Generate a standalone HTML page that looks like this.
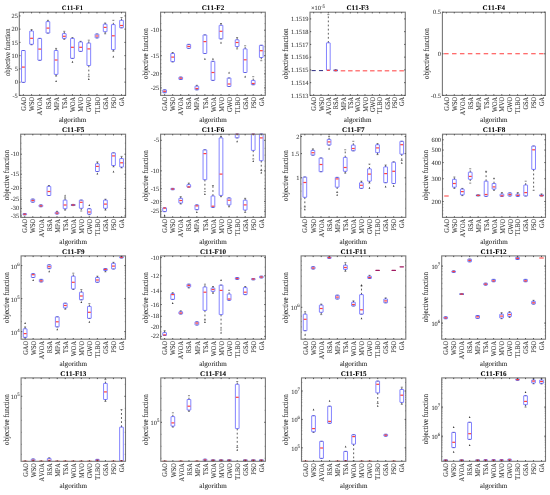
<!DOCTYPE html>
<html><head><meta charset="utf-8"><title>boxplots</title>
<style>
html,body{margin:0;padding:0;background:#fff;}
body{width:550px;height:495px;overflow:hidden;}
svg{filter:blur(0.35px);display:block;font-kerning:none;text-rendering:geometricPrecision;font-family:"Liberation Serif","Times New Roman",serif;fill:#222;}
text{stroke:#444;stroke-width:0.06;}
.ax{fill:none;stroke:#777;stroke-width:1.1;}
.tk{stroke:#333;stroke-width:0.8;}
.bx{fill:none;stroke:#4f4fff;stroke-width:0.7;}
.md{stroke:#ff4040;stroke-width:1.2;}
.fl{stroke:#ff5c5c;stroke-width:1.2;}
.fd{stroke:#a01860;stroke-width:1.3;stroke-linecap:round;}
.fk{stroke:#2a2a80;stroke-width:1.0;stroke-linecap:round;}
.wh{stroke:#333;stroke-width:0.8;stroke-dasharray:1.8 2.3;}
.cap{stroke:#333;stroke-width:0.6;}
.ol{fill:#3a3a3a;stroke:none;}
.bxs{fill:#5050d0;stroke:none;}
.mt{stroke:#555;stroke-width:0.5;}
.tl{fill:#333;}
.tt{fill:#000;}
</style></head>
<body>
<svg width="550" height="495" viewBox="0 0 550 495">
<rect width="550" height="495" fill="#fff"/>
<g>
<line x1="22.39" y1="50.5" x2="24.39" y2="50.5" class="cap"/>
<line x1="22.39" y1="82.4" x2="24.39" y2="82.4" class="cap"/>
<rect x="21.54" y="50.5" width="3.7" height="31.9" rx="0.3" class="bx"/>
<line x1="21.94" y1="67.1" x2="24.84" y2="67.1" class="md"/>
<line x1="31.57" y1="31" x2="31.57" y2="29.6" class="wh"/>
<line x1="31.57" y1="44.3" x2="31.57" y2="44.8" class="wh"/>
<line x1="30.57" y1="29.6" x2="32.57" y2="29.6" class="cap"/>
<line x1="30.57" y1="44.8" x2="32.57" y2="44.8" class="cap"/>
<rect x="29.72" y="31" width="3.7" height="13.3" rx="0.3" class="bx"/>
<line x1="30.12" y1="38.3" x2="33.02" y2="38.3" class="md"/>
<line x1="38.74" y1="38.4" x2="40.74" y2="38.4" class="cap"/>
<line x1="38.74" y1="60.3" x2="40.74" y2="60.3" class="cap"/>
<rect x="37.89" y="38.4" width="3.7" height="21.9" rx="0.3" class="bx"/>
<line x1="38.29" y1="49.1" x2="41.19" y2="49.1" class="md"/>
<line x1="47.92" y1="21.6" x2="47.92" y2="20.3" class="wh"/>
<line x1="46.92" y1="20.3" x2="48.92" y2="20.3" class="cap"/>
<line x1="46.92" y1="33.1" x2="48.92" y2="33.1" class="cap"/>
<rect x="46.07" y="21.6" width="3.7" height="11.5" rx="0.3" class="bx"/>
<line x1="46.47" y1="28.1" x2="49.37" y2="28.1" class="md"/>
<line x1="56.1" y1="50.5" x2="56.1" y2="48.4" class="wh"/>
<line x1="56.1" y1="74.4" x2="56.1" y2="76.1" class="wh"/>
<line x1="55.1" y1="48.4" x2="57.1" y2="48.4" class="cap"/>
<line x1="55.1" y1="76.1" x2="57.1" y2="76.1" class="cap"/>
<rect x="54.25" y="50.5" width="3.7" height="23.9" rx="0.3" class="bx"/>
<line x1="54.65" y1="60" x2="57.55" y2="60" class="md"/>
<path d="M55.25 82L56.95 82L56.1 80Z" class="ol"/>
<line x1="64.27" y1="33.6" x2="64.27" y2="31.3" class="wh"/>
<line x1="64.27" y1="38.4" x2="64.27" y2="39.3" class="wh"/>
<line x1="63.27" y1="31.3" x2="65.27" y2="31.3" class="cap"/>
<line x1="63.27" y1="39.3" x2="65.27" y2="39.3" class="cap"/>
<rect x="62.42" y="33.6" width="3.7" height="4.8" rx="0.3" class="bx"/>
<line x1="62.82" y1="36.3" x2="65.72" y2="36.3" class="md"/>
<line x1="72.45" y1="38.4" x2="72.45" y2="37.6" class="wh"/>
<line x1="71.45" y1="37.6" x2="73.45" y2="37.6" class="cap"/>
<line x1="71.45" y1="58.4" x2="73.45" y2="58.4" class="cap"/>
<rect x="70.6" y="38.4" width="3.7" height="20" rx="0.3" class="bx"/>
<line x1="71" y1="47.3" x2="73.9" y2="47.3" class="md"/>
<path d="M71.6 62.8L73.3 62.8L72.45 60.8Z" class="ol"/>
<line x1="80.63" y1="42" x2="80.63" y2="41.3" class="wh"/>
<line x1="79.63" y1="41.3" x2="81.63" y2="41.3" class="cap"/>
<line x1="79.63" y1="51.4" x2="81.63" y2="51.4" class="cap"/>
<rect x="78.78" y="42" width="3.7" height="9.4" rx="0.3" class="bx"/>
<line x1="79.18" y1="47.3" x2="82.08" y2="47.3" class="md"/>
<line x1="88.8" y1="43.1" x2="88.8" y2="40.2" class="wh"/>
<line x1="88.8" y1="65.5" x2="88.8" y2="76.7" class="wh"/>
<line x1="87.8" y1="40.2" x2="89.8" y2="40.2" class="cap"/>
<line x1="87.8" y1="76.7" x2="89.8" y2="76.7" class="cap"/>
<rect x="86.95" y="43.1" width="3.7" height="22.4" rx="0.3" class="bx"/>
<line x1="87.35" y1="48.9" x2="90.25" y2="48.9" class="md"/>
<path d="M87.95 79.9L89.65 79.9L88.8 77.9Z" class="ol"/>
<line x1="95.98" y1="34" x2="97.98" y2="34" class="cap"/>
<line x1="95.98" y1="37.9" x2="97.98" y2="37.9" class="cap"/>
<rect x="95.13" y="34" width="3.7" height="3.9" rx="0.3" class="bx"/>
<line x1="95.53" y1="36" x2="98.43" y2="36" class="md"/>
<line x1="105.16" y1="24.2" x2="105.16" y2="23" class="wh"/>
<line x1="105.16" y1="31.7" x2="105.16" y2="33.8" class="wh"/>
<line x1="104.16" y1="23" x2="106.16" y2="23" class="cap"/>
<line x1="104.16" y1="33.8" x2="106.16" y2="33.8" class="cap"/>
<rect x="103.31" y="24.2" width="3.7" height="7.5" rx="0.3" class="bx"/>
<line x1="103.71" y1="27.4" x2="106.61" y2="27.4" class="md"/>
<line x1="113.33" y1="24.6" x2="113.33" y2="20.3" class="wh"/>
<line x1="113.33" y1="49.6" x2="113.33" y2="51.2" class="wh"/>
<line x1="112.33" y1="20.3" x2="114.33" y2="20.3" class="cap"/>
<line x1="112.33" y1="51.2" x2="114.33" y2="51.2" class="cap"/>
<rect x="111.48" y="24.6" width="3.7" height="25" rx="0.3" class="bx"/>
<line x1="111.88" y1="35.8" x2="114.78" y2="35.8" class="md"/>
<path d="M112.48 57.5L114.18 57.5L113.33 55.5Z" class="ol"/>
<line x1="121.51" y1="20.3" x2="121.51" y2="17.5" class="wh"/>
<line x1="120.51" y1="17.5" x2="122.51" y2="17.5" class="cap"/>
<line x1="120.51" y1="27.8" x2="122.51" y2="27.8" class="cap"/>
<rect x="119.66" y="20.3" width="3.7" height="7.5" rx="0.3" class="bx"/>
<line x1="120.06" y1="25.5" x2="122.96" y2="25.5" class="md"/>
</g>
<rect x="19.3" y="12.2" width="106.3" height="83.2" class="ax"/>
<line x1="23.39" y1="95.4" x2="23.39" y2="94.2" class="tk"/>
<line x1="23.39" y1="12.2" x2="23.39" y2="13.4" class="tk"/>
<line x1="31.57" y1="95.4" x2="31.57" y2="94.2" class="tk"/>
<line x1="31.57" y1="12.2" x2="31.57" y2="13.4" class="tk"/>
<line x1="39.74" y1="95.4" x2="39.74" y2="94.2" class="tk"/>
<line x1="39.74" y1="12.2" x2="39.74" y2="13.4" class="tk"/>
<line x1="47.92" y1="95.4" x2="47.92" y2="94.2" class="tk"/>
<line x1="47.92" y1="12.2" x2="47.92" y2="13.4" class="tk"/>
<line x1="56.1" y1="95.4" x2="56.1" y2="94.2" class="tk"/>
<line x1="56.1" y1="12.2" x2="56.1" y2="13.4" class="tk"/>
<line x1="64.27" y1="95.4" x2="64.27" y2="94.2" class="tk"/>
<line x1="64.27" y1="12.2" x2="64.27" y2="13.4" class="tk"/>
<line x1="72.45" y1="95.4" x2="72.45" y2="94.2" class="tk"/>
<line x1="72.45" y1="12.2" x2="72.45" y2="13.4" class="tk"/>
<line x1="80.63" y1="95.4" x2="80.63" y2="94.2" class="tk"/>
<line x1="80.63" y1="12.2" x2="80.63" y2="13.4" class="tk"/>
<line x1="88.8" y1="95.4" x2="88.8" y2="94.2" class="tk"/>
<line x1="88.8" y1="12.2" x2="88.8" y2="13.4" class="tk"/>
<line x1="96.98" y1="95.4" x2="96.98" y2="94.2" class="tk"/>
<line x1="96.98" y1="12.2" x2="96.98" y2="13.4" class="tk"/>
<line x1="105.16" y1="95.4" x2="105.16" y2="94.2" class="tk"/>
<line x1="105.16" y1="12.2" x2="105.16" y2="13.4" class="tk"/>
<line x1="113.33" y1="95.4" x2="113.33" y2="94.2" class="tk"/>
<line x1="113.33" y1="12.2" x2="113.33" y2="13.4" class="tk"/>
<line x1="121.51" y1="95.4" x2="121.51" y2="94.2" class="tk"/>
<line x1="121.51" y1="12.2" x2="121.51" y2="13.4" class="tk"/>
<line x1="19.3" y1="95.4" x2="20.5" y2="95.4" class="tk"/>
<line x1="125.6" y1="95.4" x2="124.4" y2="95.4" class="tk"/>
<text transform="translate(17.8,97.5)" font-size="6.35" text-anchor="end" class="tl">-5</text>
<line x1="19.3" y1="82.15" x2="20.5" y2="82.15" class="tk"/>
<line x1="125.6" y1="82.15" x2="124.4" y2="82.15" class="tk"/>
<text transform="translate(17.8,84.25)" font-size="6.35" text-anchor="end" class="tl">0</text>
<line x1="19.3" y1="68.9" x2="20.5" y2="68.9" class="tk"/>
<line x1="125.6" y1="68.9" x2="124.4" y2="68.9" class="tk"/>
<text transform="translate(17.8,71)" font-size="6.35" text-anchor="end" class="tl">5</text>
<line x1="19.3" y1="55.65" x2="20.5" y2="55.65" class="tk"/>
<line x1="125.6" y1="55.65" x2="124.4" y2="55.65" class="tk"/>
<text transform="translate(17.8,57.75)" font-size="6.35" text-anchor="end" class="tl">10</text>
<line x1="19.3" y1="42.4" x2="20.5" y2="42.4" class="tk"/>
<line x1="125.6" y1="42.4" x2="124.4" y2="42.4" class="tk"/>
<text transform="translate(17.8,44.5)" font-size="6.35" text-anchor="end" class="tl">15</text>
<line x1="19.3" y1="29.15" x2="20.5" y2="29.15" class="tk"/>
<line x1="125.6" y1="29.15" x2="124.4" y2="29.15" class="tk"/>
<text transform="translate(17.8,31.25)" font-size="6.35" text-anchor="end" class="tl">20</text>
<line x1="19.3" y1="15.9" x2="20.5" y2="15.9" class="tk"/>
<line x1="125.6" y1="15.9" x2="124.4" y2="15.9" class="tk"/>
<text transform="translate(17.8,18)" font-size="6.35" text-anchor="end" class="tl">25</text>
<text transform="translate(26.04,96.9) rotate(-90) scale(1,1.15)" font-size="6.35" text-anchor="end" class="tl">GAO</text>
<text transform="translate(34.22,96.9) rotate(-90) scale(1,1.15)" font-size="6.35" text-anchor="end" class="tl">WSO</text>
<text transform="translate(42.39,96.9) rotate(-90) scale(1,1.15)" font-size="6.35" text-anchor="end" class="tl">AVOA</text>
<text transform="translate(50.57,96.9) rotate(-90) scale(1,1.15)" font-size="6.35" text-anchor="end" class="tl">RSA</text>
<text transform="translate(58.75,96.9) rotate(-90) scale(1,1.15)" font-size="6.35" text-anchor="end" class="tl">MPA</text>
<text transform="translate(66.92,96.9) rotate(-90) scale(1,1.15)" font-size="6.35" text-anchor="end" class="tl">TSA</text>
<text transform="translate(75.1,96.9) rotate(-90) scale(1,1.15)" font-size="6.35" text-anchor="end" class="tl">WOA</text>
<text transform="translate(83.28,96.9) rotate(-90) scale(1,1.15)" font-size="6.35" text-anchor="end" class="tl">MVO</text>
<text transform="translate(91.45,96.9) rotate(-90) scale(1,1.15)" font-size="6.35" text-anchor="end" class="tl">GWO</text>
<text transform="translate(99.63,96.9) rotate(-90) scale(1,1.15)" font-size="6.35" text-anchor="end" class="tl">TLBO</text>
<text transform="translate(107.81,96.9) rotate(-90) scale(1,1.15)" font-size="6.35" text-anchor="end" class="tl">GSA</text>
<text transform="translate(115.98,96.9) rotate(-90) scale(1,1.15)" font-size="6.35" text-anchor="end" class="tl">PSO</text>
<text transform="translate(124.16,96.9) rotate(-90) scale(1,1.15)" font-size="6.35" text-anchor="end" class="tl">GA</text>
<text transform="translate(72.45,121.5)" font-size="7.1" text-anchor="middle">algorithm</text>
<text transform="translate(9.7,52.25) rotate(-90) scale(1,1.15)" font-size="6.57" text-anchor="middle">objective function</text>
<text transform="translate(72.45,10.2)" font-size="6.7" text-anchor="middle" font-weight="bold" class="tt">C11-F1</text>
<g>
<line x1="163.63" y1="89.8" x2="165.63" y2="89.8" class="cap"/>
<line x1="163.63" y1="92.7" x2="165.63" y2="92.7" class="cap"/>
<rect x="162.78" y="89.8" width="3.7" height="2.9" rx="0.3" class="bx"/>
<line x1="163.18" y1="91.3" x2="166.08" y2="91.3" class="md"/>
<line x1="172.68" y1="53.5" x2="172.68" y2="52.5" class="wh"/>
<line x1="172.68" y1="61.6" x2="172.68" y2="62" class="wh"/>
<line x1="171.68" y1="52.5" x2="173.68" y2="52.5" class="cap"/>
<line x1="171.68" y1="62" x2="173.68" y2="62" class="cap"/>
<rect x="170.83" y="53.5" width="3.7" height="8.1" rx="0.3" class="bx"/>
<line x1="171.23" y1="57.1" x2="174.13" y2="57.1" class="md"/>
<line x1="179.73" y1="77.1" x2="181.73" y2="77.1" class="cap"/>
<line x1="179.73" y1="79.5" x2="181.73" y2="79.5" class="cap"/>
<rect x="178.88" y="77.1" width="3.7" height="2.4" rx="0.3" class="bx"/>
<line x1="179.28" y1="78.2" x2="182.18" y2="78.2" class="md"/>
<line x1="187.79" y1="44.4" x2="189.79" y2="44.4" class="cap"/>
<line x1="187.79" y1="48.4" x2="189.79" y2="48.4" class="cap"/>
<rect x="186.94" y="44.4" width="3.7" height="4" rx="0.3" class="bx"/>
<line x1="187.34" y1="46.4" x2="190.24" y2="46.4" class="md"/>
<line x1="196.84" y1="86.2" x2="196.84" y2="85.3" class="wh"/>
<line x1="195.84" y1="85.3" x2="197.84" y2="85.3" class="cap"/>
<line x1="195.84" y1="89.8" x2="197.84" y2="89.8" class="cap"/>
<rect x="194.99" y="86.2" width="3.7" height="3.6" rx="0.3" class="bx"/>
<line x1="195.39" y1="88.5" x2="198.29" y2="88.5" class="md"/>
<line x1="203.9" y1="34.9" x2="205.9" y2="34.9" class="cap"/>
<line x1="203.9" y1="53.5" x2="205.9" y2="53.5" class="cap"/>
<rect x="203.05" y="34.9" width="3.7" height="18.6" rx="0.3" class="bx"/>
<line x1="203.45" y1="41.6" x2="206.35" y2="41.6" class="md"/>
<path d="M204.05 59.8L205.75 59.8L204.9 57.8Z" class="ol"/>
<line x1="211.95" y1="61.3" x2="213.95" y2="61.3" class="cap"/>
<line x1="211.95" y1="80.4" x2="213.95" y2="80.4" class="cap"/>
<rect x="211.1" y="61.3" width="3.7" height="19.1" rx="0.3" class="bx"/>
<line x1="211.5" y1="72.5" x2="214.4" y2="72.5" class="md"/>
<path d="M212.1 59.8L213.8 59.8L212.95 57.8Z" class="ol"/>
<line x1="221" y1="25.3" x2="221" y2="23.5" class="wh"/>
<line x1="220" y1="23.5" x2="222" y2="23.5" class="cap"/>
<line x1="220" y1="38.9" x2="222" y2="38.9" class="cap"/>
<rect x="219.15" y="25.3" width="3.7" height="13.6" rx="0.3" class="bx"/>
<line x1="219.55" y1="31.3" x2="222.45" y2="31.3" class="md"/>
<path d="M220.15 43.4L221.85 43.4L221 41.4Z" class="ol"/>
<line x1="228.06" y1="78" x2="230.06" y2="78" class="cap"/>
<line x1="228.06" y1="86.5" x2="230.06" y2="86.5" class="cap"/>
<rect x="227.21" y="78" width="3.7" height="8.5" rx="0.3" class="bx"/>
<line x1="227.61" y1="84" x2="230.51" y2="84" class="md"/>
<path d="M228.21 73.4L229.91 73.4L229.06 71.4Z" class="ol"/>
<line x1="237.11" y1="39.8" x2="237.11" y2="37.5" class="wh"/>
<line x1="237.11" y1="46.5" x2="237.11" y2="48.9" class="wh"/>
<line x1="236.11" y1="37.5" x2="238.11" y2="37.5" class="cap"/>
<line x1="236.11" y1="48.9" x2="238.11" y2="48.9" class="cap"/>
<rect x="235.26" y="39.8" width="3.7" height="6.7" rx="0.3" class="bx"/>
<line x1="235.66" y1="42.5" x2="238.56" y2="42.5" class="md"/>
<line x1="245.17" y1="48.9" x2="245.17" y2="45.8" class="wh"/>
<line x1="244.17" y1="45.8" x2="246.17" y2="45.8" class="cap"/>
<line x1="244.17" y1="72.5" x2="246.17" y2="72.5" class="cap"/>
<rect x="243.32" y="48.9" width="3.7" height="23.6" rx="0.3" class="bx"/>
<line x1="243.72" y1="59.8" x2="246.62" y2="59.8" class="md"/>
<path d="M244.32 77.6L246.02 77.6L245.17 75.6Z" class="ol"/>
<line x1="253.22" y1="80.4" x2="253.22" y2="76.7" class="wh"/>
<line x1="252.22" y1="76.7" x2="254.22" y2="76.7" class="cap"/>
<line x1="252.22" y1="84.7" x2="254.22" y2="84.7" class="cap"/>
<rect x="251.37" y="80.4" width="3.7" height="4.3" rx="0.3" class="bx"/>
<line x1="251.77" y1="83.5" x2="254.67" y2="83.5" class="md"/>
<line x1="261.27" y1="57.5" x2="261.27" y2="60.7" class="wh"/>
<line x1="260.27" y1="45.3" x2="262.27" y2="45.3" class="cap"/>
<line x1="260.27" y1="60.7" x2="262.27" y2="60.7" class="cap"/>
<rect x="259.42" y="45.3" width="3.7" height="12.2" rx="0.3" class="bx"/>
<line x1="259.82" y1="50.7" x2="262.72" y2="50.7" class="md"/>
</g>
<rect x="160.6" y="12.2" width="104.7" height="83.2" class="ax"/>
<line x1="164.63" y1="95.4" x2="164.63" y2="94.2" class="tk"/>
<line x1="164.63" y1="12.2" x2="164.63" y2="13.4" class="tk"/>
<line x1="172.68" y1="95.4" x2="172.68" y2="94.2" class="tk"/>
<line x1="172.68" y1="12.2" x2="172.68" y2="13.4" class="tk"/>
<line x1="180.73" y1="95.4" x2="180.73" y2="94.2" class="tk"/>
<line x1="180.73" y1="12.2" x2="180.73" y2="13.4" class="tk"/>
<line x1="188.79" y1="95.4" x2="188.79" y2="94.2" class="tk"/>
<line x1="188.79" y1="12.2" x2="188.79" y2="13.4" class="tk"/>
<line x1="196.84" y1="95.4" x2="196.84" y2="94.2" class="tk"/>
<line x1="196.84" y1="12.2" x2="196.84" y2="13.4" class="tk"/>
<line x1="204.9" y1="95.4" x2="204.9" y2="94.2" class="tk"/>
<line x1="204.9" y1="12.2" x2="204.9" y2="13.4" class="tk"/>
<line x1="212.95" y1="95.4" x2="212.95" y2="94.2" class="tk"/>
<line x1="212.95" y1="12.2" x2="212.95" y2="13.4" class="tk"/>
<line x1="221" y1="95.4" x2="221" y2="94.2" class="tk"/>
<line x1="221" y1="12.2" x2="221" y2="13.4" class="tk"/>
<line x1="229.06" y1="95.4" x2="229.06" y2="94.2" class="tk"/>
<line x1="229.06" y1="12.2" x2="229.06" y2="13.4" class="tk"/>
<line x1="237.11" y1="95.4" x2="237.11" y2="94.2" class="tk"/>
<line x1="237.11" y1="12.2" x2="237.11" y2="13.4" class="tk"/>
<line x1="245.17" y1="95.4" x2="245.17" y2="94.2" class="tk"/>
<line x1="245.17" y1="12.2" x2="245.17" y2="13.4" class="tk"/>
<line x1="253.22" y1="95.4" x2="253.22" y2="94.2" class="tk"/>
<line x1="253.22" y1="12.2" x2="253.22" y2="13.4" class="tk"/>
<line x1="261.27" y1="95.4" x2="261.27" y2="94.2" class="tk"/>
<line x1="261.27" y1="12.2" x2="261.27" y2="13.4" class="tk"/>
<line x1="160.6" y1="30.2" x2="161.8" y2="30.2" class="tk"/>
<line x1="265.3" y1="30.2" x2="264.1" y2="30.2" class="tk"/>
<text transform="translate(159.1,32.3)" font-size="6.35" text-anchor="end" class="tl">-10</text>
<line x1="160.6" y1="55.73" x2="161.8" y2="55.73" class="tk"/>
<line x1="265.3" y1="55.73" x2="264.1" y2="55.73" class="tk"/>
<text transform="translate(159.1,57.83)" font-size="6.35" text-anchor="end" class="tl">-15</text>
<line x1="160.6" y1="73.85" x2="161.8" y2="73.85" class="tk"/>
<line x1="265.3" y1="73.85" x2="264.1" y2="73.85" class="tk"/>
<text transform="translate(159.1,75.95)" font-size="6.35" text-anchor="end" class="tl">-20</text>
<line x1="160.6" y1="87.9" x2="161.8" y2="87.9" class="tk"/>
<line x1="265.3" y1="87.9" x2="264.1" y2="87.9" class="tk"/>
<text transform="translate(159.1,90)" font-size="6.35" text-anchor="end" class="tl">-25</text>
<line x1="160.6" y1="16.15" x2="161.4" y2="16.15" class="mt"/>
<line x1="265.3" y1="16.15" x2="264.5" y2="16.15" class="mt"/>
<line x1="160.6" y1="23.57" x2="161.4" y2="23.57" class="mt"/>
<line x1="265.3" y1="23.57" x2="264.5" y2="23.57" class="mt"/>
<line x1="160.6" y1="36.2" x2="161.4" y2="36.2" class="mt"/>
<line x1="265.3" y1="36.2" x2="264.5" y2="36.2" class="mt"/>
<line x1="160.6" y1="41.68" x2="161.4" y2="41.68" class="mt"/>
<line x1="265.3" y1="41.68" x2="264.5" y2="41.68" class="mt"/>
<line x1="160.6" y1="46.72" x2="161.4" y2="46.72" class="mt"/>
<line x1="265.3" y1="46.72" x2="264.5" y2="46.72" class="mt"/>
<line x1="160.6" y1="51.39" x2="161.4" y2="51.39" class="mt"/>
<line x1="265.3" y1="51.39" x2="264.5" y2="51.39" class="mt"/>
<line x1="160.6" y1="59.8" x2="161.4" y2="59.8" class="mt"/>
<line x1="265.3" y1="59.8" x2="264.5" y2="59.8" class="mt"/>
<line x1="160.6" y1="63.62" x2="161.4" y2="63.62" class="mt"/>
<line x1="265.3" y1="63.62" x2="264.5" y2="63.62" class="mt"/>
<line x1="160.6" y1="67.21" x2="161.4" y2="67.21" class="mt"/>
<line x1="265.3" y1="67.21" x2="264.5" y2="67.21" class="mt"/>
<line x1="160.6" y1="70.62" x2="161.4" y2="70.62" class="mt"/>
<line x1="265.3" y1="70.62" x2="264.5" y2="70.62" class="mt"/>
<line x1="160.6" y1="76.92" x2="161.4" y2="76.92" class="mt"/>
<line x1="265.3" y1="76.92" x2="264.5" y2="76.92" class="mt"/>
<line x1="160.6" y1="79.85" x2="161.4" y2="79.85" class="mt"/>
<line x1="265.3" y1="79.85" x2="264.5" y2="79.85" class="mt"/>
<line x1="160.6" y1="82.65" x2="161.4" y2="82.65" class="mt"/>
<line x1="265.3" y1="82.65" x2="264.5" y2="82.65" class="mt"/>
<line x1="160.6" y1="85.33" x2="161.4" y2="85.33" class="mt"/>
<line x1="265.3" y1="85.33" x2="264.5" y2="85.33" class="mt"/>
<line x1="160.6" y1="90.37" x2="161.4" y2="90.37" class="mt"/>
<line x1="265.3" y1="90.37" x2="264.5" y2="90.37" class="mt"/>
<line x1="160.6" y1="92.75" x2="161.4" y2="92.75" class="mt"/>
<line x1="265.3" y1="92.75" x2="264.5" y2="92.75" class="mt"/>
<text transform="translate(167.28,96.9) rotate(-90) scale(1,1.15)" font-size="6.35" text-anchor="end" class="tl">GAO</text>
<text transform="translate(175.33,96.9) rotate(-90) scale(1,1.15)" font-size="6.35" text-anchor="end" class="tl">WSO</text>
<text transform="translate(183.38,96.9) rotate(-90) scale(1,1.15)" font-size="6.35" text-anchor="end" class="tl">AVOA</text>
<text transform="translate(191.44,96.9) rotate(-90) scale(1,1.15)" font-size="6.35" text-anchor="end" class="tl">RSA</text>
<text transform="translate(199.49,96.9) rotate(-90) scale(1,1.15)" font-size="6.35" text-anchor="end" class="tl">MPA</text>
<text transform="translate(207.55,96.9) rotate(-90) scale(1,1.15)" font-size="6.35" text-anchor="end" class="tl">TSA</text>
<text transform="translate(215.6,96.9) rotate(-90) scale(1,1.15)" font-size="6.35" text-anchor="end" class="tl">WOA</text>
<text transform="translate(223.65,96.9) rotate(-90) scale(1,1.15)" font-size="6.35" text-anchor="end" class="tl">MVO</text>
<text transform="translate(231.71,96.9) rotate(-90) scale(1,1.15)" font-size="6.35" text-anchor="end" class="tl">GWO</text>
<text transform="translate(239.76,96.9) rotate(-90) scale(1,1.15)" font-size="6.35" text-anchor="end" class="tl">TLBO</text>
<text transform="translate(247.82,96.9) rotate(-90) scale(1,1.15)" font-size="6.35" text-anchor="end" class="tl">GSA</text>
<text transform="translate(255.87,96.9) rotate(-90) scale(1,1.15)" font-size="6.35" text-anchor="end" class="tl">PSO</text>
<text transform="translate(263.92,96.9) rotate(-90) scale(1,1.15)" font-size="6.35" text-anchor="end" class="tl">GA</text>
<text transform="translate(212.95,121.5)" font-size="7.1" text-anchor="middle">algorithm</text>
<text transform="translate(148.4,53.6) rotate(-90) scale(1,1.15)" font-size="7.02" text-anchor="middle">objective function</text>
<text transform="translate(212.95,10.2)" font-size="7.1" text-anchor="middle" font-weight="bold" class="tt">C11-F2</text>
<g>
<line x1="312.02" y1="70.6" x2="315.32" y2="70.6" class="fk"/>
<line x1="319.35" y1="70.6" x2="322.65" y2="70.6" class="fk"/>
<line x1="328.33" y1="42.8" x2="328.33" y2="14.6" class="wh"/>
<line x1="327.33" y1="14.6" x2="329.33" y2="14.6" class="cap"/>
<line x1="327.33" y1="70.3" x2="329.33" y2="70.3" class="cap"/>
<rect x="326.48" y="42.8" width="3.7" height="27.5" rx="0.3" class="bx"/>
<line x1="326.88" y1="70.3" x2="329.78" y2="70.3" class="md"/>
<line x1="335.66" y1="69.9" x2="335.66" y2="69.6" class="wh"/>
<line x1="334.66" y1="69.6" x2="336.66" y2="69.6" class="cap"/>
<line x1="334.66" y1="70.9" x2="336.66" y2="70.9" class="cap"/>
<rect x="333.41" y="69.6" width="4.5" height="1.6" class="bxs"/>
<line x1="334.21" y1="70.5" x2="337.11" y2="70.5" class="md"/>
<line x1="340.74" y1="70.8" x2="345.24" y2="70.8" class="fl"/>
<line x1="348.07" y1="70.8" x2="352.57" y2="70.8" class="fl"/>
<line x1="355.4" y1="70.8" x2="359.9" y2="70.8" class="fl"/>
<line x1="362.73" y1="70.8" x2="367.23" y2="70.8" class="fl"/>
<line x1="370.06" y1="70.8" x2="374.56" y2="70.8" class="fl"/>
<line x1="377.39" y1="70.8" x2="381.89" y2="70.8" class="fl"/>
<line x1="384.72" y1="70.8" x2="389.22" y2="70.8" class="fl"/>
<line x1="392.05" y1="70.8" x2="396.55" y2="70.8" class="fl"/>
<line x1="399.38" y1="70.8" x2="403.88" y2="70.8" class="fl"/>
</g>
<rect x="310" y="12.2" width="95.3" height="83.2" class="ax"/>
<line x1="313.67" y1="95.4" x2="313.67" y2="94.2" class="tk"/>
<line x1="313.67" y1="12.2" x2="313.67" y2="13.4" class="tk"/>
<line x1="321" y1="95.4" x2="321" y2="94.2" class="tk"/>
<line x1="321" y1="12.2" x2="321" y2="13.4" class="tk"/>
<line x1="328.33" y1="95.4" x2="328.33" y2="94.2" class="tk"/>
<line x1="328.33" y1="12.2" x2="328.33" y2="13.4" class="tk"/>
<line x1="335.66" y1="95.4" x2="335.66" y2="94.2" class="tk"/>
<line x1="335.66" y1="12.2" x2="335.66" y2="13.4" class="tk"/>
<line x1="342.99" y1="95.4" x2="342.99" y2="94.2" class="tk"/>
<line x1="342.99" y1="12.2" x2="342.99" y2="13.4" class="tk"/>
<line x1="350.32" y1="95.4" x2="350.32" y2="94.2" class="tk"/>
<line x1="350.32" y1="12.2" x2="350.32" y2="13.4" class="tk"/>
<line x1="357.65" y1="95.4" x2="357.65" y2="94.2" class="tk"/>
<line x1="357.65" y1="12.2" x2="357.65" y2="13.4" class="tk"/>
<line x1="364.98" y1="95.4" x2="364.98" y2="94.2" class="tk"/>
<line x1="364.98" y1="12.2" x2="364.98" y2="13.4" class="tk"/>
<line x1="372.31" y1="95.4" x2="372.31" y2="94.2" class="tk"/>
<line x1="372.31" y1="12.2" x2="372.31" y2="13.4" class="tk"/>
<line x1="379.64" y1="95.4" x2="379.64" y2="94.2" class="tk"/>
<line x1="379.64" y1="12.2" x2="379.64" y2="13.4" class="tk"/>
<line x1="386.97" y1="95.4" x2="386.97" y2="94.2" class="tk"/>
<line x1="386.97" y1="12.2" x2="386.97" y2="13.4" class="tk"/>
<line x1="394.3" y1="95.4" x2="394.3" y2="94.2" class="tk"/>
<line x1="394.3" y1="12.2" x2="394.3" y2="13.4" class="tk"/>
<line x1="401.63" y1="95.4" x2="401.63" y2="94.2" class="tk"/>
<line x1="401.63" y1="12.2" x2="401.63" y2="13.4" class="tk"/>
<line x1="310" y1="18.9" x2="311.2" y2="18.9" class="tk"/>
<line x1="405.3" y1="18.9" x2="404.1" y2="18.9" class="tk"/>
<text transform="translate(308.5,21)" font-size="6.35" text-anchor="end" class="tl">1.1519</text>
<line x1="310" y1="31.65" x2="311.2" y2="31.65" class="tk"/>
<line x1="405.3" y1="31.65" x2="404.1" y2="31.65" class="tk"/>
<text transform="translate(308.5,33.75)" font-size="6.35" text-anchor="end" class="tl">1.1518</text>
<line x1="310" y1="44.4" x2="311.2" y2="44.4" class="tk"/>
<line x1="405.3" y1="44.4" x2="404.1" y2="44.4" class="tk"/>
<text transform="translate(308.5,46.5)" font-size="6.35" text-anchor="end" class="tl">1.1517</text>
<line x1="310" y1="57.15" x2="311.2" y2="57.15" class="tk"/>
<line x1="405.3" y1="57.15" x2="404.1" y2="57.15" class="tk"/>
<text transform="translate(308.5,59.25)" font-size="6.35" text-anchor="end" class="tl">1.1516</text>
<line x1="310" y1="69.9" x2="311.2" y2="69.9" class="tk"/>
<line x1="405.3" y1="69.9" x2="404.1" y2="69.9" class="tk"/>
<text transform="translate(308.5,72)" font-size="6.35" text-anchor="end" class="tl">1.1515</text>
<line x1="310" y1="82.65" x2="311.2" y2="82.65" class="tk"/>
<line x1="405.3" y1="82.65" x2="404.1" y2="82.65" class="tk"/>
<text transform="translate(308.5,84.75)" font-size="6.35" text-anchor="end" class="tl">1.1514</text>
<line x1="310" y1="95.4" x2="311.2" y2="95.4" class="tk"/>
<line x1="405.3" y1="95.4" x2="404.1" y2="95.4" class="tk"/>
<text transform="translate(308.5,97.5)" font-size="6.35" text-anchor="end" class="tl">1.1513</text>
<text transform="translate(316.32,96.9) rotate(-90) scale(1,1.15)" font-size="6.35" text-anchor="end" class="tl">GAO</text>
<text transform="translate(323.65,96.9) rotate(-90) scale(1,1.15)" font-size="6.35" text-anchor="end" class="tl">WSO</text>
<text transform="translate(330.98,96.9) rotate(-90) scale(1,1.15)" font-size="6.35" text-anchor="end" class="tl">AVOA</text>
<text transform="translate(338.31,96.9) rotate(-90) scale(1,1.15)" font-size="6.35" text-anchor="end" class="tl">RSA</text>
<text transform="translate(345.64,96.9) rotate(-90) scale(1,1.15)" font-size="6.35" text-anchor="end" class="tl">MPA</text>
<text transform="translate(352.97,96.9) rotate(-90) scale(1,1.15)" font-size="6.35" text-anchor="end" class="tl">TSA</text>
<text transform="translate(360.3,96.9) rotate(-90) scale(1,1.15)" font-size="6.35" text-anchor="end" class="tl">WOA</text>
<text transform="translate(367.63,96.9) rotate(-90) scale(1,1.15)" font-size="6.35" text-anchor="end" class="tl">MVO</text>
<text transform="translate(374.96,96.9) rotate(-90) scale(1,1.15)" font-size="6.35" text-anchor="end" class="tl">GWO</text>
<text transform="translate(382.29,96.9) rotate(-90) scale(1,1.15)" font-size="6.35" text-anchor="end" class="tl">TLBO</text>
<text transform="translate(389.62,96.9) rotate(-90) scale(1,1.15)" font-size="6.35" text-anchor="end" class="tl">GSA</text>
<text transform="translate(396.95,96.9) rotate(-90) scale(1,1.15)" font-size="6.35" text-anchor="end" class="tl">PSO</text>
<text transform="translate(404.28,96.9) rotate(-90) scale(1,1.15)" font-size="6.35" text-anchor="end" class="tl">GA</text>
<text transform="translate(357.65,121.5)" font-size="7.1" text-anchor="middle">algorithm</text>
<text transform="translate(288.4,53.75) rotate(-90) scale(1,1.15)" font-size="6.98" text-anchor="middle">objective function</text>
<text transform="translate(357.65,10.2)" font-size="7.1" text-anchor="middle" font-weight="bold" class="tt">C11-F3</text>
<text x="311" y="9.9" font-size="6.4" class="tl">×10<tspan font-size="4.8" dy="-2.2">-5</tspan></text>
<g>
<line x1="444.11" y1="53.7" x2="448.61" y2="53.7" class="fl"/>
<line x1="452.02" y1="53.7" x2="456.52" y2="53.7" class="fl"/>
<line x1="459.94" y1="53.7" x2="464.44" y2="53.7" class="fl"/>
<line x1="467.85" y1="53.7" x2="472.35" y2="53.7" class="fl"/>
<line x1="475.77" y1="53.7" x2="480.27" y2="53.7" class="fl"/>
<line x1="483.68" y1="53.7" x2="488.18" y2="53.7" class="fl"/>
<line x1="491.6" y1="53.7" x2="496.1" y2="53.7" class="fl"/>
<line x1="499.52" y1="53.7" x2="504.02" y2="53.7" class="fl"/>
<line x1="507.43" y1="53.7" x2="511.93" y2="53.7" class="fl"/>
<line x1="515.35" y1="53.7" x2="519.85" y2="53.7" class="fl"/>
<line x1="523.26" y1="53.7" x2="527.76" y2="53.7" class="fl"/>
<line x1="531.18" y1="53.7" x2="535.68" y2="53.7" class="fl"/>
<line x1="539.09" y1="53.7" x2="543.59" y2="53.7" class="fl"/>
</g>
<rect x="442.4" y="12.2" width="102.9" height="83.2" class="ax"/>
<line x1="446.36" y1="95.4" x2="446.36" y2="94.2" class="tk"/>
<line x1="446.36" y1="12.2" x2="446.36" y2="13.4" class="tk"/>
<line x1="454.27" y1="95.4" x2="454.27" y2="94.2" class="tk"/>
<line x1="454.27" y1="12.2" x2="454.27" y2="13.4" class="tk"/>
<line x1="462.19" y1="95.4" x2="462.19" y2="94.2" class="tk"/>
<line x1="462.19" y1="12.2" x2="462.19" y2="13.4" class="tk"/>
<line x1="470.1" y1="95.4" x2="470.1" y2="94.2" class="tk"/>
<line x1="470.1" y1="12.2" x2="470.1" y2="13.4" class="tk"/>
<line x1="478.02" y1="95.4" x2="478.02" y2="94.2" class="tk"/>
<line x1="478.02" y1="12.2" x2="478.02" y2="13.4" class="tk"/>
<line x1="485.93" y1="95.4" x2="485.93" y2="94.2" class="tk"/>
<line x1="485.93" y1="12.2" x2="485.93" y2="13.4" class="tk"/>
<line x1="493.85" y1="95.4" x2="493.85" y2="94.2" class="tk"/>
<line x1="493.85" y1="12.2" x2="493.85" y2="13.4" class="tk"/>
<line x1="501.77" y1="95.4" x2="501.77" y2="94.2" class="tk"/>
<line x1="501.77" y1="12.2" x2="501.77" y2="13.4" class="tk"/>
<line x1="509.68" y1="95.4" x2="509.68" y2="94.2" class="tk"/>
<line x1="509.68" y1="12.2" x2="509.68" y2="13.4" class="tk"/>
<line x1="517.6" y1="95.4" x2="517.6" y2="94.2" class="tk"/>
<line x1="517.6" y1="12.2" x2="517.6" y2="13.4" class="tk"/>
<line x1="525.51" y1="95.4" x2="525.51" y2="94.2" class="tk"/>
<line x1="525.51" y1="12.2" x2="525.51" y2="13.4" class="tk"/>
<line x1="533.43" y1="95.4" x2="533.43" y2="94.2" class="tk"/>
<line x1="533.43" y1="12.2" x2="533.43" y2="13.4" class="tk"/>
<line x1="541.34" y1="95.4" x2="541.34" y2="94.2" class="tk"/>
<line x1="541.34" y1="12.2" x2="541.34" y2="13.4" class="tk"/>
<line x1="442.4" y1="12.2" x2="443.6" y2="12.2" class="tk"/>
<line x1="545.3" y1="12.2" x2="544.1" y2="12.2" class="tk"/>
<text transform="translate(440.9,14.3)" font-size="6.35" text-anchor="end" class="tl">0.5</text>
<line x1="442.4" y1="53.8" x2="443.6" y2="53.8" class="tk"/>
<line x1="545.3" y1="53.8" x2="544.1" y2="53.8" class="tk"/>
<text transform="translate(440.9,55.9)" font-size="6.35" text-anchor="end" class="tl">0</text>
<line x1="442.4" y1="95.4" x2="443.6" y2="95.4" class="tk"/>
<line x1="545.3" y1="95.4" x2="544.1" y2="95.4" class="tk"/>
<text transform="translate(440.9,97.5)" font-size="6.35" text-anchor="end" class="tl">-0.5</text>
<text transform="translate(449.01,96.9) rotate(-90) scale(1,1.15)" font-size="6.35" text-anchor="end" class="tl">GAO</text>
<text transform="translate(456.92,96.9) rotate(-90) scale(1,1.15)" font-size="6.35" text-anchor="end" class="tl">WSO</text>
<text transform="translate(464.84,96.9) rotate(-90) scale(1,1.15)" font-size="6.35" text-anchor="end" class="tl">AVOA</text>
<text transform="translate(472.75,96.9) rotate(-90) scale(1,1.15)" font-size="6.35" text-anchor="end" class="tl">RSA</text>
<text transform="translate(480.67,96.9) rotate(-90) scale(1,1.15)" font-size="6.35" text-anchor="end" class="tl">MPA</text>
<text transform="translate(488.58,96.9) rotate(-90) scale(1,1.15)" font-size="6.35" text-anchor="end" class="tl">TSA</text>
<text transform="translate(496.5,96.9) rotate(-90) scale(1,1.15)" font-size="6.35" text-anchor="end" class="tl">WOA</text>
<text transform="translate(504.42,96.9) rotate(-90) scale(1,1.15)" font-size="6.35" text-anchor="end" class="tl">MVO</text>
<text transform="translate(512.33,96.9) rotate(-90) scale(1,1.15)" font-size="6.35" text-anchor="end" class="tl">GWO</text>
<text transform="translate(520.25,96.9) rotate(-90) scale(1,1.15)" font-size="6.35" text-anchor="end" class="tl">TLBO</text>
<text transform="translate(528.16,96.9) rotate(-90) scale(1,1.15)" font-size="6.35" text-anchor="end" class="tl">GSA</text>
<text transform="translate(536.08,96.9) rotate(-90) scale(1,1.15)" font-size="6.35" text-anchor="end" class="tl">PSO</text>
<text transform="translate(543.99,96.9) rotate(-90) scale(1,1.15)" font-size="6.35" text-anchor="end" class="tl">GA</text>
<text transform="translate(493.85,121.5)" font-size="7.1" text-anchor="middle">algorithm</text>
<text transform="translate(428.5,53.6) rotate(-90) scale(1,1.15)" font-size="7.02" text-anchor="middle">objective function</text>
<text transform="translate(493.85,10.2)" font-size="7.1" text-anchor="middle" font-weight="bold" class="tt">C11-F4</text>
<g>
<line x1="23.73" y1="213.6" x2="25.73" y2="213.6" class="cap"/>
<line x1="23.73" y1="214.8" x2="25.73" y2="214.8" class="cap"/>
<rect x="22.88" y="213.6" width="3.7" height="1.2" rx="0.3" class="bx"/>
<line x1="23.28" y1="214.2" x2="26.18" y2="214.2" class="md"/>
<line x1="31.8" y1="199.1" x2="33.8" y2="199.1" class="cap"/>
<line x1="31.8" y1="202.2" x2="33.8" y2="202.2" class="cap"/>
<rect x="30.95" y="199.1" width="3.7" height="3.1" rx="0.3" class="bx"/>
<line x1="31.35" y1="200.5" x2="34.25" y2="200.5" class="md"/>
<line x1="39.87" y1="204.9" x2="41.87" y2="204.9" class="cap"/>
<line x1="39.87" y1="206.7" x2="41.87" y2="206.7" class="cap"/>
<rect x="39.02" y="204.9" width="3.7" height="1.8" rx="0.3" class="bx"/>
<line x1="39.42" y1="205.8" x2="42.32" y2="205.8" class="md"/>
<line x1="48.94" y1="186.4" x2="48.94" y2="185.5" class="wh"/>
<line x1="47.94" y1="185.5" x2="49.94" y2="185.5" class="cap"/>
<line x1="47.94" y1="195.5" x2="49.94" y2="195.5" class="cap"/>
<rect x="47.09" y="186.4" width="3.7" height="9.1" rx="0.3" class="bx"/>
<line x1="47.49" y1="191.5" x2="50.39" y2="191.5" class="md"/>
<line x1="57.01" y1="212.2" x2="57.01" y2="211.3" class="wh"/>
<line x1="56.01" y1="211.3" x2="58.01" y2="211.3" class="cap"/>
<line x1="56.01" y1="214" x2="58.01" y2="214" class="cap"/>
<rect x="55.16" y="212.2" width="3.7" height="1.8" rx="0.3" class="bx"/>
<line x1="55.56" y1="213.1" x2="58.46" y2="213.1" class="md"/>
<line x1="65.08" y1="200.1" x2="65.08" y2="197.8" class="wh"/>
<line x1="65.08" y1="208.7" x2="65.08" y2="210.1" class="wh"/>
<line x1="64.08" y1="197.8" x2="66.08" y2="197.8" class="cap"/>
<line x1="64.08" y1="210.1" x2="66.08" y2="210.1" class="cap"/>
<rect x="63.23" y="200.1" width="3.7" height="8.6" rx="0.3" class="bx"/>
<line x1="63.63" y1="205" x2="66.53" y2="205" class="md"/>
<path d="M64.23 196.5L65.93 196.5L65.08 194.5Z" class="ol"/>
<line x1="72.15" y1="204.4" x2="74.15" y2="204.4" class="cap"/>
<line x1="72.15" y1="205.6" x2="74.15" y2="205.6" class="cap"/>
<rect x="70.9" y="204.2" width="4.5" height="1.6" class="bxs"/>
<line x1="71.7" y1="205" x2="74.6" y2="205" class="md"/>
<line x1="81.22" y1="208.3" x2="81.22" y2="211" class="wh"/>
<line x1="80.22" y1="200.1" x2="82.22" y2="200.1" class="cap"/>
<line x1="80.22" y1="211" x2="82.22" y2="211" class="cap"/>
<rect x="79.37" y="200.1" width="3.7" height="8.2" rx="0.3" class="bx"/>
<line x1="79.77" y1="202.3" x2="82.67" y2="202.3" class="md"/>
<line x1="89.29" y1="214.2" x2="89.29" y2="214.7" class="wh"/>
<line x1="88.29" y1="208.7" x2="90.29" y2="208.7" class="cap"/>
<line x1="88.29" y1="214.7" x2="90.29" y2="214.7" class="cap"/>
<rect x="87.44" y="208.7" width="3.7" height="5.5" rx="0.3" class="bx"/>
<line x1="87.84" y1="212" x2="90.74" y2="212" class="md"/>
<path d="M88.44 205.9L90.14 205.9L89.29 203.9Z" class="ol"/>
<line x1="97.36" y1="163.7" x2="97.36" y2="161.9" class="wh"/>
<line x1="96.36" y1="161.9" x2="98.36" y2="161.9" class="cap"/>
<line x1="96.36" y1="171.5" x2="98.36" y2="171.5" class="cap"/>
<rect x="95.51" y="163.7" width="3.7" height="7.8" rx="0.3" class="bx"/>
<line x1="95.91" y1="166.4" x2="98.81" y2="166.4" class="md"/>
<path d="M96.51 174.6L98.21 174.6L97.36 172.6Z" class="ol"/>
<line x1="105.43" y1="200.1" x2="105.43" y2="199.2" class="wh"/>
<line x1="105.43" y1="208.3" x2="105.43" y2="210.1" class="wh"/>
<line x1="104.43" y1="199.2" x2="106.43" y2="199.2" class="cap"/>
<line x1="104.43" y1="210.1" x2="106.43" y2="210.1" class="cap"/>
<rect x="103.58" y="200.1" width="3.7" height="8.2" rx="0.3" class="bx"/>
<line x1="103.98" y1="204.1" x2="106.88" y2="204.1" class="md"/>
<line x1="113.5" y1="165.5" x2="113.5" y2="166.8" class="wh"/>
<line x1="112.5" y1="152.8" x2="114.5" y2="152.8" class="cap"/>
<line x1="112.5" y1="166.8" x2="114.5" y2="166.8" class="cap"/>
<rect x="111.65" y="152.8" width="3.7" height="12.7" rx="0.3" class="bx"/>
<line x1="112.05" y1="155.9" x2="114.95" y2="155.9" class="md"/>
<path d="M112.65 172.4L114.35 172.4L113.5 170.4Z" class="ol"/>
<line x1="121.57" y1="158.6" x2="121.57" y2="156.4" class="wh"/>
<line x1="121.57" y1="167" x2="121.57" y2="167.9" class="wh"/>
<line x1="120.57" y1="156.4" x2="122.57" y2="156.4" class="cap"/>
<line x1="120.57" y1="167.9" x2="122.57" y2="167.9" class="cap"/>
<rect x="119.72" y="158.6" width="3.7" height="8.4" rx="0.3" class="bx"/>
<line x1="120.12" y1="162.8" x2="123.02" y2="162.8" class="md"/>
</g>
<rect x="20.7" y="134.2" width="104.9" height="83.2" class="ax"/>
<line x1="24.73" y1="217.4" x2="24.73" y2="216.2" class="tk"/>
<line x1="24.73" y1="134.2" x2="24.73" y2="135.4" class="tk"/>
<line x1="32.8" y1="217.4" x2="32.8" y2="216.2" class="tk"/>
<line x1="32.8" y1="134.2" x2="32.8" y2="135.4" class="tk"/>
<line x1="40.87" y1="217.4" x2="40.87" y2="216.2" class="tk"/>
<line x1="40.87" y1="134.2" x2="40.87" y2="135.4" class="tk"/>
<line x1="48.94" y1="217.4" x2="48.94" y2="216.2" class="tk"/>
<line x1="48.94" y1="134.2" x2="48.94" y2="135.4" class="tk"/>
<line x1="57.01" y1="217.4" x2="57.01" y2="216.2" class="tk"/>
<line x1="57.01" y1="134.2" x2="57.01" y2="135.4" class="tk"/>
<line x1="65.08" y1="217.4" x2="65.08" y2="216.2" class="tk"/>
<line x1="65.08" y1="134.2" x2="65.08" y2="135.4" class="tk"/>
<line x1="73.15" y1="217.4" x2="73.15" y2="216.2" class="tk"/>
<line x1="73.15" y1="134.2" x2="73.15" y2="135.4" class="tk"/>
<line x1="81.22" y1="217.4" x2="81.22" y2="216.2" class="tk"/>
<line x1="81.22" y1="134.2" x2="81.22" y2="135.4" class="tk"/>
<line x1="89.29" y1="217.4" x2="89.29" y2="216.2" class="tk"/>
<line x1="89.29" y1="134.2" x2="89.29" y2="135.4" class="tk"/>
<line x1="97.36" y1="217.4" x2="97.36" y2="216.2" class="tk"/>
<line x1="97.36" y1="134.2" x2="97.36" y2="135.4" class="tk"/>
<line x1="105.43" y1="217.4" x2="105.43" y2="216.2" class="tk"/>
<line x1="105.43" y1="134.2" x2="105.43" y2="135.4" class="tk"/>
<line x1="113.5" y1="217.4" x2="113.5" y2="216.2" class="tk"/>
<line x1="113.5" y1="134.2" x2="113.5" y2="135.4" class="tk"/>
<line x1="121.57" y1="217.4" x2="121.57" y2="216.2" class="tk"/>
<line x1="121.57" y1="134.2" x2="121.57" y2="135.4" class="tk"/>
<line x1="20.7" y1="154.2" x2="21.9" y2="154.2" class="tk"/>
<line x1="125.6" y1="154.2" x2="124.4" y2="154.2" class="tk"/>
<text transform="translate(19.2,156.3)" font-size="6.35" text-anchor="end" class="tl">-10</text>
<line x1="20.7" y1="174.19" x2="21.9" y2="174.19" class="tk"/>
<line x1="125.6" y1="174.19" x2="124.4" y2="174.19" class="tk"/>
<text transform="translate(19.2,176.29)" font-size="6.35" text-anchor="end" class="tl">-15</text>
<line x1="20.7" y1="188.37" x2="21.9" y2="188.37" class="tk"/>
<line x1="125.6" y1="188.37" x2="124.4" y2="188.37" class="tk"/>
<text transform="translate(19.2,190.47)" font-size="6.35" text-anchor="end" class="tl">-20</text>
<line x1="20.7" y1="199.37" x2="21.9" y2="199.37" class="tk"/>
<line x1="125.6" y1="199.37" x2="124.4" y2="199.37" class="tk"/>
<text transform="translate(19.2,201.47)" font-size="6.35" text-anchor="end" class="tl">-25</text>
<line x1="20.7" y1="208.35" x2="21.9" y2="208.35" class="tk"/>
<line x1="125.6" y1="208.35" x2="124.4" y2="208.35" class="tk"/>
<text transform="translate(19.2,210.45)" font-size="6.35" text-anchor="end" class="tl">-30</text>
<line x1="20.7" y1="215.95" x2="21.9" y2="215.95" class="tk"/>
<line x1="125.6" y1="215.95" x2="124.4" y2="215.95" class="tk"/>
<text transform="translate(19.2,218.05)" font-size="6.35" text-anchor="end" class="tl">-35</text>
<line x1="20.7" y1="136.62" x2="21.5" y2="136.62" class="mt"/>
<line x1="125.6" y1="136.62" x2="124.8" y2="136.62" class="mt"/>
<line x1="20.7" y1="143.2" x2="21.5" y2="143.2" class="mt"/>
<line x1="125.6" y1="143.2" x2="124.8" y2="143.2" class="mt"/>
<line x1="20.7" y1="149.01" x2="21.5" y2="149.01" class="mt"/>
<line x1="125.6" y1="149.01" x2="124.8" y2="149.01" class="mt"/>
<line x1="20.7" y1="158.9" x2="21.5" y2="158.9" class="mt"/>
<line x1="125.6" y1="158.9" x2="124.8" y2="158.9" class="mt"/>
<line x1="20.7" y1="163.19" x2="21.5" y2="163.19" class="mt"/>
<line x1="125.6" y1="163.19" x2="124.8" y2="163.19" class="mt"/>
<line x1="20.7" y1="167.13" x2="21.5" y2="167.13" class="mt"/>
<line x1="125.6" y1="167.13" x2="124.8" y2="167.13" class="mt"/>
<line x1="20.7" y1="170.79" x2="21.5" y2="170.79" class="mt"/>
<line x1="125.6" y1="170.79" x2="124.8" y2="170.79" class="mt"/>
<line x1="20.7" y1="177.37" x2="21.5" y2="177.37" class="mt"/>
<line x1="125.6" y1="177.37" x2="124.8" y2="177.37" class="mt"/>
<line x1="20.7" y1="180.36" x2="21.5" y2="180.36" class="mt"/>
<line x1="125.6" y1="180.36" x2="124.8" y2="180.36" class="mt"/>
<line x1="20.7" y1="183.17" x2="21.5" y2="183.17" class="mt"/>
<line x1="125.6" y1="183.17" x2="124.8" y2="183.17" class="mt"/>
<line x1="20.7" y1="185.84" x2="21.5" y2="185.84" class="mt"/>
<line x1="125.6" y1="185.84" x2="124.8" y2="185.84" class="mt"/>
<line x1="20.7" y1="190.77" x2="21.5" y2="190.77" class="mt"/>
<line x1="125.6" y1="190.77" x2="124.8" y2="190.77" class="mt"/>
<line x1="20.7" y1="193.06" x2="21.5" y2="193.06" class="mt"/>
<line x1="125.6" y1="193.06" x2="124.8" y2="193.06" class="mt"/>
<line x1="20.7" y1="195.26" x2="21.5" y2="195.26" class="mt"/>
<line x1="125.6" y1="195.26" x2="124.8" y2="195.26" class="mt"/>
<line x1="20.7" y1="197.35" x2="21.5" y2="197.35" class="mt"/>
<line x1="125.6" y1="197.35" x2="124.8" y2="197.35" class="mt"/>
<line x1="20.7" y1="201.3" x2="21.5" y2="201.3" class="mt"/>
<line x1="125.6" y1="201.3" x2="124.8" y2="201.3" class="mt"/>
<line x1="20.7" y1="203.16" x2="21.5" y2="203.16" class="mt"/>
<line x1="125.6" y1="203.16" x2="124.8" y2="203.16" class="mt"/>
<line x1="20.7" y1="204.95" x2="21.5" y2="204.95" class="mt"/>
<line x1="125.6" y1="204.95" x2="124.8" y2="204.95" class="mt"/>
<line x1="20.7" y1="206.68" x2="21.5" y2="206.68" class="mt"/>
<line x1="125.6" y1="206.68" x2="124.8" y2="206.68" class="mt"/>
<line x1="20.7" y1="209.97" x2="21.5" y2="209.97" class="mt"/>
<line x1="125.6" y1="209.97" x2="124.8" y2="209.97" class="mt"/>
<line x1="20.7" y1="211.53" x2="21.5" y2="211.53" class="mt"/>
<line x1="125.6" y1="211.53" x2="124.8" y2="211.53" class="mt"/>
<line x1="20.7" y1="213.05" x2="21.5" y2="213.05" class="mt"/>
<line x1="125.6" y1="213.05" x2="124.8" y2="213.05" class="mt"/>
<line x1="20.7" y1="214.52" x2="21.5" y2="214.52" class="mt"/>
<line x1="125.6" y1="214.52" x2="124.8" y2="214.52" class="mt"/>
<text transform="translate(27.38,218.9) rotate(-90) scale(1,1.15)" font-size="6.35" text-anchor="end" class="tl">GAO</text>
<text transform="translate(35.45,218.9) rotate(-90) scale(1,1.15)" font-size="6.35" text-anchor="end" class="tl">WSO</text>
<text transform="translate(43.52,218.9) rotate(-90) scale(1,1.15)" font-size="6.35" text-anchor="end" class="tl">AVOA</text>
<text transform="translate(51.59,218.9) rotate(-90) scale(1,1.15)" font-size="6.35" text-anchor="end" class="tl">RSA</text>
<text transform="translate(59.66,218.9) rotate(-90) scale(1,1.15)" font-size="6.35" text-anchor="end" class="tl">MPA</text>
<text transform="translate(67.73,218.9) rotate(-90) scale(1,1.15)" font-size="6.35" text-anchor="end" class="tl">TSA</text>
<text transform="translate(75.8,218.9) rotate(-90) scale(1,1.15)" font-size="6.35" text-anchor="end" class="tl">WOA</text>
<text transform="translate(83.87,218.9) rotate(-90) scale(1,1.15)" font-size="6.35" text-anchor="end" class="tl">MVO</text>
<text transform="translate(91.94,218.9) rotate(-90) scale(1,1.15)" font-size="6.35" text-anchor="end" class="tl">GWO</text>
<text transform="translate(100.01,218.9) rotate(-90) scale(1,1.15)" font-size="6.35" text-anchor="end" class="tl">TLBO</text>
<text transform="translate(108.08,218.9) rotate(-90) scale(1,1.15)" font-size="6.35" text-anchor="end" class="tl">GSA</text>
<text transform="translate(116.15,218.9) rotate(-90) scale(1,1.15)" font-size="6.35" text-anchor="end" class="tl">PSO</text>
<text transform="translate(124.22,218.9) rotate(-90) scale(1,1.15)" font-size="6.35" text-anchor="end" class="tl">GA</text>
<text transform="translate(73.15,243.5)" font-size="7.1" text-anchor="middle">algorithm</text>
<text transform="translate(8.5,175.15) rotate(-90) scale(1,1.15)" font-size="6.95" text-anchor="middle">objective function</text>
<text transform="translate(73.15,132.2)" font-size="7.1" text-anchor="middle" font-weight="bold" class="tt">C11-F5</text>
<g>
<line x1="163.63" y1="207.8" x2="165.63" y2="207.8" class="cap"/>
<line x1="163.63" y1="211.6" x2="165.63" y2="211.6" class="cap"/>
<rect x="162.78" y="207.8" width="3.7" height="3.8" rx="0.3" class="bx"/>
<line x1="163.18" y1="208.1" x2="166.08" y2="208.1" class="md"/>
<path d="M163.78 216.3L165.48 216.3L164.63 214.3Z" class="ol"/>
<line x1="171.68" y1="188.4" x2="173.68" y2="188.4" class="cap"/>
<line x1="171.68" y1="189.7" x2="173.68" y2="189.7" class="cap"/>
<rect x="170.83" y="188.4" width="3.7" height="1.3" rx="0.3" class="bx"/>
<line x1="171.23" y1="189" x2="174.13" y2="189" class="md"/>
<line x1="180.73" y1="198.3" x2="180.73" y2="196.7" class="wh"/>
<line x1="180.73" y1="203" x2="180.73" y2="204" class="wh"/>
<line x1="179.73" y1="196.7" x2="181.73" y2="196.7" class="cap"/>
<line x1="179.73" y1="204" x2="181.73" y2="204" class="cap"/>
<rect x="178.88" y="198.3" width="3.7" height="4.7" rx="0.3" class="bx"/>
<line x1="179.28" y1="200.5" x2="182.18" y2="200.5" class="md"/>
<line x1="188.79" y1="184.6" x2="188.79" y2="183.1" class="wh"/>
<line x1="187.79" y1="183.1" x2="189.79" y2="183.1" class="cap"/>
<line x1="187.79" y1="187.2" x2="189.79" y2="187.2" class="cap"/>
<rect x="186.94" y="184.6" width="3.7" height="2.6" rx="0.3" class="bx"/>
<line x1="187.34" y1="186.9" x2="190.24" y2="186.9" class="md"/>
<line x1="195.84" y1="204.9" x2="197.84" y2="204.9" class="cap"/>
<line x1="195.84" y1="209.7" x2="197.84" y2="209.7" class="cap"/>
<rect x="194.99" y="204.9" width="3.7" height="4.8" rx="0.3" class="bx"/>
<line x1="195.39" y1="205.9" x2="198.29" y2="205.9" class="md"/>
<path d="M195.99 213L197.69 213L196.84 211Z" class="ol"/>
<line x1="204.9" y1="179.7" x2="204.9" y2="191.6" class="wh"/>
<line x1="203.9" y1="149.8" x2="205.9" y2="149.8" class="cap"/>
<line x1="203.9" y1="191.6" x2="205.9" y2="191.6" class="cap"/>
<rect x="203.05" y="149.8" width="3.7" height="29.9" rx="0.3" class="bx"/>
<line x1="203.45" y1="153.6" x2="206.35" y2="153.6" class="md"/>
<path d="M204.05 195L205.75 195L204.9 193Z" class="ol"/>
<line x1="212.95" y1="196" x2="212.95" y2="185.5" class="wh"/>
<line x1="211.95" y1="185.5" x2="213.95" y2="185.5" class="cap"/>
<line x1="211.95" y1="207.4" x2="213.95" y2="207.4" class="cap"/>
<rect x="211.1" y="196" width="3.7" height="11.4" rx="0.3" class="bx"/>
<line x1="211.5" y1="206.2" x2="214.4" y2="206.2" class="md"/>
<line x1="221" y1="137.9" x2="221" y2="136.5" class="wh"/>
<line x1="221" y1="195.4" x2="221" y2="196.7" class="wh"/>
<line x1="220" y1="136.5" x2="222" y2="136.5" class="cap"/>
<line x1="220" y1="196.7" x2="222" y2="196.7" class="cap"/>
<rect x="219.15" y="137.9" width="3.7" height="57.5" rx="0.3" class="bx"/>
<line x1="219.55" y1="174.1" x2="222.45" y2="174.1" class="md"/>
<line x1="229.06" y1="204.9" x2="229.06" y2="206.8" class="wh"/>
<line x1="228.06" y1="197.9" x2="230.06" y2="197.9" class="cap"/>
<line x1="228.06" y1="206.8" x2="230.06" y2="206.8" class="cap"/>
<rect x="227.21" y="197.9" width="3.7" height="7" rx="0.3" class="bx"/>
<line x1="227.61" y1="200.2" x2="230.51" y2="200.2" class="md"/>
<line x1="236.11" y1="134" x2="238.11" y2="134" class="cap"/>
<line x1="236.11" y1="137.9" x2="238.11" y2="137.9" class="cap"/>
<rect x="235.26" y="134" width="3.7" height="3.9" rx="0.3" class="bx"/>
<line x1="235.66" y1="134.3" x2="238.56" y2="134.3" class="md"/>
<path d="M236.26 142.2L237.96 142.2L237.11 140.2Z" class="ol"/>
<line x1="245.17" y1="200.2" x2="245.17" y2="198.3" class="wh"/>
<line x1="245.17" y1="210" x2="245.17" y2="212.5" class="wh"/>
<line x1="244.17" y1="198.3" x2="246.17" y2="198.3" class="cap"/>
<line x1="244.17" y1="212.5" x2="246.17" y2="212.5" class="cap"/>
<rect x="243.32" y="200.2" width="3.7" height="9.8" rx="0.3" class="bx"/>
<line x1="243.72" y1="204.9" x2="246.62" y2="204.9" class="md"/>
<line x1="253.22" y1="150.4" x2="253.22" y2="159" class="wh"/>
<line x1="252.22" y1="134" x2="254.22" y2="134" class="cap"/>
<line x1="252.22" y1="159" x2="254.22" y2="159" class="cap"/>
<rect x="251.37" y="134" width="3.7" height="16.4" rx="0.3" class="bx"/>
<line x1="251.77" y1="134.3" x2="254.67" y2="134.3" class="md"/>
<path d="M252.37 162.1L254.07 162.1L253.22 160.1Z" class="ol"/>
<line x1="261.27" y1="160.7" x2="261.27" y2="170.5" class="wh"/>
<line x1="260.27" y1="134" x2="262.27" y2="134" class="cap"/>
<line x1="260.27" y1="170.5" x2="262.27" y2="170.5" class="cap"/>
<rect x="259.42" y="134" width="3.7" height="26.7" rx="0.3" class="bx"/>
<line x1="259.82" y1="137.9" x2="262.72" y2="137.9" class="md"/>
<path d="M260.42 173.5L262.12 173.5L261.27 171.5Z" class="ol"/>
</g>
<rect x="160.6" y="134.2" width="104.7" height="83.2" class="ax"/>
<line x1="164.63" y1="217.4" x2="164.63" y2="216.2" class="tk"/>
<line x1="164.63" y1="134.2" x2="164.63" y2="135.4" class="tk"/>
<line x1="172.68" y1="217.4" x2="172.68" y2="216.2" class="tk"/>
<line x1="172.68" y1="134.2" x2="172.68" y2="135.4" class="tk"/>
<line x1="180.73" y1="217.4" x2="180.73" y2="216.2" class="tk"/>
<line x1="180.73" y1="134.2" x2="180.73" y2="135.4" class="tk"/>
<line x1="188.79" y1="217.4" x2="188.79" y2="216.2" class="tk"/>
<line x1="188.79" y1="134.2" x2="188.79" y2="135.4" class="tk"/>
<line x1="196.84" y1="217.4" x2="196.84" y2="216.2" class="tk"/>
<line x1="196.84" y1="134.2" x2="196.84" y2="135.4" class="tk"/>
<line x1="204.9" y1="217.4" x2="204.9" y2="216.2" class="tk"/>
<line x1="204.9" y1="134.2" x2="204.9" y2="135.4" class="tk"/>
<line x1="212.95" y1="217.4" x2="212.95" y2="216.2" class="tk"/>
<line x1="212.95" y1="134.2" x2="212.95" y2="135.4" class="tk"/>
<line x1="221" y1="217.4" x2="221" y2="216.2" class="tk"/>
<line x1="221" y1="134.2" x2="221" y2="135.4" class="tk"/>
<line x1="229.06" y1="217.4" x2="229.06" y2="216.2" class="tk"/>
<line x1="229.06" y1="134.2" x2="229.06" y2="135.4" class="tk"/>
<line x1="237.11" y1="217.4" x2="237.11" y2="216.2" class="tk"/>
<line x1="237.11" y1="134.2" x2="237.11" y2="135.4" class="tk"/>
<line x1="245.17" y1="217.4" x2="245.17" y2="216.2" class="tk"/>
<line x1="245.17" y1="134.2" x2="245.17" y2="135.4" class="tk"/>
<line x1="253.22" y1="217.4" x2="253.22" y2="216.2" class="tk"/>
<line x1="253.22" y1="134.2" x2="253.22" y2="135.4" class="tk"/>
<line x1="261.27" y1="217.4" x2="261.27" y2="216.2" class="tk"/>
<line x1="261.27" y1="134.2" x2="261.27" y2="135.4" class="tk"/>
<line x1="160.6" y1="140.3" x2="161.8" y2="140.3" class="tk"/>
<line x1="265.3" y1="140.3" x2="264.1" y2="140.3" class="tk"/>
<text transform="translate(159.1,142.4)" font-size="6.35" text-anchor="end" class="tl">-5</text>
<line x1="160.6" y1="170.85" x2="161.8" y2="170.85" class="tk"/>
<line x1="265.3" y1="170.85" x2="264.1" y2="170.85" class="tk"/>
<text transform="translate(159.1,172.95)" font-size="6.35" text-anchor="end" class="tl">-10</text>
<line x1="160.6" y1="188.73" x2="161.8" y2="188.73" class="tk"/>
<line x1="265.3" y1="188.73" x2="264.1" y2="188.73" class="tk"/>
<text transform="translate(159.1,190.83)" font-size="6.35" text-anchor="end" class="tl">-15</text>
<line x1="160.6" y1="201.41" x2="161.8" y2="201.41" class="tk"/>
<line x1="265.3" y1="201.41" x2="264.1" y2="201.41" class="tk"/>
<text transform="translate(159.1,203.51)" font-size="6.35" text-anchor="end" class="tl">-20</text>
<line x1="160.6" y1="211.25" x2="161.8" y2="211.25" class="tk"/>
<line x1="265.3" y1="211.25" x2="264.1" y2="211.25" class="tk"/>
<text transform="translate(159.1,213.35)" font-size="6.35" text-anchor="end" class="tl">-25</text>
<line x1="160.6" y1="148.34" x2="161.4" y2="148.34" class="mt"/>
<line x1="265.3" y1="148.34" x2="264.5" y2="148.34" class="mt"/>
<line x1="160.6" y1="155.13" x2="161.4" y2="155.13" class="mt"/>
<line x1="265.3" y1="155.13" x2="264.5" y2="155.13" class="mt"/>
<line x1="160.6" y1="161.02" x2="161.4" y2="161.02" class="mt"/>
<line x1="265.3" y1="161.02" x2="264.5" y2="161.02" class="mt"/>
<line x1="160.6" y1="166.21" x2="161.4" y2="166.21" class="mt"/>
<line x1="265.3" y1="166.21" x2="264.5" y2="166.21" class="mt"/>
<line x1="160.6" y1="175.06" x2="161.4" y2="175.06" class="mt"/>
<line x1="265.3" y1="175.06" x2="264.5" y2="175.06" class="mt"/>
<line x1="160.6" y1="178.89" x2="161.4" y2="178.89" class="mt"/>
<line x1="265.3" y1="178.89" x2="264.5" y2="178.89" class="mt"/>
<line x1="160.6" y1="182.42" x2="161.4" y2="182.42" class="mt"/>
<line x1="265.3" y1="182.42" x2="264.5" y2="182.42" class="mt"/>
<line x1="160.6" y1="185.69" x2="161.4" y2="185.69" class="mt"/>
<line x1="265.3" y1="185.69" x2="264.5" y2="185.69" class="mt"/>
<line x1="160.6" y1="191.57" x2="161.4" y2="191.57" class="mt"/>
<line x1="265.3" y1="191.57" x2="264.5" y2="191.57" class="mt"/>
<line x1="160.6" y1="194.25" x2="161.4" y2="194.25" class="mt"/>
<line x1="265.3" y1="194.25" x2="264.5" y2="194.25" class="mt"/>
<line x1="160.6" y1="196.76" x2="161.4" y2="196.76" class="mt"/>
<line x1="265.3" y1="196.76" x2="264.5" y2="196.76" class="mt"/>
<line x1="160.6" y1="199.15" x2="161.4" y2="199.15" class="mt"/>
<line x1="265.3" y1="199.15" x2="264.5" y2="199.15" class="mt"/>
<line x1="160.6" y1="203.56" x2="161.4" y2="203.56" class="mt"/>
<line x1="265.3" y1="203.56" x2="264.5" y2="203.56" class="mt"/>
<line x1="160.6" y1="205.61" x2="161.4" y2="205.61" class="mt"/>
<line x1="265.3" y1="205.61" x2="264.5" y2="205.61" class="mt"/>
<line x1="160.6" y1="207.57" x2="161.4" y2="207.57" class="mt"/>
<line x1="265.3" y1="207.57" x2="264.5" y2="207.57" class="mt"/>
<line x1="160.6" y1="209.45" x2="161.4" y2="209.45" class="mt"/>
<line x1="265.3" y1="209.45" x2="264.5" y2="209.45" class="mt"/>
<line x1="160.6" y1="212.97" x2="161.4" y2="212.97" class="mt"/>
<line x1="265.3" y1="212.97" x2="264.5" y2="212.97" class="mt"/>
<line x1="160.6" y1="214.64" x2="161.4" y2="214.64" class="mt"/>
<line x1="265.3" y1="214.64" x2="264.5" y2="214.64" class="mt"/>
<line x1="160.6" y1="216.24" x2="161.4" y2="216.24" class="mt"/>
<line x1="265.3" y1="216.24" x2="264.5" y2="216.24" class="mt"/>
<text transform="translate(167.28,218.9) rotate(-90) scale(1,1.15)" font-size="6.35" text-anchor="end" class="tl">GAO</text>
<text transform="translate(175.33,218.9) rotate(-90) scale(1,1.15)" font-size="6.35" text-anchor="end" class="tl">WSO</text>
<text transform="translate(183.38,218.9) rotate(-90) scale(1,1.15)" font-size="6.35" text-anchor="end" class="tl">AVOA</text>
<text transform="translate(191.44,218.9) rotate(-90) scale(1,1.15)" font-size="6.35" text-anchor="end" class="tl">RSA</text>
<text transform="translate(199.49,218.9) rotate(-90) scale(1,1.15)" font-size="6.35" text-anchor="end" class="tl">MPA</text>
<text transform="translate(207.55,218.9) rotate(-90) scale(1,1.15)" font-size="6.35" text-anchor="end" class="tl">TSA</text>
<text transform="translate(215.6,218.9) rotate(-90) scale(1,1.15)" font-size="6.35" text-anchor="end" class="tl">WOA</text>
<text transform="translate(223.65,218.9) rotate(-90) scale(1,1.15)" font-size="6.35" text-anchor="end" class="tl">MVO</text>
<text transform="translate(231.71,218.9) rotate(-90) scale(1,1.15)" font-size="6.35" text-anchor="end" class="tl">GWO</text>
<text transform="translate(239.76,218.9) rotate(-90) scale(1,1.15)" font-size="6.35" text-anchor="end" class="tl">TLBO</text>
<text transform="translate(247.82,218.9) rotate(-90) scale(1,1.15)" font-size="6.35" text-anchor="end" class="tl">GSA</text>
<text transform="translate(255.87,218.9) rotate(-90) scale(1,1.15)" font-size="6.35" text-anchor="end" class="tl">PSO</text>
<text transform="translate(263.92,218.9) rotate(-90) scale(1,1.15)" font-size="6.35" text-anchor="end" class="tl">GA</text>
<text transform="translate(212.95,243.5)" font-size="7.1" text-anchor="middle">algorithm</text>
<text transform="translate(148.4,175.6) rotate(-90) scale(1,1.15)" font-size="7.02" text-anchor="middle">objective function</text>
<text transform="translate(212.95,132.2)" font-size="7.1" text-anchor="middle" font-weight="bold" class="tt">C11-F6</text>
<g>
<line x1="304.84" y1="197.3" x2="304.84" y2="207" class="wh"/>
<line x1="303.84" y1="177" x2="305.84" y2="177" class="cap"/>
<line x1="303.84" y1="207" x2="305.84" y2="207" class="cap"/>
<rect x="302.99" y="177" width="3.7" height="20.3" rx="0.3" class="bx"/>
<line x1="303.39" y1="182.5" x2="306.29" y2="182.5" class="md"/>
<path d="M303.99 210.2L305.69 210.2L304.84 208.2Z" class="ol"/>
<line x1="312.92" y1="150.4" x2="312.92" y2="148.9" class="wh"/>
<line x1="311.92" y1="148.9" x2="313.92" y2="148.9" class="cap"/>
<line x1="311.92" y1="155.2" x2="313.92" y2="155.2" class="cap"/>
<rect x="311.07" y="150.4" width="3.7" height="4.8" rx="0.3" class="bx"/>
<line x1="311.47" y1="152.7" x2="314.37" y2="152.7" class="md"/>
<line x1="319.99" y1="158" x2="321.99" y2="158" class="cap"/>
<line x1="319.99" y1="171.7" x2="321.99" y2="171.7" class="cap"/>
<rect x="319.14" y="158" width="3.7" height="13.7" rx="0.3" class="bx"/>
<line x1="319.54" y1="164.5" x2="322.44" y2="164.5" class="md"/>
<line x1="329.07" y1="139.4" x2="329.07" y2="136.5" class="wh"/>
<line x1="328.07" y1="136.5" x2="330.07" y2="136.5" class="cap"/>
<line x1="328.07" y1="145.1" x2="330.07" y2="145.1" class="cap"/>
<rect x="327.22" y="139.4" width="3.7" height="5.7" rx="0.3" class="bx"/>
<line x1="327.62" y1="141.9" x2="330.52" y2="141.9" class="md"/>
<path d="M328.22 149.4L329.92 149.4L329.07 147.4Z" class="ol"/>
<line x1="337.15" y1="187.2" x2="337.15" y2="192.5" class="wh"/>
<line x1="336.15" y1="177.4" x2="338.15" y2="177.4" class="cap"/>
<line x1="336.15" y1="192.5" x2="338.15" y2="192.5" class="cap"/>
<rect x="335.3" y="177.4" width="3.7" height="9.8" rx="0.3" class="bx"/>
<line x1="335.7" y1="178.9" x2="338.6" y2="178.9" class="md"/>
<path d="M336.3 195.7L338 195.7L337.15 193.7Z" class="ol"/>
<line x1="345.22" y1="157.4" x2="345.22" y2="149.8" class="wh"/>
<line x1="345.22" y1="171.3" x2="345.22" y2="173.2" class="wh"/>
<line x1="344.22" y1="149.8" x2="346.22" y2="149.8" class="cap"/>
<line x1="344.22" y1="173.2" x2="346.22" y2="173.2" class="cap"/>
<rect x="343.37" y="157.4" width="3.7" height="13.9" rx="0.3" class="bx"/>
<line x1="343.77" y1="167.5" x2="346.67" y2="167.5" class="md"/>
<line x1="353.3" y1="145.1" x2="353.3" y2="141.3" class="wh"/>
<line x1="352.3" y1="141.3" x2="354.3" y2="141.3" class="cap"/>
<line x1="352.3" y1="150.8" x2="354.3" y2="150.8" class="cap"/>
<rect x="351.45" y="145.1" width="3.7" height="5.7" rx="0.3" class="bx"/>
<line x1="351.85" y1="148.5" x2="354.75" y2="148.5" class="md"/>
<line x1="361.38" y1="182.7" x2="361.38" y2="181.2" class="wh"/>
<line x1="360.38" y1="181.2" x2="362.38" y2="181.2" class="cap"/>
<line x1="360.38" y1="188.4" x2="362.38" y2="188.4" class="cap"/>
<rect x="359.53" y="182.7" width="3.7" height="5.7" rx="0.3" class="bx"/>
<line x1="359.93" y1="185.3" x2="362.83" y2="185.3" class="md"/>
<line x1="369.45" y1="168.8" x2="369.45" y2="164.1" class="wh"/>
<line x1="369.45" y1="181.2" x2="369.45" y2="183.1" class="wh"/>
<line x1="368.45" y1="164.1" x2="370.45" y2="164.1" class="cap"/>
<line x1="368.45" y1="183.1" x2="370.45" y2="183.1" class="cap"/>
<rect x="367.6" y="168.8" width="3.7" height="12.4" rx="0.3" class="bx"/>
<line x1="368" y1="174.1" x2="370.9" y2="174.1" class="md"/>
<path d="M368.6 188.7L370.3 188.7L369.45 186.7Z" class="ol"/>
<line x1="377.53" y1="144.7" x2="377.53" y2="143.6" class="wh"/>
<line x1="377.53" y1="152.7" x2="377.53" y2="154.6" class="wh"/>
<line x1="376.53" y1="143.6" x2="378.53" y2="143.6" class="cap"/>
<line x1="376.53" y1="154.6" x2="378.53" y2="154.6" class="cap"/>
<rect x="375.68" y="144.7" width="3.7" height="8" rx="0.3" class="bx"/>
<line x1="376.08" y1="147.9" x2="378.98" y2="147.9" class="md"/>
<line x1="385.61" y1="166.9" x2="385.61" y2="165" class="wh"/>
<line x1="384.61" y1="165" x2="386.61" y2="165" class="cap"/>
<line x1="384.61" y1="182.7" x2="386.61" y2="182.7" class="cap"/>
<rect x="383.76" y="166.9" width="3.7" height="15.8" rx="0.3" class="bx"/>
<line x1="384.16" y1="173.6" x2="387.06" y2="173.6" class="md"/>
<path d="M384.76 187.4L386.46 187.4L385.61 185.4Z" class="ol"/>
<line x1="393.68" y1="162.2" x2="393.68" y2="161.8" class="wh"/>
<line x1="392.68" y1="161.8" x2="394.68" y2="161.8" class="cap"/>
<line x1="392.68" y1="183.5" x2="394.68" y2="183.5" class="cap"/>
<rect x="391.83" y="162.2" width="3.7" height="21.3" rx="0.3" class="bx"/>
<line x1="392.23" y1="171.3" x2="395.13" y2="171.3" class="md"/>
<path d="M392.83 186.8L394.53 186.8L393.68 184.8Z" class="ol"/>
<line x1="401.76" y1="154.2" x2="401.76" y2="160.5" class="wh"/>
<line x1="400.76" y1="141.3" x2="402.76" y2="141.3" class="cap"/>
<line x1="400.76" y1="160.5" x2="402.76" y2="160.5" class="cap"/>
<rect x="399.91" y="141.3" width="3.7" height="12.9" rx="0.3" class="bx"/>
<line x1="400.31" y1="144.7" x2="403.21" y2="144.7" class="md"/>
<path d="M400.91 163.7L402.61 163.7L401.76 161.7Z" class="ol"/>
</g>
<rect x="300.8" y="134.2" width="105" height="83.2" class="ax"/>
<line x1="304.84" y1="217.4" x2="304.84" y2="216.2" class="tk"/>
<line x1="304.84" y1="134.2" x2="304.84" y2="135.4" class="tk"/>
<line x1="312.92" y1="217.4" x2="312.92" y2="216.2" class="tk"/>
<line x1="312.92" y1="134.2" x2="312.92" y2="135.4" class="tk"/>
<line x1="320.99" y1="217.4" x2="320.99" y2="216.2" class="tk"/>
<line x1="320.99" y1="134.2" x2="320.99" y2="135.4" class="tk"/>
<line x1="329.07" y1="217.4" x2="329.07" y2="216.2" class="tk"/>
<line x1="329.07" y1="134.2" x2="329.07" y2="135.4" class="tk"/>
<line x1="337.15" y1="217.4" x2="337.15" y2="216.2" class="tk"/>
<line x1="337.15" y1="134.2" x2="337.15" y2="135.4" class="tk"/>
<line x1="345.22" y1="217.4" x2="345.22" y2="216.2" class="tk"/>
<line x1="345.22" y1="134.2" x2="345.22" y2="135.4" class="tk"/>
<line x1="353.3" y1="217.4" x2="353.3" y2="216.2" class="tk"/>
<line x1="353.3" y1="134.2" x2="353.3" y2="135.4" class="tk"/>
<line x1="361.38" y1="217.4" x2="361.38" y2="216.2" class="tk"/>
<line x1="361.38" y1="134.2" x2="361.38" y2="135.4" class="tk"/>
<line x1="369.45" y1="217.4" x2="369.45" y2="216.2" class="tk"/>
<line x1="369.45" y1="134.2" x2="369.45" y2="135.4" class="tk"/>
<line x1="377.53" y1="217.4" x2="377.53" y2="216.2" class="tk"/>
<line x1="377.53" y1="134.2" x2="377.53" y2="135.4" class="tk"/>
<line x1="385.61" y1="217.4" x2="385.61" y2="216.2" class="tk"/>
<line x1="385.61" y1="134.2" x2="385.61" y2="135.4" class="tk"/>
<line x1="393.68" y1="217.4" x2="393.68" y2="216.2" class="tk"/>
<line x1="393.68" y1="134.2" x2="393.68" y2="135.4" class="tk"/>
<line x1="401.76" y1="217.4" x2="401.76" y2="216.2" class="tk"/>
<line x1="401.76" y1="134.2" x2="401.76" y2="135.4" class="tk"/>
<line x1="300.8" y1="136.5" x2="302" y2="136.5" class="tk"/>
<line x1="405.8" y1="136.5" x2="404.6" y2="136.5" class="tk"/>
<text transform="translate(299.3,138.6)" font-size="6.35" text-anchor="end" class="tl">2</text>
<line x1="300.8" y1="153.64" x2="302" y2="153.64" class="tk"/>
<line x1="405.8" y1="153.64" x2="404.6" y2="153.64" class="tk"/>
<text transform="translate(299.3,155.74)" font-size="6.35" text-anchor="end" class="tl">1.5</text>
<line x1="300.8" y1="177.8" x2="302" y2="177.8" class="tk"/>
<line x1="405.8" y1="177.8" x2="404.6" y2="177.8" class="tk"/>
<text transform="translate(299.3,179.9)" font-size="6.35" text-anchor="end" class="tl">1</text>
<line x1="300.8" y1="208.24" x2="301.6" y2="208.24" class="mt"/>
<line x1="405.8" y1="208.24" x2="405" y2="208.24" class="mt"/>
<line x1="300.8" y1="199.05" x2="301.6" y2="199.05" class="mt"/>
<line x1="405.8" y1="199.05" x2="405" y2="199.05" class="mt"/>
<line x1="300.8" y1="191.1" x2="301.6" y2="191.1" class="mt"/>
<line x1="405.8" y1="191.1" x2="405" y2="191.1" class="mt"/>
<line x1="300.8" y1="184.08" x2="301.6" y2="184.08" class="mt"/>
<line x1="405.8" y1="184.08" x2="405" y2="184.08" class="mt"/>
<text transform="translate(307.49,218.9) rotate(-90) scale(1,1.15)" font-size="6.35" text-anchor="end" class="tl">GAO</text>
<text transform="translate(315.57,218.9) rotate(-90) scale(1,1.15)" font-size="6.35" text-anchor="end" class="tl">WSO</text>
<text transform="translate(323.64,218.9) rotate(-90) scale(1,1.15)" font-size="6.35" text-anchor="end" class="tl">AVOA</text>
<text transform="translate(331.72,218.9) rotate(-90) scale(1,1.15)" font-size="6.35" text-anchor="end" class="tl">RSA</text>
<text transform="translate(339.8,218.9) rotate(-90) scale(1,1.15)" font-size="6.35" text-anchor="end" class="tl">MPA</text>
<text transform="translate(347.87,218.9) rotate(-90) scale(1,1.15)" font-size="6.35" text-anchor="end" class="tl">TSA</text>
<text transform="translate(355.95,218.9) rotate(-90) scale(1,1.15)" font-size="6.35" text-anchor="end" class="tl">WOA</text>
<text transform="translate(364.03,218.9) rotate(-90) scale(1,1.15)" font-size="6.35" text-anchor="end" class="tl">MVO</text>
<text transform="translate(372.1,218.9) rotate(-90) scale(1,1.15)" font-size="6.35" text-anchor="end" class="tl">GWO</text>
<text transform="translate(380.18,218.9) rotate(-90) scale(1,1.15)" font-size="6.35" text-anchor="end" class="tl">TLBO</text>
<text transform="translate(388.26,218.9) rotate(-90) scale(1,1.15)" font-size="6.35" text-anchor="end" class="tl">GSA</text>
<text transform="translate(396.33,218.9) rotate(-90) scale(1,1.15)" font-size="6.35" text-anchor="end" class="tl">PSO</text>
<text transform="translate(404.41,218.9) rotate(-90) scale(1,1.15)" font-size="6.35" text-anchor="end" class="tl">GA</text>
<text transform="translate(353.3,243.5)" font-size="7.1" text-anchor="middle">algorithm</text>
<text transform="translate(288.4,175.6) rotate(-90) scale(1,1.15)" font-size="7.02" text-anchor="middle">objective function</text>
<text transform="translate(353.3,132.2)" font-size="7.1" text-anchor="middle" font-weight="bold" class="tt">C11-F7</text>
<g>
<line x1="444.21" y1="196" x2="448.71" y2="196" class="fl"/>
<line x1="454.38" y1="179.3" x2="454.38" y2="177" class="wh"/>
<line x1="454.38" y1="187.2" x2="454.38" y2="188.4" class="wh"/>
<line x1="453.38" y1="177" x2="455.38" y2="177" class="cap"/>
<line x1="453.38" y1="188.4" x2="455.38" y2="188.4" class="cap"/>
<rect x="452.53" y="179.3" width="3.7" height="7.9" rx="0.3" class="bx"/>
<line x1="452.93" y1="183.5" x2="455.83" y2="183.5" class="md"/>
<line x1="462.31" y1="189.1" x2="462.31" y2="188.4" class="wh"/>
<line x1="462.31" y1="194.8" x2="462.31" y2="195.6" class="wh"/>
<line x1="461.31" y1="188.4" x2="463.31" y2="188.4" class="cap"/>
<line x1="461.31" y1="195.6" x2="463.31" y2="195.6" class="cap"/>
<rect x="460.46" y="189.1" width="3.7" height="5.7" rx="0.3" class="bx"/>
<line x1="460.86" y1="191.6" x2="463.76" y2="191.6" class="md"/>
<line x1="470.23" y1="172.2" x2="470.23" y2="168.8" class="wh"/>
<line x1="470.23" y1="179.3" x2="470.23" y2="183.1" class="wh"/>
<line x1="469.23" y1="168.8" x2="471.23" y2="168.8" class="cap"/>
<line x1="469.23" y1="183.1" x2="471.23" y2="183.1" class="cap"/>
<rect x="468.38" y="172.2" width="3.7" height="7.1" rx="0.3" class="bx"/>
<line x1="468.78" y1="176.4" x2="471.68" y2="176.4" class="md"/>
<line x1="477.15" y1="194.9" x2="479.15" y2="194.9" class="cap"/>
<line x1="477.15" y1="195.9" x2="479.15" y2="195.9" class="cap"/>
<rect x="475.9" y="194.6" width="4.5" height="1.6" class="bxs"/>
<line x1="476.7" y1="195.4" x2="479.6" y2="195.4" class="md"/>
<line x1="486.08" y1="181.2" x2="486.08" y2="171.3" class="wh"/>
<line x1="485.08" y1="171.3" x2="487.08" y2="171.3" class="cap"/>
<line x1="485.08" y1="196.4" x2="487.08" y2="196.4" class="cap"/>
<rect x="484.23" y="181.2" width="3.7" height="15.2" rx="0.3" class="bx"/>
<line x1="484.63" y1="194.5" x2="487.53" y2="194.5" class="md"/>
<line x1="494" y1="183.5" x2="494" y2="178.3" class="wh"/>
<line x1="494" y1="189.1" x2="494" y2="190.3" class="wh"/>
<line x1="493" y1="178.3" x2="495" y2="178.3" class="cap"/>
<line x1="493" y1="190.3" x2="495" y2="190.3" class="cap"/>
<rect x="492.15" y="183.5" width="3.7" height="5.6" rx="0.3" class="bx"/>
<line x1="492.55" y1="186.9" x2="495.45" y2="186.9" class="md"/>
<line x1="501.92" y1="194.1" x2="501.92" y2="192.6" class="wh"/>
<line x1="500.92" y1="192.6" x2="502.92" y2="192.6" class="cap"/>
<line x1="500.92" y1="196.4" x2="502.92" y2="196.4" class="cap"/>
<rect x="500.07" y="194.1" width="3.7" height="2.3" rx="0.3" class="bx"/>
<line x1="500.47" y1="195.8" x2="503.37" y2="195.8" class="md"/>
<line x1="508.85" y1="192.9" x2="510.85" y2="192.9" class="cap"/>
<line x1="508.85" y1="196" x2="510.85" y2="196" class="cap"/>
<rect x="508" y="192.9" width="3.7" height="3.1" rx="0.3" class="bx"/>
<line x1="508.4" y1="194.5" x2="511.3" y2="194.5" class="md"/>
<line x1="517.77" y1="194.1" x2="517.77" y2="192.6" class="wh"/>
<line x1="516.77" y1="192.6" x2="518.77" y2="192.6" class="cap"/>
<line x1="516.77" y1="196.4" x2="518.77" y2="196.4" class="cap"/>
<rect x="515.92" y="194.1" width="3.7" height="2.3" rx="0.3" class="bx"/>
<line x1="516.32" y1="195.4" x2="519.22" y2="195.4" class="md"/>
<line x1="525.69" y1="185" x2="525.69" y2="181.2" class="wh"/>
<line x1="524.69" y1="181.2" x2="526.69" y2="181.2" class="cap"/>
<line x1="524.69" y1="196" x2="526.69" y2="196" class="cap"/>
<rect x="523.84" y="185" width="3.7" height="11" rx="0.3" class="bx"/>
<line x1="524.24" y1="192.6" x2="527.14" y2="192.6" class="md"/>
<line x1="533.62" y1="169.4" x2="533.62" y2="190.3" class="wh"/>
<line x1="532.62" y1="146" x2="534.62" y2="146" class="cap"/>
<line x1="532.62" y1="190.3" x2="534.62" y2="190.3" class="cap"/>
<rect x="531.77" y="146" width="3.7" height="23.4" rx="0.3" class="bx"/>
<line x1="532.17" y1="149.8" x2="535.07" y2="149.8" class="md"/>
<line x1="541.54" y1="194.8" x2="541.54" y2="193.9" class="wh"/>
<line x1="540.54" y1="193.9" x2="542.54" y2="193.9" class="cap"/>
<line x1="540.54" y1="196" x2="542.54" y2="196" class="cap"/>
<rect x="539.29" y="194.6" width="4.5" height="1.6" class="bxs"/>
<line x1="540.09" y1="195.8" x2="542.99" y2="195.8" class="md"/>
</g>
<rect x="442.5" y="134.2" width="103" height="83.2" class="ax"/>
<line x1="446.46" y1="217.4" x2="446.46" y2="216.2" class="tk"/>
<line x1="446.46" y1="134.2" x2="446.46" y2="135.4" class="tk"/>
<line x1="454.38" y1="217.4" x2="454.38" y2="216.2" class="tk"/>
<line x1="454.38" y1="134.2" x2="454.38" y2="135.4" class="tk"/>
<line x1="462.31" y1="217.4" x2="462.31" y2="216.2" class="tk"/>
<line x1="462.31" y1="134.2" x2="462.31" y2="135.4" class="tk"/>
<line x1="470.23" y1="217.4" x2="470.23" y2="216.2" class="tk"/>
<line x1="470.23" y1="134.2" x2="470.23" y2="135.4" class="tk"/>
<line x1="478.15" y1="217.4" x2="478.15" y2="216.2" class="tk"/>
<line x1="478.15" y1="134.2" x2="478.15" y2="135.4" class="tk"/>
<line x1="486.08" y1="217.4" x2="486.08" y2="216.2" class="tk"/>
<line x1="486.08" y1="134.2" x2="486.08" y2="135.4" class="tk"/>
<line x1="494" y1="217.4" x2="494" y2="216.2" class="tk"/>
<line x1="494" y1="134.2" x2="494" y2="135.4" class="tk"/>
<line x1="501.92" y1="217.4" x2="501.92" y2="216.2" class="tk"/>
<line x1="501.92" y1="134.2" x2="501.92" y2="135.4" class="tk"/>
<line x1="509.85" y1="217.4" x2="509.85" y2="216.2" class="tk"/>
<line x1="509.85" y1="134.2" x2="509.85" y2="135.4" class="tk"/>
<line x1="517.77" y1="217.4" x2="517.77" y2="216.2" class="tk"/>
<line x1="517.77" y1="134.2" x2="517.77" y2="135.4" class="tk"/>
<line x1="525.69" y1="217.4" x2="525.69" y2="216.2" class="tk"/>
<line x1="525.69" y1="134.2" x2="525.69" y2="135.4" class="tk"/>
<line x1="533.62" y1="217.4" x2="533.62" y2="216.2" class="tk"/>
<line x1="533.62" y1="134.2" x2="533.62" y2="135.4" class="tk"/>
<line x1="541.54" y1="217.4" x2="541.54" y2="216.2" class="tk"/>
<line x1="541.54" y1="134.2" x2="541.54" y2="135.4" class="tk"/>
<line x1="442.5" y1="139.81" x2="443.7" y2="139.81" class="tk"/>
<line x1="545.5" y1="139.81" x2="544.3" y2="139.81" class="tk"/>
<text transform="translate(441,141.91)" font-size="6.35" text-anchor="end" class="tl">600</text>
<line x1="442.5" y1="150.05" x2="443.7" y2="150.05" class="tk"/>
<line x1="545.5" y1="150.05" x2="544.3" y2="150.05" class="tk"/>
<text transform="translate(441,152.15)" font-size="6.35" text-anchor="end" class="tl">500</text>
<line x1="442.5" y1="162.58" x2="443.7" y2="162.58" class="tk"/>
<line x1="545.5" y1="162.58" x2="544.3" y2="162.58" class="tk"/>
<text transform="translate(441,164.68)" font-size="6.35" text-anchor="end" class="tl">400</text>
<line x1="442.5" y1="178.73" x2="443.7" y2="178.73" class="tk"/>
<line x1="545.5" y1="178.73" x2="544.3" y2="178.73" class="tk"/>
<text transform="translate(441,180.83)" font-size="6.35" text-anchor="end" class="tl">300</text>
<line x1="442.5" y1="201.5" x2="443.7" y2="201.5" class="tk"/>
<line x1="545.5" y1="201.5" x2="544.3" y2="201.5" class="tk"/>
<text transform="translate(441,203.6)" font-size="6.35" text-anchor="end" class="tl">200</text>
<line x1="442.5" y1="214.03" x2="443.3" y2="214.03" class="mt"/>
<line x1="545.5" y1="214.03" x2="544.7" y2="214.03" class="mt"/>
<line x1="442.5" y1="210.63" x2="443.3" y2="210.63" class="mt"/>
<line x1="545.5" y1="210.63" x2="544.7" y2="210.63" class="mt"/>
<line x1="442.5" y1="207.42" x2="443.3" y2="207.42" class="mt"/>
<line x1="545.5" y1="207.42" x2="544.7" y2="207.42" class="mt"/>
<line x1="442.5" y1="204.38" x2="443.3" y2="204.38" class="mt"/>
<line x1="545.5" y1="204.38" x2="544.7" y2="204.38" class="mt"/>
<line x1="442.5" y1="188.97" x2="443.3" y2="188.97" class="mt"/>
<line x1="545.5" y1="188.97" x2="544.7" y2="188.97" class="mt"/>
<line x1="442.5" y1="170.08" x2="443.3" y2="170.08" class="mt"/>
<line x1="545.5" y1="170.08" x2="544.7" y2="170.08" class="mt"/>
<line x1="442.5" y1="155.96" x2="443.3" y2="155.96" class="mt"/>
<line x1="545.5" y1="155.96" x2="544.7" y2="155.96" class="mt"/>
<line x1="442.5" y1="144.69" x2="443.3" y2="144.69" class="mt"/>
<line x1="545.5" y1="144.69" x2="544.7" y2="144.69" class="mt"/>
<line x1="442.5" y1="135.31" x2="443.3" y2="135.31" class="mt"/>
<line x1="545.5" y1="135.31" x2="544.7" y2="135.31" class="mt"/>
<text transform="translate(449.11,218.9) rotate(-90) scale(1,1.15)" font-size="6.35" text-anchor="end" class="tl">GAO</text>
<text transform="translate(457.03,218.9) rotate(-90) scale(1,1.15)" font-size="6.35" text-anchor="end" class="tl">WSO</text>
<text transform="translate(464.96,218.9) rotate(-90) scale(1,1.15)" font-size="6.35" text-anchor="end" class="tl">AVOA</text>
<text transform="translate(472.88,218.9) rotate(-90) scale(1,1.15)" font-size="6.35" text-anchor="end" class="tl">RSA</text>
<text transform="translate(480.8,218.9) rotate(-90) scale(1,1.15)" font-size="6.35" text-anchor="end" class="tl">MPA</text>
<text transform="translate(488.73,218.9) rotate(-90) scale(1,1.15)" font-size="6.35" text-anchor="end" class="tl">TSA</text>
<text transform="translate(496.65,218.9) rotate(-90) scale(1,1.15)" font-size="6.35" text-anchor="end" class="tl">WOA</text>
<text transform="translate(504.57,218.9) rotate(-90) scale(1,1.15)" font-size="6.35" text-anchor="end" class="tl">MVO</text>
<text transform="translate(512.5,218.9) rotate(-90) scale(1,1.15)" font-size="6.35" text-anchor="end" class="tl">GWO</text>
<text transform="translate(520.42,218.9) rotate(-90) scale(1,1.15)" font-size="6.35" text-anchor="end" class="tl">TLBO</text>
<text transform="translate(528.34,218.9) rotate(-90) scale(1,1.15)" font-size="6.35" text-anchor="end" class="tl">GSA</text>
<text transform="translate(536.27,218.9) rotate(-90) scale(1,1.15)" font-size="6.35" text-anchor="end" class="tl">PSO</text>
<text transform="translate(544.19,218.9) rotate(-90) scale(1,1.15)" font-size="6.35" text-anchor="end" class="tl">GA</text>
<text transform="translate(494,243.5)" font-size="7.1" text-anchor="middle">algorithm</text>
<text transform="translate(428.4,175.25) rotate(-90) scale(1,1.15)" font-size="6.93" text-anchor="middle">objective function</text>
<text transform="translate(494,132.2)" font-size="7.1" text-anchor="middle" font-weight="bold" class="tt">C11-F8</text>
<g>
<line x1="25.12" y1="328.8" x2="25.12" y2="326.9" class="wh"/>
<line x1="24.12" y1="326.9" x2="26.12" y2="326.9" class="cap"/>
<line x1="24.12" y1="337.4" x2="26.12" y2="337.4" class="cap"/>
<rect x="23.27" y="328.8" width="3.7" height="8.6" rx="0.3" class="bx"/>
<line x1="23.67" y1="333.6" x2="26.57" y2="333.6" class="md"/>
<path d="M24.27 324L25.97 324L25.12 322Z" class="ol"/>
<line x1="32.15" y1="273.7" x2="34.15" y2="273.7" class="cap"/>
<line x1="32.15" y1="277.5" x2="34.15" y2="277.5" class="cap"/>
<rect x="31.3" y="273.7" width="3.7" height="3.8" rx="0.3" class="bx"/>
<line x1="31.7" y1="274.7" x2="34.6" y2="274.7" class="md"/>
<path d="M32.3 280.9L34 280.9L33.15 278.9Z" class="ol"/>
<line x1="40.18" y1="279.4" x2="42.18" y2="279.4" class="cap"/>
<line x1="40.18" y1="281.9" x2="42.18" y2="281.9" class="cap"/>
<rect x="39.33" y="279.4" width="3.7" height="2.5" rx="0.3" class="bx"/>
<line x1="39.73" y1="280.8" x2="42.63" y2="280.8" class="md"/>
<line x1="48.21" y1="264.8" x2="50.21" y2="264.8" class="cap"/>
<line x1="48.21" y1="268.6" x2="50.21" y2="268.6" class="cap"/>
<rect x="47.36" y="264.8" width="3.7" height="3.8" rx="0.3" class="bx"/>
<line x1="47.76" y1="266.7" x2="50.66" y2="266.7" class="md"/>
<path d="M48.36 272.2L50.06 272.2L49.21 270.2Z" class="ol"/>
<line x1="56.24" y1="316.8" x2="58.24" y2="316.8" class="cap"/>
<line x1="56.24" y1="326.9" x2="58.24" y2="326.9" class="cap"/>
<rect x="55.39" y="316.8" width="3.7" height="10.1" rx="0.3" class="bx"/>
<line x1="55.79" y1="321.8" x2="58.69" y2="321.8" class="md"/>
<path d="M56.39 330.3L58.09 330.3L57.24 328.3Z" class="ol"/>
<line x1="65.27" y1="307.9" x2="65.27" y2="309.2" class="wh"/>
<line x1="64.27" y1="303.2" x2="66.27" y2="303.2" class="cap"/>
<line x1="64.27" y1="309.2" x2="66.27" y2="309.2" class="cap"/>
<rect x="63.42" y="303.2" width="3.7" height="4.7" rx="0.3" class="bx"/>
<line x1="63.82" y1="305.5" x2="66.72" y2="305.5" class="md"/>
<line x1="73.3" y1="276.2" x2="73.3" y2="273.2" class="wh"/>
<line x1="73.3" y1="288.9" x2="73.3" y2="289.5" class="wh"/>
<line x1="72.3" y1="273.2" x2="74.3" y2="273.2" class="cap"/>
<line x1="72.3" y1="289.5" x2="74.3" y2="289.5" class="cap"/>
<rect x="71.45" y="276.2" width="3.7" height="12.7" rx="0.3" class="bx"/>
<line x1="71.85" y1="282.3" x2="74.75" y2="282.3" class="md"/>
<line x1="81.33" y1="292.2" x2="81.33" y2="289.5" class="wh"/>
<line x1="80.33" y1="289.5" x2="82.33" y2="289.5" class="cap"/>
<line x1="80.33" y1="299.8" x2="82.33" y2="299.8" class="cap"/>
<rect x="79.48" y="292.2" width="3.7" height="7.6" rx="0.3" class="bx"/>
<line x1="79.88" y1="296" x2="82.78" y2="296" class="md"/>
<path d="M80.48 303.1L82.18 303.1L81.33 301.1Z" class="ol"/>
<line x1="89.36" y1="306.4" x2="89.36" y2="303.6" class="wh"/>
<line x1="88.36" y1="303.6" x2="90.36" y2="303.6" class="cap"/>
<line x1="88.36" y1="318.4" x2="90.36" y2="318.4" class="cap"/>
<rect x="87.51" y="306.4" width="3.7" height="12" rx="0.3" class="bx"/>
<line x1="87.91" y1="312.3" x2="90.81" y2="312.3" class="md"/>
<path d="M88.51 322.7L90.21 322.7L89.36 320.7Z" class="ol"/>
<line x1="97.39" y1="277.5" x2="97.39" y2="276.2" class="wh"/>
<line x1="96.39" y1="276.2" x2="98.39" y2="276.2" class="cap"/>
<line x1="96.39" y1="282.3" x2="98.39" y2="282.3" class="cap"/>
<rect x="95.54" y="277.5" width="3.7" height="4.8" rx="0.3" class="bx"/>
<line x1="95.94" y1="280" x2="98.84" y2="280" class="md"/>
<line x1="105.42" y1="270.5" x2="105.42" y2="271.8" class="wh"/>
<line x1="104.42" y1="268.6" x2="106.42" y2="268.6" class="cap"/>
<line x1="104.42" y1="271.8" x2="106.42" y2="271.8" class="cap"/>
<rect x="103.57" y="268.6" width="3.7" height="1.9" rx="0.3" class="bx"/>
<line x1="103.97" y1="269.4" x2="106.87" y2="269.4" class="md"/>
<line x1="113.45" y1="263.3" x2="113.45" y2="262.3" class="wh"/>
<line x1="112.45" y1="262.3" x2="114.45" y2="262.3" class="cap"/>
<line x1="112.45" y1="269" x2="114.45" y2="269" class="cap"/>
<rect x="111.6" y="263.3" width="3.7" height="5.7" rx="0.3" class="bx"/>
<line x1="112" y1="266.1" x2="114.9" y2="266.1" class="md"/>
<line x1="120.48" y1="256.6" x2="122.48" y2="256.6" class="cap"/>
<line x1="120.48" y1="258" x2="122.48" y2="258" class="cap"/>
<rect x="119.63" y="256.6" width="3.7" height="1.4" rx="0.3" class="bx"/>
<line x1="120.03" y1="257.2" x2="122.93" y2="257.2" class="md"/>
</g>
<rect x="21.1" y="255.9" width="104.4" height="83.3" class="ax"/>
<line x1="25.12" y1="339.2" x2="25.12" y2="338" class="tk"/>
<line x1="25.12" y1="255.9" x2="25.12" y2="257.1" class="tk"/>
<line x1="33.15" y1="339.2" x2="33.15" y2="338" class="tk"/>
<line x1="33.15" y1="255.9" x2="33.15" y2="257.1" class="tk"/>
<line x1="41.18" y1="339.2" x2="41.18" y2="338" class="tk"/>
<line x1="41.18" y1="255.9" x2="41.18" y2="257.1" class="tk"/>
<line x1="49.21" y1="339.2" x2="49.21" y2="338" class="tk"/>
<line x1="49.21" y1="255.9" x2="49.21" y2="257.1" class="tk"/>
<line x1="57.24" y1="339.2" x2="57.24" y2="338" class="tk"/>
<line x1="57.24" y1="255.9" x2="57.24" y2="257.1" class="tk"/>
<line x1="65.27" y1="339.2" x2="65.27" y2="338" class="tk"/>
<line x1="65.27" y1="255.9" x2="65.27" y2="257.1" class="tk"/>
<line x1="73.3" y1="339.2" x2="73.3" y2="338" class="tk"/>
<line x1="73.3" y1="255.9" x2="73.3" y2="257.1" class="tk"/>
<line x1="81.33" y1="339.2" x2="81.33" y2="338" class="tk"/>
<line x1="81.33" y1="255.9" x2="81.33" y2="257.1" class="tk"/>
<line x1="89.36" y1="339.2" x2="89.36" y2="338" class="tk"/>
<line x1="89.36" y1="255.9" x2="89.36" y2="257.1" class="tk"/>
<line x1="97.39" y1="339.2" x2="97.39" y2="338" class="tk"/>
<line x1="97.39" y1="255.9" x2="97.39" y2="257.1" class="tk"/>
<line x1="105.42" y1="339.2" x2="105.42" y2="338" class="tk"/>
<line x1="105.42" y1="255.9" x2="105.42" y2="257.1" class="tk"/>
<line x1="113.45" y1="339.2" x2="113.45" y2="338" class="tk"/>
<line x1="113.45" y1="255.9" x2="113.45" y2="257.1" class="tk"/>
<line x1="121.48" y1="339.2" x2="121.48" y2="338" class="tk"/>
<line x1="121.48" y1="255.9" x2="121.48" y2="257.1" class="tk"/>
<line x1="21.1" y1="265.6" x2="22.3" y2="265.6" class="tk"/>
<line x1="125.5" y1="265.6" x2="124.3" y2="265.6" class="tk"/>
<text transform="translate(19.6,268.5)" font-size="6.35" text-anchor="end" class="tl">10<tspan font-size="4.8" dy="-3.0">6</tspan></text>
<line x1="21.1" y1="298.6" x2="22.3" y2="298.6" class="tk"/>
<line x1="125.5" y1="298.6" x2="124.3" y2="298.6" class="tk"/>
<text transform="translate(19.6,301.5)" font-size="6.35" text-anchor="end" class="tl">10<tspan font-size="4.8" dy="-3.0">5</tspan></text>
<line x1="21.1" y1="331.6" x2="22.3" y2="331.6" class="tk"/>
<line x1="125.5" y1="331.6" x2="124.3" y2="331.6" class="tk"/>
<text transform="translate(19.6,334.5)" font-size="6.35" text-anchor="end" class="tl">10<tspan font-size="4.8" dy="-3.0">4</tspan></text>
<line x1="21.1" y1="336.71" x2="21.9" y2="336.71" class="mt"/>
<line x1="125.5" y1="336.71" x2="124.7" y2="336.71" class="mt"/>
<line x1="21.1" y1="334.8" x2="21.9" y2="334.8" class="mt"/>
<line x1="125.5" y1="334.8" x2="124.7" y2="334.8" class="mt"/>
<line x1="21.1" y1="333.11" x2="21.9" y2="333.11" class="mt"/>
<line x1="125.5" y1="333.11" x2="124.7" y2="333.11" class="mt"/>
<line x1="21.1" y1="331.6" x2="21.9" y2="331.6" class="mt"/>
<line x1="125.5" y1="331.6" x2="124.7" y2="331.6" class="mt"/>
<line x1="21.1" y1="321.67" x2="21.9" y2="321.67" class="mt"/>
<line x1="125.5" y1="321.67" x2="124.7" y2="321.67" class="mt"/>
<line x1="21.1" y1="315.85" x2="21.9" y2="315.85" class="mt"/>
<line x1="125.5" y1="315.85" x2="124.7" y2="315.85" class="mt"/>
<line x1="21.1" y1="311.73" x2="21.9" y2="311.73" class="mt"/>
<line x1="125.5" y1="311.73" x2="124.7" y2="311.73" class="mt"/>
<line x1="21.1" y1="308.53" x2="21.9" y2="308.53" class="mt"/>
<line x1="125.5" y1="308.53" x2="124.7" y2="308.53" class="mt"/>
<line x1="21.1" y1="305.92" x2="21.9" y2="305.92" class="mt"/>
<line x1="125.5" y1="305.92" x2="124.7" y2="305.92" class="mt"/>
<line x1="21.1" y1="303.71" x2="21.9" y2="303.71" class="mt"/>
<line x1="125.5" y1="303.71" x2="124.7" y2="303.71" class="mt"/>
<line x1="21.1" y1="301.8" x2="21.9" y2="301.8" class="mt"/>
<line x1="125.5" y1="301.8" x2="124.7" y2="301.8" class="mt"/>
<line x1="21.1" y1="300.11" x2="21.9" y2="300.11" class="mt"/>
<line x1="125.5" y1="300.11" x2="124.7" y2="300.11" class="mt"/>
<line x1="21.1" y1="298.6" x2="21.9" y2="298.6" class="mt"/>
<line x1="125.5" y1="298.6" x2="124.7" y2="298.6" class="mt"/>
<line x1="21.1" y1="288.67" x2="21.9" y2="288.67" class="mt"/>
<line x1="125.5" y1="288.67" x2="124.7" y2="288.67" class="mt"/>
<line x1="21.1" y1="282.85" x2="21.9" y2="282.85" class="mt"/>
<line x1="125.5" y1="282.85" x2="124.7" y2="282.85" class="mt"/>
<line x1="21.1" y1="278.73" x2="21.9" y2="278.73" class="mt"/>
<line x1="125.5" y1="278.73" x2="124.7" y2="278.73" class="mt"/>
<line x1="21.1" y1="275.53" x2="21.9" y2="275.53" class="mt"/>
<line x1="125.5" y1="275.53" x2="124.7" y2="275.53" class="mt"/>
<line x1="21.1" y1="272.92" x2="21.9" y2="272.92" class="mt"/>
<line x1="125.5" y1="272.92" x2="124.7" y2="272.92" class="mt"/>
<line x1="21.1" y1="270.71" x2="21.9" y2="270.71" class="mt"/>
<line x1="125.5" y1="270.71" x2="124.7" y2="270.71" class="mt"/>
<line x1="21.1" y1="268.8" x2="21.9" y2="268.8" class="mt"/>
<line x1="125.5" y1="268.8" x2="124.7" y2="268.8" class="mt"/>
<line x1="21.1" y1="267.11" x2="21.9" y2="267.11" class="mt"/>
<line x1="125.5" y1="267.11" x2="124.7" y2="267.11" class="mt"/>
<line x1="21.1" y1="265.6" x2="21.9" y2="265.6" class="mt"/>
<line x1="125.5" y1="265.6" x2="124.7" y2="265.6" class="mt"/>
<text transform="translate(27.77,341) rotate(-90) scale(1,1.15)" font-size="6.35" text-anchor="end" class="tl">GAO</text>
<text transform="translate(35.8,341) rotate(-90) scale(1,1.15)" font-size="6.35" text-anchor="end" class="tl">WSO</text>
<text transform="translate(43.83,341) rotate(-90) scale(1,1.15)" font-size="6.35" text-anchor="end" class="tl">AVOA</text>
<text transform="translate(51.86,341) rotate(-90) scale(1,1.15)" font-size="6.35" text-anchor="end" class="tl">RSA</text>
<text transform="translate(59.89,341) rotate(-90) scale(1,1.15)" font-size="6.35" text-anchor="end" class="tl">MPA</text>
<text transform="translate(67.92,341) rotate(-90) scale(1,1.15)" font-size="6.35" text-anchor="end" class="tl">TSA</text>
<text transform="translate(75.95,341) rotate(-90) scale(1,1.15)" font-size="6.35" text-anchor="end" class="tl">WOA</text>
<text transform="translate(83.98,341) rotate(-90) scale(1,1.15)" font-size="6.35" text-anchor="end" class="tl">MVO</text>
<text transform="translate(92.01,341) rotate(-90) scale(1,1.15)" font-size="6.35" text-anchor="end" class="tl">GWO</text>
<text transform="translate(100.04,341) rotate(-90) scale(1,1.15)" font-size="6.35" text-anchor="end" class="tl">TLBO</text>
<text transform="translate(108.07,341) rotate(-90) scale(1,1.15)" font-size="6.35" text-anchor="end" class="tl">GSA</text>
<text transform="translate(116.1,341) rotate(-90) scale(1,1.15)" font-size="6.35" text-anchor="end" class="tl">PSO</text>
<text transform="translate(124.13,341) rotate(-90) scale(1,1.15)" font-size="6.35" text-anchor="end" class="tl">GA</text>
<text transform="translate(73.3,366.2)" font-size="7.1" text-anchor="middle">algorithm</text>
<text transform="translate(8.5,297.6) rotate(-90) scale(1,1.15)" font-size="7.02" text-anchor="middle">objective function</text>
<text transform="translate(73.3,253.9)" font-size="7.1" text-anchor="middle" font-weight="bold" class="tt">C11-F9</text>
<g>
<line x1="164.63" y1="332.6" x2="164.63" y2="330.7" class="wh"/>
<line x1="163.63" y1="330.7" x2="165.63" y2="330.7" class="cap"/>
<line x1="163.63" y1="335.5" x2="165.63" y2="335.5" class="cap"/>
<rect x="162.78" y="332.6" width="3.7" height="2.9" rx="0.3" class="bx"/>
<line x1="163.18" y1="334.9" x2="166.08" y2="334.9" class="md"/>
<line x1="172.69" y1="293.7" x2="172.69" y2="292.7" class="wh"/>
<line x1="171.69" y1="292.7" x2="173.69" y2="292.7" class="cap"/>
<line x1="171.69" y1="299.4" x2="173.69" y2="299.4" class="cap"/>
<rect x="170.84" y="293.7" width="3.7" height="5.7" rx="0.3" class="bx"/>
<line x1="171.24" y1="294.6" x2="174.14" y2="294.6" class="md"/>
<path d="M171.84 304.1L173.54 304.1L172.69 302.1Z" class="ol"/>
<line x1="180.75" y1="311.7" x2="180.75" y2="310.8" class="wh"/>
<line x1="179.75" y1="310.8" x2="181.75" y2="310.8" class="cap"/>
<line x1="179.75" y1="314" x2="181.75" y2="314" class="cap"/>
<rect x="178.9" y="311.7" width="3.7" height="2.3" rx="0.3" class="bx"/>
<line x1="179.3" y1="313" x2="182.2" y2="313" class="md"/>
<line x1="188.82" y1="287" x2="188.82" y2="288" class="wh"/>
<line x1="187.82" y1="284.2" x2="189.82" y2="284.2" class="cap"/>
<line x1="187.82" y1="288" x2="189.82" y2="288" class="cap"/>
<rect x="186.97" y="284.2" width="3.7" height="2.8" rx="0.3" class="bx"/>
<line x1="187.37" y1="285.5" x2="190.27" y2="285.5" class="md"/>
<line x1="195.88" y1="321.8" x2="197.88" y2="321.8" class="cap"/>
<line x1="195.88" y1="325" x2="197.88" y2="325" class="cap"/>
<rect x="195.03" y="321.8" width="3.7" height="3.2" rx="0.3" class="bx"/>
<line x1="195.43" y1="323.1" x2="198.33" y2="323.1" class="md"/>
<line x1="204.94" y1="287" x2="204.94" y2="284.2" class="wh"/>
<line x1="204.94" y1="310.4" x2="204.94" y2="320" class="wh"/>
<line x1="203.94" y1="284.2" x2="205.94" y2="284.2" class="cap"/>
<line x1="203.94" y1="320" x2="205.94" y2="320" class="cap"/>
<rect x="203.09" y="287" width="3.7" height="23.4" rx="0.3" class="bx"/>
<line x1="203.49" y1="292.2" x2="206.39" y2="292.2" class="md"/>
<path d="M204.09 323.1L205.79 323.1L204.94 321.1Z" class="ol"/>
<line x1="213" y1="288" x2="213" y2="286.5" class="wh"/>
<line x1="213" y1="291.4" x2="213" y2="293.3" class="wh"/>
<line x1="212" y1="286.5" x2="214" y2="286.5" class="cap"/>
<line x1="212" y1="293.3" x2="214" y2="293.3" class="cap"/>
<rect x="211.15" y="288" width="3.7" height="3.4" rx="0.3" class="bx"/>
<line x1="211.55" y1="289.5" x2="214.45" y2="289.5" class="md"/>
<line x1="221.06" y1="314.6" x2="221.06" y2="330" class="wh"/>
<line x1="220.06" y1="285.1" x2="222.06" y2="285.1" class="cap"/>
<line x1="220.06" y1="330" x2="222.06" y2="330" class="cap"/>
<rect x="219.21" y="285.1" width="3.7" height="29.5" rx="0.3" class="bx"/>
<line x1="219.61" y1="290.4" x2="222.51" y2="290.4" class="md"/>
<path d="M220.21 280.9L221.91 280.9L221.06 278.9Z" class="ol"/>
<path d="M220.21 333.5L221.91 333.5L221.06 331.5Z" class="ol"/>
<line x1="229.12" y1="294.1" x2="229.12" y2="290.3" class="wh"/>
<line x1="228.12" y1="290.3" x2="230.12" y2="290.3" class="cap"/>
<line x1="228.12" y1="300.3" x2="230.12" y2="300.3" class="cap"/>
<rect x="227.27" y="294.1" width="3.7" height="6.2" rx="0.3" class="bx"/>
<line x1="227.67" y1="299" x2="230.57" y2="299" class="md"/>
<line x1="236.18" y1="277.5" x2="238.18" y2="277.5" class="cap"/>
<line x1="236.18" y1="279.4" x2="238.18" y2="279.4" class="cap"/>
<rect x="235.33" y="277.5" width="3.7" height="1.9" rx="0.3" class="bx"/>
<line x1="235.73" y1="278.5" x2="238.63" y2="278.5" class="md"/>
<line x1="245.25" y1="287.6" x2="245.25" y2="286.5" class="wh"/>
<line x1="244.25" y1="286.5" x2="246.25" y2="286.5" class="cap"/>
<line x1="244.25" y1="294.6" x2="246.25" y2="294.6" class="cap"/>
<rect x="243.4" y="287.6" width="3.7" height="7" rx="0.3" class="bx"/>
<line x1="243.8" y1="292.2" x2="246.7" y2="292.2" class="md"/>
<line x1="252.31" y1="278.5" x2="254.31" y2="278.5" class="cap"/>
<line x1="252.31" y1="279.8" x2="254.31" y2="279.8" class="cap"/>
<rect x="251.46" y="278.5" width="3.7" height="1.3" rx="0.3" class="bx"/>
<line x1="251.86" y1="279" x2="254.76" y2="279" class="md"/>
<line x1="260.37" y1="276.2" x2="262.37" y2="276.2" class="cap"/>
<line x1="260.37" y1="277.9" x2="262.37" y2="277.9" class="cap"/>
<rect x="259.52" y="276.2" width="3.7" height="1.7" rx="0.3" class="bx"/>
<line x1="259.92" y1="277" x2="262.82" y2="277" class="md"/>
</g>
<rect x="160.6" y="255.9" width="104.8" height="83.3" class="ax"/>
<line x1="164.63" y1="339.2" x2="164.63" y2="338" class="tk"/>
<line x1="164.63" y1="255.9" x2="164.63" y2="257.1" class="tk"/>
<line x1="172.69" y1="339.2" x2="172.69" y2="338" class="tk"/>
<line x1="172.69" y1="255.9" x2="172.69" y2="257.1" class="tk"/>
<line x1="180.75" y1="339.2" x2="180.75" y2="338" class="tk"/>
<line x1="180.75" y1="255.9" x2="180.75" y2="257.1" class="tk"/>
<line x1="188.82" y1="339.2" x2="188.82" y2="338" class="tk"/>
<line x1="188.82" y1="255.9" x2="188.82" y2="257.1" class="tk"/>
<line x1="196.88" y1="339.2" x2="196.88" y2="338" class="tk"/>
<line x1="196.88" y1="255.9" x2="196.88" y2="257.1" class="tk"/>
<line x1="204.94" y1="339.2" x2="204.94" y2="338" class="tk"/>
<line x1="204.94" y1="255.9" x2="204.94" y2="257.1" class="tk"/>
<line x1="213" y1="339.2" x2="213" y2="338" class="tk"/>
<line x1="213" y1="255.9" x2="213" y2="257.1" class="tk"/>
<line x1="221.06" y1="339.2" x2="221.06" y2="338" class="tk"/>
<line x1="221.06" y1="255.9" x2="221.06" y2="257.1" class="tk"/>
<line x1="229.12" y1="339.2" x2="229.12" y2="338" class="tk"/>
<line x1="229.12" y1="255.9" x2="229.12" y2="257.1" class="tk"/>
<line x1="237.18" y1="339.2" x2="237.18" y2="338" class="tk"/>
<line x1="237.18" y1="255.9" x2="237.18" y2="257.1" class="tk"/>
<line x1="245.25" y1="339.2" x2="245.25" y2="338" class="tk"/>
<line x1="245.25" y1="255.9" x2="245.25" y2="257.1" class="tk"/>
<line x1="253.31" y1="339.2" x2="253.31" y2="338" class="tk"/>
<line x1="253.31" y1="255.9" x2="253.31" y2="257.1" class="tk"/>
<line x1="261.37" y1="339.2" x2="261.37" y2="338" class="tk"/>
<line x1="261.37" y1="255.9" x2="261.37" y2="257.1" class="tk"/>
<line x1="160.6" y1="257.6" x2="161.8" y2="257.6" class="tk"/>
<line x1="265.4" y1="257.6" x2="264.2" y2="257.6" class="tk"/>
<text transform="translate(159.1,259.7)" font-size="6.35" text-anchor="end" class="tl">-10</text>
<line x1="160.6" y1="275.81" x2="161.8" y2="275.81" class="tk"/>
<line x1="265.4" y1="275.81" x2="264.2" y2="275.81" class="tk"/>
<text transform="translate(159.1,277.91)" font-size="6.35" text-anchor="end" class="tl">-12</text>
<line x1="160.6" y1="291.21" x2="161.8" y2="291.21" class="tk"/>
<line x1="265.4" y1="291.21" x2="264.2" y2="291.21" class="tk"/>
<text transform="translate(159.1,293.31)" font-size="6.35" text-anchor="end" class="tl">-14</text>
<line x1="160.6" y1="304.55" x2="161.8" y2="304.55" class="tk"/>
<line x1="265.4" y1="304.55" x2="264.2" y2="304.55" class="tk"/>
<text transform="translate(159.1,306.65)" font-size="6.35" text-anchor="end" class="tl">-16</text>
<line x1="160.6" y1="316.31" x2="161.8" y2="316.31" class="tk"/>
<line x1="265.4" y1="316.31" x2="264.2" y2="316.31" class="tk"/>
<text transform="translate(159.1,318.41)" font-size="6.35" text-anchor="end" class="tl">-18</text>
<line x1="160.6" y1="326.84" x2="161.8" y2="326.84" class="tk"/>
<line x1="265.4" y1="326.84" x2="264.2" y2="326.84" class="tk"/>
<text transform="translate(159.1,328.94)" font-size="6.35" text-anchor="end" class="tl">-20</text>
<line x1="160.6" y1="336.36" x2="161.8" y2="336.36" class="tk"/>
<line x1="265.4" y1="336.36" x2="264.2" y2="336.36" class="tk"/>
<text transform="translate(159.1,338.46)" font-size="6.35" text-anchor="end" class="tl">-22</text>
<line x1="160.6" y1="267.12" x2="161.4" y2="267.12" class="mt"/>
<line x1="265.4" y1="267.12" x2="264.6" y2="267.12" class="mt"/>
<line x1="160.6" y1="283.81" x2="161.4" y2="283.81" class="mt"/>
<line x1="265.4" y1="283.81" x2="264.6" y2="283.81" class="mt"/>
<line x1="160.6" y1="298.1" x2="161.4" y2="298.1" class="mt"/>
<line x1="265.4" y1="298.1" x2="264.6" y2="298.1" class="mt"/>
<line x1="160.6" y1="310.6" x2="161.4" y2="310.6" class="mt"/>
<line x1="265.4" y1="310.6" x2="264.6" y2="310.6" class="mt"/>
<line x1="160.6" y1="321.71" x2="161.4" y2="321.71" class="mt"/>
<line x1="265.4" y1="321.71" x2="264.6" y2="321.71" class="mt"/>
<line x1="160.6" y1="331.71" x2="161.4" y2="331.71" class="mt"/>
<line x1="265.4" y1="331.71" x2="264.6" y2="331.71" class="mt"/>
<text transform="translate(167.28,341) rotate(-90) scale(1,1.15)" font-size="6.35" text-anchor="end" class="tl">GAO</text>
<text transform="translate(175.34,341) rotate(-90) scale(1,1.15)" font-size="6.35" text-anchor="end" class="tl">WSO</text>
<text transform="translate(183.4,341) rotate(-90) scale(1,1.15)" font-size="6.35" text-anchor="end" class="tl">AVOA</text>
<text transform="translate(191.47,341) rotate(-90) scale(1,1.15)" font-size="6.35" text-anchor="end" class="tl">RSA</text>
<text transform="translate(199.53,341) rotate(-90) scale(1,1.15)" font-size="6.35" text-anchor="end" class="tl">MPA</text>
<text transform="translate(207.59,341) rotate(-90) scale(1,1.15)" font-size="6.35" text-anchor="end" class="tl">TSA</text>
<text transform="translate(215.65,341) rotate(-90) scale(1,1.15)" font-size="6.35" text-anchor="end" class="tl">WOA</text>
<text transform="translate(223.71,341) rotate(-90) scale(1,1.15)" font-size="6.35" text-anchor="end" class="tl">MVO</text>
<text transform="translate(231.77,341) rotate(-90) scale(1,1.15)" font-size="6.35" text-anchor="end" class="tl">GWO</text>
<text transform="translate(239.83,341) rotate(-90) scale(1,1.15)" font-size="6.35" text-anchor="end" class="tl">TLBO</text>
<text transform="translate(247.9,341) rotate(-90) scale(1,1.15)" font-size="6.35" text-anchor="end" class="tl">GSA</text>
<text transform="translate(255.96,341) rotate(-90) scale(1,1.15)" font-size="6.35" text-anchor="end" class="tl">PSO</text>
<text transform="translate(264.02,341) rotate(-90) scale(1,1.15)" font-size="6.35" text-anchor="end" class="tl">GA</text>
<text transform="translate(213,366.2)" font-size="7.1" text-anchor="middle">algorithm</text>
<text transform="translate(148.4,297.6) rotate(-90) scale(1,1.15)" font-size="7.02" text-anchor="middle">objective function</text>
<text transform="translate(213,253.9)" font-size="7.1" text-anchor="middle" font-weight="bold" class="tt">C11-F10</text>
<g>
<line x1="305.13" y1="314.2" x2="305.13" y2="311.7" class="wh"/>
<line x1="304.13" y1="311.7" x2="306.13" y2="311.7" class="cap"/>
<line x1="304.13" y1="330.7" x2="306.13" y2="330.7" class="cap"/>
<rect x="303.28" y="314.2" width="3.7" height="16.5" rx="0.3" class="bx"/>
<line x1="303.68" y1="319.3" x2="306.58" y2="319.3" class="md"/>
<path d="M304.28 335.4L305.98 335.4L305.13 333.4Z" class="ol"/>
<line x1="312.18" y1="266.7" x2="314.18" y2="266.7" class="cap"/>
<line x1="312.18" y1="269" x2="314.18" y2="269" class="cap"/>
<rect x="311.33" y="266.7" width="3.7" height="2.3" rx="0.3" class="bx"/>
<line x1="311.73" y1="268" x2="314.63" y2="268" class="md"/>
<line x1="321.23" y1="305.1" x2="321.23" y2="304.1" class="wh"/>
<line x1="321.23" y1="312.3" x2="321.23" y2="314.6" class="wh"/>
<line x1="320.23" y1="304.1" x2="322.23" y2="304.1" class="cap"/>
<line x1="320.23" y1="314.6" x2="322.23" y2="314.6" class="cap"/>
<rect x="319.38" y="305.1" width="3.7" height="7.2" rx="0.3" class="bx"/>
<line x1="319.78" y1="308.5" x2="322.68" y2="308.5" class="md"/>
<line x1="328.29" y1="257" x2="330.29" y2="257" class="cap"/>
<line x1="328.29" y1="258.4" x2="330.29" y2="258.4" class="cap"/>
<rect x="327.44" y="257" width="3.7" height="1.4" rx="0.3" class="bx"/>
<line x1="327.84" y1="257.6" x2="330.74" y2="257.6" class="md"/>
<line x1="336.34" y1="295.2" x2="338.34" y2="295.2" class="cap"/>
<line x1="336.34" y1="299" x2="338.34" y2="299" class="cap"/>
<rect x="335.49" y="295.2" width="3.7" height="3.8" rx="0.3" class="bx"/>
<line x1="335.89" y1="297.1" x2="338.79" y2="297.1" class="md"/>
<line x1="345.4" y1="265.2" x2="345.4" y2="262.6" class="wh"/>
<line x1="345.4" y1="269.4" x2="345.4" y2="271.3" class="wh"/>
<line x1="344.4" y1="262.6" x2="346.4" y2="262.6" class="cap"/>
<line x1="344.4" y1="271.3" x2="346.4" y2="271.3" class="cap"/>
<rect x="343.55" y="265.2" width="3.7" height="4.2" rx="0.3" class="bx"/>
<line x1="343.95" y1="267.5" x2="346.85" y2="267.5" class="md"/>
<line x1="353.45" y1="302.2" x2="353.45" y2="300.9" class="wh"/>
<line x1="352.45" y1="300.9" x2="354.45" y2="300.9" class="cap"/>
<line x1="352.45" y1="306" x2="354.45" y2="306" class="cap"/>
<rect x="351.6" y="302.2" width="3.7" height="3.8" rx="0.3" class="bx"/>
<line x1="352" y1="304.5" x2="354.9" y2="304.5" class="md"/>
<line x1="361.5" y1="294.6" x2="361.5" y2="286" class="wh"/>
<line x1="360.5" y1="286" x2="362.5" y2="286" class="cap"/>
<line x1="360.5" y1="314.2" x2="362.5" y2="314.2" class="cap"/>
<rect x="359.65" y="294.6" width="3.7" height="19.6" rx="0.3" class="bx"/>
<line x1="360.05" y1="309.8" x2="362.95" y2="309.8" class="md"/>
<path d="M360.65 286L362.35 286L361.5 284Z" class="ol"/>
<path d="M360.65 319.3L362.35 319.3L361.5 317.3Z" class="ol"/>
<line x1="369.56" y1="276.2" x2="369.56" y2="275.3" class="wh"/>
<line x1="368.56" y1="275.3" x2="370.56" y2="275.3" class="cap"/>
<line x1="368.56" y1="278.5" x2="370.56" y2="278.5" class="cap"/>
<rect x="367.71" y="276.2" width="3.7" height="2.3" rx="0.3" class="bx"/>
<line x1="368.11" y1="277.5" x2="371.01" y2="277.5" class="md"/>
<line x1="375.96" y1="270.4" x2="379.26" y2="270.4" class="fd"/>
<line x1="385.67" y1="299" x2="385.67" y2="297.9" class="wh"/>
<line x1="384.67" y1="297.9" x2="386.67" y2="297.9" class="cap"/>
<line x1="384.67" y1="302.8" x2="386.67" y2="302.8" class="cap"/>
<rect x="383.82" y="299" width="3.7" height="3.8" rx="0.3" class="bx"/>
<line x1="384.22" y1="300.9" x2="387.12" y2="300.9" class="md"/>
<line x1="392.07" y1="270.4" x2="395.37" y2="270.4" class="fd"/>
<line x1="400.12" y1="266.8" x2="403.42" y2="266.8" class="fd"/>
</g>
<rect x="301.1" y="255.9" width="104.7" height="83.3" class="ax"/>
<line x1="305.13" y1="339.2" x2="305.13" y2="338" class="tk"/>
<line x1="305.13" y1="255.9" x2="305.13" y2="257.1" class="tk"/>
<line x1="313.18" y1="339.2" x2="313.18" y2="338" class="tk"/>
<line x1="313.18" y1="255.9" x2="313.18" y2="257.1" class="tk"/>
<line x1="321.23" y1="339.2" x2="321.23" y2="338" class="tk"/>
<line x1="321.23" y1="255.9" x2="321.23" y2="257.1" class="tk"/>
<line x1="329.29" y1="339.2" x2="329.29" y2="338" class="tk"/>
<line x1="329.29" y1="255.9" x2="329.29" y2="257.1" class="tk"/>
<line x1="337.34" y1="339.2" x2="337.34" y2="338" class="tk"/>
<line x1="337.34" y1="255.9" x2="337.34" y2="257.1" class="tk"/>
<line x1="345.4" y1="339.2" x2="345.4" y2="338" class="tk"/>
<line x1="345.4" y1="255.9" x2="345.4" y2="257.1" class="tk"/>
<line x1="353.45" y1="339.2" x2="353.45" y2="338" class="tk"/>
<line x1="353.45" y1="255.9" x2="353.45" y2="257.1" class="tk"/>
<line x1="361.5" y1="339.2" x2="361.5" y2="338" class="tk"/>
<line x1="361.5" y1="255.9" x2="361.5" y2="257.1" class="tk"/>
<line x1="369.56" y1="339.2" x2="369.56" y2="338" class="tk"/>
<line x1="369.56" y1="255.9" x2="369.56" y2="257.1" class="tk"/>
<line x1="377.61" y1="339.2" x2="377.61" y2="338" class="tk"/>
<line x1="377.61" y1="255.9" x2="377.61" y2="257.1" class="tk"/>
<line x1="385.67" y1="339.2" x2="385.67" y2="338" class="tk"/>
<line x1="385.67" y1="255.9" x2="385.67" y2="257.1" class="tk"/>
<line x1="393.72" y1="339.2" x2="393.72" y2="338" class="tk"/>
<line x1="393.72" y1="255.9" x2="393.72" y2="257.1" class="tk"/>
<line x1="401.77" y1="339.2" x2="401.77" y2="338" class="tk"/>
<line x1="401.77" y1="255.9" x2="401.77" y2="257.1" class="tk"/>
<line x1="301.1" y1="307.3" x2="302.3" y2="307.3" class="tk"/>
<line x1="405.8" y1="307.3" x2="404.6" y2="307.3" class="tk"/>
<text transform="translate(299.6,310.2)" font-size="6.35" text-anchor="end" class="tl">10<tspan font-size="4.8" dy="-3.0">6</tspan></text>
<line x1="301.1" y1="261.1" x2="301.9" y2="261.1" class="mt"/>
<line x1="405.8" y1="261.1" x2="405" y2="261.1" class="mt"/>
<line x1="301.1" y1="265.6" x2="301.9" y2="265.6" class="mt"/>
<line x1="405.8" y1="265.6" x2="405" y2="265.6" class="mt"/>
<line x1="301.1" y1="270" x2="301.9" y2="270" class="mt"/>
<line x1="405.8" y1="270" x2="405" y2="270" class="mt"/>
<line x1="301.1" y1="276.2" x2="301.9" y2="276.2" class="mt"/>
<line x1="405.8" y1="276.2" x2="405" y2="276.2" class="mt"/>
<line x1="301.1" y1="286" x2="301.9" y2="286" class="mt"/>
<line x1="405.8" y1="286" x2="405" y2="286" class="mt"/>
<line x1="301.1" y1="295.8" x2="301.9" y2="295.8" class="mt"/>
<line x1="405.8" y1="295.8" x2="405" y2="295.8" class="mt"/>
<line x1="301.1" y1="311.8" x2="301.9" y2="311.8" class="mt"/>
<line x1="405.8" y1="311.8" x2="405" y2="311.8" class="mt"/>
<line x1="301.1" y1="316.2" x2="301.9" y2="316.2" class="mt"/>
<line x1="405.8" y1="316.2" x2="405" y2="316.2" class="mt"/>
<line x1="301.1" y1="321.6" x2="301.9" y2="321.6" class="mt"/>
<line x1="405.8" y1="321.6" x2="405" y2="321.6" class="mt"/>
<line x1="301.1" y1="326.9" x2="301.9" y2="326.9" class="mt"/>
<line x1="405.8" y1="326.9" x2="405" y2="326.9" class="mt"/>
<line x1="301.1" y1="332.2" x2="301.9" y2="332.2" class="mt"/>
<line x1="405.8" y1="332.2" x2="405" y2="332.2" class="mt"/>
<text transform="translate(307.78,341) rotate(-90) scale(1,1.15)" font-size="6.35" text-anchor="end" class="tl">GAO</text>
<text transform="translate(315.83,341) rotate(-90) scale(1,1.15)" font-size="6.35" text-anchor="end" class="tl">WSO</text>
<text transform="translate(323.88,341) rotate(-90) scale(1,1.15)" font-size="6.35" text-anchor="end" class="tl">AVOA</text>
<text transform="translate(331.94,341) rotate(-90) scale(1,1.15)" font-size="6.35" text-anchor="end" class="tl">RSA</text>
<text transform="translate(339.99,341) rotate(-90) scale(1,1.15)" font-size="6.35" text-anchor="end" class="tl">MPA</text>
<text transform="translate(348.05,341) rotate(-90) scale(1,1.15)" font-size="6.35" text-anchor="end" class="tl">TSA</text>
<text transform="translate(356.1,341) rotate(-90) scale(1,1.15)" font-size="6.35" text-anchor="end" class="tl">WOA</text>
<text transform="translate(364.15,341) rotate(-90) scale(1,1.15)" font-size="6.35" text-anchor="end" class="tl">MVO</text>
<text transform="translate(372.21,341) rotate(-90) scale(1,1.15)" font-size="6.35" text-anchor="end" class="tl">GWO</text>
<text transform="translate(380.26,341) rotate(-90) scale(1,1.15)" font-size="6.35" text-anchor="end" class="tl">TLBO</text>
<text transform="translate(388.32,341) rotate(-90) scale(1,1.15)" font-size="6.35" text-anchor="end" class="tl">GSA</text>
<text transform="translate(396.37,341) rotate(-90) scale(1,1.15)" font-size="6.35" text-anchor="end" class="tl">PSO</text>
<text transform="translate(404.42,341) rotate(-90) scale(1,1.15)" font-size="6.35" text-anchor="end" class="tl">GA</text>
<text transform="translate(353.45,366.2)" font-size="7.1" text-anchor="middle">algorithm</text>
<text transform="translate(288.4,297.6) rotate(-90) scale(1,1.15)" font-size="7.02" text-anchor="middle">objective function</text>
<text transform="translate(353.45,253.9)" font-size="7.1" text-anchor="middle" font-weight="bold" class="tt">C11-F11</text>
<g>
<line x1="444.69" y1="316.8" x2="446.69" y2="316.8" class="cap"/>
<line x1="444.69" y1="318.7" x2="446.69" y2="318.7" class="cap"/>
<rect x="443.84" y="316.8" width="3.7" height="1.9" rx="0.3" class="bx"/>
<line x1="444.24" y1="317.8" x2="447.14" y2="317.8" class="md"/>
<line x1="452.68" y1="270.9" x2="454.68" y2="270.9" class="cap"/>
<line x1="452.68" y1="272.4" x2="454.68" y2="272.4" class="cap"/>
<rect x="451.83" y="270.9" width="3.7" height="1.5" rx="0.3" class="bx"/>
<line x1="452.23" y1="271.5" x2="455.13" y2="271.5" class="md"/>
<line x1="460.66" y1="293.7" x2="462.66" y2="293.7" class="cap"/>
<line x1="460.66" y1="294.5" x2="462.66" y2="294.5" class="cap"/>
<rect x="459.41" y="293.3" width="4.5" height="1.6" class="bxs"/>
<line x1="460.21" y1="294.1" x2="463.11" y2="294.1" class="md"/>
<line x1="468.65" y1="259.1" x2="470.65" y2="259.1" class="cap"/>
<line x1="468.65" y1="261.8" x2="470.65" y2="261.8" class="cap"/>
<rect x="467.8" y="259.1" width="3.7" height="2.7" rx="0.3" class="bx"/>
<line x1="468.2" y1="260.4" x2="471.1" y2="260.4" class="md"/>
<line x1="476.63" y1="315.5" x2="478.63" y2="315.5" class="cap"/>
<line x1="476.63" y1="318.4" x2="478.63" y2="318.4" class="cap"/>
<rect x="475.78" y="315.5" width="3.7" height="2.9" rx="0.3" class="bx"/>
<line x1="476.18" y1="316.8" x2="479.08" y2="316.8" class="md"/>
<line x1="484.62" y1="283.2" x2="486.62" y2="283.2" class="cap"/>
<line x1="484.62" y1="285.1" x2="486.62" y2="285.1" class="cap"/>
<rect x="483.77" y="283.2" width="3.7" height="1.9" rx="0.3" class="bx"/>
<line x1="484.17" y1="284.2" x2="487.07" y2="284.2" class="md"/>
<line x1="492.6" y1="279.4" x2="494.6" y2="279.4" class="cap"/>
<line x1="492.6" y1="281.7" x2="494.6" y2="281.7" class="cap"/>
<rect x="491.75" y="279.4" width="3.7" height="2.3" rx="0.3" class="bx"/>
<line x1="492.15" y1="280.8" x2="495.05" y2="280.8" class="md"/>
<line x1="501.58" y1="314.2" x2="501.58" y2="312.7" class="wh"/>
<line x1="501.58" y1="318" x2="501.58" y2="318.7" class="wh"/>
<line x1="500.58" y1="312.7" x2="502.58" y2="312.7" class="cap"/>
<line x1="500.58" y1="318.7" x2="502.58" y2="318.7" class="cap"/>
<rect x="499.73" y="314.2" width="3.7" height="3.8" rx="0.3" class="bx"/>
<line x1="500.13" y1="316.1" x2="503.03" y2="316.1" class="md"/>
<line x1="509.57" y1="312.7" x2="509.57" y2="311.7" class="wh"/>
<line x1="509.57" y1="316.5" x2="509.57" y2="317.4" class="wh"/>
<line x1="508.57" y1="311.7" x2="510.57" y2="311.7" class="cap"/>
<line x1="508.57" y1="317.4" x2="510.57" y2="317.4" class="cap"/>
<rect x="507.72" y="312.7" width="3.7" height="3.8" rx="0.3" class="bx"/>
<line x1="508.12" y1="314.6" x2="511.02" y2="314.6" class="md"/>
<line x1="516.55" y1="257.2" x2="518.55" y2="257.2" class="cap"/>
<line x1="516.55" y1="259.5" x2="518.55" y2="259.5" class="cap"/>
<rect x="515.7" y="257.2" width="3.7" height="2.3" rx="0.3" class="bx"/>
<line x1="516.1" y1="258.4" x2="519" y2="258.4" class="md"/>
<line x1="524.54" y1="279.4" x2="526.54" y2="279.4" class="cap"/>
<line x1="524.54" y1="281.7" x2="526.54" y2="281.7" class="cap"/>
<rect x="523.69" y="279.4" width="3.7" height="2.3" rx="0.3" class="bx"/>
<line x1="524.09" y1="280.8" x2="526.99" y2="280.8" class="md"/>
<line x1="533.52" y1="301.3" x2="533.52" y2="300.3" class="wh"/>
<line x1="532.52" y1="300.3" x2="534.52" y2="300.3" class="cap"/>
<line x1="532.52" y1="304.1" x2="534.52" y2="304.1" class="cap"/>
<rect x="531.67" y="301.3" width="3.7" height="2.8" rx="0.3" class="bx"/>
<line x1="532.07" y1="302.8" x2="534.97" y2="302.8" class="md"/>
<line x1="539.26" y1="258" x2="543.76" y2="258" class="fl"/>
</g>
<rect x="441.7" y="255.9" width="103.8" height="83.3" class="ax"/>
<line x1="445.69" y1="339.2" x2="445.69" y2="338" class="tk"/>
<line x1="445.69" y1="255.9" x2="445.69" y2="257.1" class="tk"/>
<line x1="453.68" y1="339.2" x2="453.68" y2="338" class="tk"/>
<line x1="453.68" y1="255.9" x2="453.68" y2="257.1" class="tk"/>
<line x1="461.66" y1="339.2" x2="461.66" y2="338" class="tk"/>
<line x1="461.66" y1="255.9" x2="461.66" y2="257.1" class="tk"/>
<line x1="469.65" y1="339.2" x2="469.65" y2="338" class="tk"/>
<line x1="469.65" y1="255.9" x2="469.65" y2="257.1" class="tk"/>
<line x1="477.63" y1="339.2" x2="477.63" y2="338" class="tk"/>
<line x1="477.63" y1="255.9" x2="477.63" y2="257.1" class="tk"/>
<line x1="485.62" y1="339.2" x2="485.62" y2="338" class="tk"/>
<line x1="485.62" y1="255.9" x2="485.62" y2="257.1" class="tk"/>
<line x1="493.6" y1="339.2" x2="493.6" y2="338" class="tk"/>
<line x1="493.6" y1="255.9" x2="493.6" y2="257.1" class="tk"/>
<line x1="501.58" y1="339.2" x2="501.58" y2="338" class="tk"/>
<line x1="501.58" y1="255.9" x2="501.58" y2="257.1" class="tk"/>
<line x1="509.57" y1="339.2" x2="509.57" y2="338" class="tk"/>
<line x1="509.57" y1="255.9" x2="509.57" y2="257.1" class="tk"/>
<line x1="517.55" y1="339.2" x2="517.55" y2="338" class="tk"/>
<line x1="517.55" y1="255.9" x2="517.55" y2="257.1" class="tk"/>
<line x1="525.54" y1="339.2" x2="525.54" y2="338" class="tk"/>
<line x1="525.54" y1="255.9" x2="525.54" y2="257.1" class="tk"/>
<line x1="533.52" y1="339.2" x2="533.52" y2="338" class="tk"/>
<line x1="533.52" y1="255.9" x2="533.52" y2="257.1" class="tk"/>
<line x1="541.51" y1="339.2" x2="541.51" y2="338" class="tk"/>
<line x1="541.51" y1="255.9" x2="541.51" y2="257.1" class="tk"/>
<line x1="441.7" y1="266.1" x2="442.9" y2="266.1" class="tk"/>
<line x1="545.5" y1="266.1" x2="544.3" y2="266.1" class="tk"/>
<text transform="translate(440.2,269)" font-size="6.35" text-anchor="end" class="tl">10<tspan font-size="4.8" dy="-3.0">7</tspan></text>
<line x1="441.7" y1="323.1" x2="442.9" y2="323.1" class="tk"/>
<line x1="545.5" y1="323.1" x2="544.3" y2="323.1" class="tk"/>
<text transform="translate(440.2,326)" font-size="6.35" text-anchor="end" class="tl">10<tspan font-size="4.8" dy="-3.0">6</tspan></text>
<line x1="441.7" y1="335.75" x2="442.5" y2="335.75" class="mt"/>
<line x1="545.5" y1="335.75" x2="544.7" y2="335.75" class="mt"/>
<line x1="441.7" y1="331.93" x2="442.5" y2="331.93" class="mt"/>
<line x1="545.5" y1="331.93" x2="544.7" y2="331.93" class="mt"/>
<line x1="441.7" y1="328.62" x2="442.5" y2="328.62" class="mt"/>
<line x1="545.5" y1="328.62" x2="544.7" y2="328.62" class="mt"/>
<line x1="441.7" y1="325.71" x2="442.5" y2="325.71" class="mt"/>
<line x1="545.5" y1="325.71" x2="544.7" y2="325.71" class="mt"/>
<line x1="441.7" y1="323.1" x2="442.5" y2="323.1" class="mt"/>
<line x1="545.5" y1="323.1" x2="544.7" y2="323.1" class="mt"/>
<line x1="441.7" y1="305.94" x2="442.5" y2="305.94" class="mt"/>
<line x1="545.5" y1="305.94" x2="544.7" y2="305.94" class="mt"/>
<line x1="441.7" y1="295.9" x2="442.5" y2="295.9" class="mt"/>
<line x1="545.5" y1="295.9" x2="544.7" y2="295.9" class="mt"/>
<line x1="441.7" y1="288.78" x2="442.5" y2="288.78" class="mt"/>
<line x1="545.5" y1="288.78" x2="544.7" y2="288.78" class="mt"/>
<line x1="441.7" y1="283.26" x2="442.5" y2="283.26" class="mt"/>
<line x1="545.5" y1="283.26" x2="544.7" y2="283.26" class="mt"/>
<line x1="441.7" y1="278.75" x2="442.5" y2="278.75" class="mt"/>
<line x1="545.5" y1="278.75" x2="544.7" y2="278.75" class="mt"/>
<line x1="441.7" y1="274.93" x2="442.5" y2="274.93" class="mt"/>
<line x1="545.5" y1="274.93" x2="544.7" y2="274.93" class="mt"/>
<line x1="441.7" y1="271.62" x2="442.5" y2="271.62" class="mt"/>
<line x1="545.5" y1="271.62" x2="544.7" y2="271.62" class="mt"/>
<line x1="441.7" y1="268.71" x2="442.5" y2="268.71" class="mt"/>
<line x1="545.5" y1="268.71" x2="544.7" y2="268.71" class="mt"/>
<line x1="441.7" y1="266.1" x2="442.5" y2="266.1" class="mt"/>
<line x1="545.5" y1="266.1" x2="544.7" y2="266.1" class="mt"/>
<text transform="translate(448.34,341) rotate(-90) scale(1,1.15)" font-size="6.35" text-anchor="end" class="tl">GAO</text>
<text transform="translate(456.33,341) rotate(-90) scale(1,1.15)" font-size="6.35" text-anchor="end" class="tl">WSO</text>
<text transform="translate(464.31,341) rotate(-90) scale(1,1.15)" font-size="6.35" text-anchor="end" class="tl">AVOA</text>
<text transform="translate(472.3,341) rotate(-90) scale(1,1.15)" font-size="6.35" text-anchor="end" class="tl">RSA</text>
<text transform="translate(480.28,341) rotate(-90) scale(1,1.15)" font-size="6.35" text-anchor="end" class="tl">MPA</text>
<text transform="translate(488.27,341) rotate(-90) scale(1,1.15)" font-size="6.35" text-anchor="end" class="tl">TSA</text>
<text transform="translate(496.25,341) rotate(-90) scale(1,1.15)" font-size="6.35" text-anchor="end" class="tl">WOA</text>
<text transform="translate(504.23,341) rotate(-90) scale(1,1.15)" font-size="6.35" text-anchor="end" class="tl">MVO</text>
<text transform="translate(512.22,341) rotate(-90) scale(1,1.15)" font-size="6.35" text-anchor="end" class="tl">GWO</text>
<text transform="translate(520.2,341) rotate(-90) scale(1,1.15)" font-size="6.35" text-anchor="end" class="tl">TLBO</text>
<text transform="translate(528.19,341) rotate(-90) scale(1,1.15)" font-size="6.35" text-anchor="end" class="tl">GSA</text>
<text transform="translate(536.17,341) rotate(-90) scale(1,1.15)" font-size="6.35" text-anchor="end" class="tl">PSO</text>
<text transform="translate(544.16,341) rotate(-90) scale(1,1.15)" font-size="6.35" text-anchor="end" class="tl">GA</text>
<text transform="translate(493.6,366.2)" font-size="7.1" text-anchor="middle">algorithm</text>
<text transform="translate(428.4,297.25) rotate(-90) scale(1,1.15)" font-size="6.93" text-anchor="middle">objective function</text>
<text transform="translate(493.6,253.9)" font-size="7.1" text-anchor="middle" font-weight="bold" class="tt">C11-F12</text>
<g>
<line x1="22.87" y1="461.2" x2="27.37" y2="461.2" class="fl"/>
<line x1="32.15" y1="459" x2="34.15" y2="459" class="cap"/>
<line x1="32.15" y1="460.9" x2="34.15" y2="460.9" class="cap"/>
<rect x="31.3" y="459" width="3.7" height="1.9" rx="0.3" class="bx"/>
<line x1="31.7" y1="460.3" x2="34.6" y2="460.3" class="md"/>
<line x1="38.93" y1="461.2" x2="43.43" y2="461.2" class="fl"/>
<line x1="49.21" y1="458.4" x2="49.21" y2="457.8" class="wh"/>
<line x1="48.21" y1="457.8" x2="50.21" y2="457.8" class="cap"/>
<line x1="48.21" y1="460.9" x2="50.21" y2="460.9" class="cap"/>
<rect x="47.36" y="458.4" width="3.7" height="2.5" rx="0.3" class="bx"/>
<line x1="47.76" y1="460.3" x2="50.66" y2="460.3" class="md"/>
<line x1="54.99" y1="461.2" x2="59.49" y2="461.2" class="fl"/>
<line x1="63.02" y1="461.2" x2="67.52" y2="461.2" class="fl"/>
<line x1="71.05" y1="461.2" x2="75.55" y2="461.2" class="fl"/>
<line x1="79.08" y1="461.2" x2="83.58" y2="461.2" class="fl"/>
<line x1="87.11" y1="461.2" x2="91.61" y2="461.2" class="fl"/>
<line x1="96.39" y1="459.4" x2="98.39" y2="459.4" class="cap"/>
<line x1="96.39" y1="460.9" x2="98.39" y2="460.9" class="cap"/>
<rect x="95.54" y="459.4" width="3.7" height="1.5" rx="0.3" class="bx"/>
<line x1="95.94" y1="460.3" x2="98.84" y2="460.3" class="md"/>
<line x1="105.42" y1="383.4" x2="105.42" y2="379.6" class="wh"/>
<line x1="105.42" y1="399.5" x2="105.42" y2="401.4" class="wh"/>
<line x1="104.42" y1="379.6" x2="106.42" y2="379.6" class="cap"/>
<line x1="104.42" y1="401.4" x2="106.42" y2="401.4" class="cap"/>
<rect x="103.57" y="383.4" width="3.7" height="16.1" rx="0.3" class="bx"/>
<line x1="103.97" y1="391.9" x2="106.87" y2="391.9" class="md"/>
<line x1="111.2" y1="461.2" x2="115.7" y2="461.2" class="fl"/>
<line x1="121.48" y1="427.1" x2="121.48" y2="409.6" class="wh"/>
<line x1="120.48" y1="409.6" x2="122.48" y2="409.6" class="cap"/>
<line x1="120.48" y1="460.9" x2="122.48" y2="460.9" class="cap"/>
<rect x="119.63" y="427.1" width="3.7" height="33.8" rx="0.3" class="bx"/>
<line x1="120.03" y1="460.9" x2="122.93" y2="460.9" class="md"/>
</g>
<rect x="21.1" y="377.9" width="104.4" height="83.4" class="ax"/>
<line x1="25.12" y1="461.3" x2="25.12" y2="460.1" class="tk"/>
<line x1="25.12" y1="377.9" x2="25.12" y2="379.1" class="tk"/>
<line x1="33.15" y1="461.3" x2="33.15" y2="460.1" class="tk"/>
<line x1="33.15" y1="377.9" x2="33.15" y2="379.1" class="tk"/>
<line x1="41.18" y1="461.3" x2="41.18" y2="460.1" class="tk"/>
<line x1="41.18" y1="377.9" x2="41.18" y2="379.1" class="tk"/>
<line x1="49.21" y1="461.3" x2="49.21" y2="460.1" class="tk"/>
<line x1="49.21" y1="377.9" x2="49.21" y2="379.1" class="tk"/>
<line x1="57.24" y1="461.3" x2="57.24" y2="460.1" class="tk"/>
<line x1="57.24" y1="377.9" x2="57.24" y2="379.1" class="tk"/>
<line x1="65.27" y1="461.3" x2="65.27" y2="460.1" class="tk"/>
<line x1="65.27" y1="377.9" x2="65.27" y2="379.1" class="tk"/>
<line x1="73.3" y1="461.3" x2="73.3" y2="460.1" class="tk"/>
<line x1="73.3" y1="377.9" x2="73.3" y2="379.1" class="tk"/>
<line x1="81.33" y1="461.3" x2="81.33" y2="460.1" class="tk"/>
<line x1="81.33" y1="377.9" x2="81.33" y2="379.1" class="tk"/>
<line x1="89.36" y1="461.3" x2="89.36" y2="460.1" class="tk"/>
<line x1="89.36" y1="377.9" x2="89.36" y2="379.1" class="tk"/>
<line x1="97.39" y1="461.3" x2="97.39" y2="460.1" class="tk"/>
<line x1="97.39" y1="377.9" x2="97.39" y2="379.1" class="tk"/>
<line x1="105.42" y1="461.3" x2="105.42" y2="460.1" class="tk"/>
<line x1="105.42" y1="377.9" x2="105.42" y2="379.1" class="tk"/>
<line x1="113.45" y1="461.3" x2="113.45" y2="460.1" class="tk"/>
<line x1="113.45" y1="377.9" x2="113.45" y2="379.1" class="tk"/>
<line x1="121.48" y1="461.3" x2="121.48" y2="460.1" class="tk"/>
<line x1="121.48" y1="377.9" x2="121.48" y2="379.1" class="tk"/>
<line x1="21.1" y1="396.3" x2="22.3" y2="396.3" class="tk"/>
<line x1="125.5" y1="396.3" x2="124.3" y2="396.3" class="tk"/>
<text transform="translate(19.6,399.2)" font-size="6.35" text-anchor="end" class="tl">10<tspan font-size="4.8" dy="-3.0">5</tspan></text>
<line x1="21.1" y1="384.3" x2="21.9" y2="384.3" class="mt"/>
<line x1="125.5" y1="384.3" x2="124.7" y2="384.3" class="mt"/>
<line x1="21.1" y1="408.3" x2="21.9" y2="408.3" class="mt"/>
<line x1="125.5" y1="408.3" x2="124.7" y2="408.3" class="mt"/>
<line x1="21.1" y1="420.3" x2="21.9" y2="420.3" class="mt"/>
<line x1="125.5" y1="420.3" x2="124.7" y2="420.3" class="mt"/>
<line x1="21.1" y1="432.3" x2="21.9" y2="432.3" class="mt"/>
<line x1="125.5" y1="432.3" x2="124.7" y2="432.3" class="mt"/>
<line x1="21.1" y1="444.3" x2="21.9" y2="444.3" class="mt"/>
<line x1="125.5" y1="444.3" x2="124.7" y2="444.3" class="mt"/>
<line x1="21.1" y1="454.3" x2="21.9" y2="454.3" class="mt"/>
<line x1="125.5" y1="454.3" x2="124.7" y2="454.3" class="mt"/>
<text transform="translate(27.77,463.1) rotate(-90) scale(1,1.15)" font-size="6.35" text-anchor="end" class="tl">GAO</text>
<text transform="translate(35.8,463.1) rotate(-90) scale(1,1.15)" font-size="6.35" text-anchor="end" class="tl">WSO</text>
<text transform="translate(43.83,463.1) rotate(-90) scale(1,1.15)" font-size="6.35" text-anchor="end" class="tl">AVOA</text>
<text transform="translate(51.86,463.1) rotate(-90) scale(1,1.15)" font-size="6.35" text-anchor="end" class="tl">RSA</text>
<text transform="translate(59.89,463.1) rotate(-90) scale(1,1.15)" font-size="6.35" text-anchor="end" class="tl">MPA</text>
<text transform="translate(67.92,463.1) rotate(-90) scale(1,1.15)" font-size="6.35" text-anchor="end" class="tl">TSA</text>
<text transform="translate(75.95,463.1) rotate(-90) scale(1,1.15)" font-size="6.35" text-anchor="end" class="tl">WOA</text>
<text transform="translate(83.98,463.1) rotate(-90) scale(1,1.15)" font-size="6.35" text-anchor="end" class="tl">MVO</text>
<text transform="translate(92.01,463.1) rotate(-90) scale(1,1.15)" font-size="6.35" text-anchor="end" class="tl">GWO</text>
<text transform="translate(100.04,463.1) rotate(-90) scale(1,1.15)" font-size="6.35" text-anchor="end" class="tl">TLBO</text>
<text transform="translate(108.07,463.1) rotate(-90) scale(1,1.15)" font-size="6.35" text-anchor="end" class="tl">GSA</text>
<text transform="translate(116.1,463.1) rotate(-90) scale(1,1.15)" font-size="6.35" text-anchor="end" class="tl">PSO</text>
<text transform="translate(124.13,463.1) rotate(-90) scale(1,1.15)" font-size="6.35" text-anchor="end" class="tl">GA</text>
<text transform="translate(73.3,488.3)" font-size="7.1" text-anchor="middle">algorithm</text>
<text transform="translate(8.5,419.6) rotate(-90) scale(1,1.15)" font-size="7.02" text-anchor="middle">objective function</text>
<text transform="translate(73.3,375.9)" font-size="7.1" text-anchor="middle" font-weight="bold" class="tt">C11-F13</text>
<g>
<line x1="162.57" y1="461.2" x2="167.07" y2="461.2" class="fl"/>
<line x1="172.87" y1="416.6" x2="172.87" y2="412.8" class="wh"/>
<line x1="172.87" y1="426.1" x2="172.87" y2="427.1" class="wh"/>
<line x1="171.87" y1="412.8" x2="173.87" y2="412.8" class="cap"/>
<line x1="171.87" y1="427.1" x2="173.87" y2="427.1" class="cap"/>
<rect x="171.02" y="416.6" width="3.7" height="9.5" rx="0.3" class="bx"/>
<line x1="171.42" y1="422.9" x2="174.32" y2="422.9" class="md"/>
<line x1="178.67" y1="461.2" x2="183.17" y2="461.2" class="fl"/>
<line x1="188.96" y1="399.5" x2="188.96" y2="395.7" class="wh"/>
<line x1="188.96" y1="410" x2="188.96" y2="411.3" class="wh"/>
<line x1="187.96" y1="395.7" x2="189.96" y2="395.7" class="cap"/>
<line x1="187.96" y1="411.3" x2="189.96" y2="411.3" class="cap"/>
<rect x="187.11" y="399.5" width="3.7" height="10.5" rx="0.3" class="bx"/>
<line x1="187.51" y1="406.2" x2="190.41" y2="406.2" class="md"/>
<line x1="194.76" y1="461.2" x2="199.26" y2="461.2" class="fl"/>
<line x1="204.05" y1="459.2" x2="206.05" y2="459.2" class="cap"/>
<line x1="204.05" y1="460.9" x2="206.05" y2="460.9" class="cap"/>
<rect x="203.2" y="459.2" width="3.7" height="1.7" rx="0.3" class="bx"/>
<line x1="203.6" y1="460" x2="206.5" y2="460" class="md"/>
<line x1="212.1" y1="459.8" x2="214.1" y2="459.8" class="cap"/>
<line x1="212.1" y1="460.9" x2="214.1" y2="460.9" class="cap"/>
<rect x="210.85" y="459.55" width="4.5" height="1.6" class="bxs"/>
<line x1="211.65" y1="460.3" x2="214.55" y2="460.3" class="md"/>
<line x1="220.15" y1="459.8" x2="222.15" y2="459.8" class="cap"/>
<line x1="220.15" y1="460.9" x2="222.15" y2="460.9" class="cap"/>
<rect x="218.9" y="459.55" width="4.5" height="1.6" class="bxs"/>
<line x1="219.7" y1="460.3" x2="222.6" y2="460.3" class="md"/>
<line x1="228.19" y1="459.8" x2="230.19" y2="459.8" class="cap"/>
<line x1="228.19" y1="460.9" x2="230.19" y2="460.9" class="cap"/>
<rect x="226.94" y="459.55" width="4.5" height="1.6" class="bxs"/>
<line x1="227.74" y1="460.3" x2="230.64" y2="460.3" class="md"/>
<line x1="237.24" y1="384.3" x2="237.24" y2="381.5" class="wh"/>
<line x1="237.24" y1="428.6" x2="237.24" y2="447.5" class="wh"/>
<line x1="236.24" y1="381.5" x2="238.24" y2="381.5" class="cap"/>
<line x1="236.24" y1="447.5" x2="238.24" y2="447.5" class="cap"/>
<rect x="235.39" y="384.3" width="3.7" height="44.3" rx="0.3" class="bx"/>
<line x1="235.79" y1="397.3" x2="238.69" y2="397.3" class="md"/>
<path d="M236.39 450.8L238.09 450.8L237.24 448.8Z" class="ol"/>
<line x1="244.28" y1="459.8" x2="246.28" y2="459.8" class="cap"/>
<line x1="244.28" y1="460.9" x2="246.28" y2="460.9" class="cap"/>
<rect x="243.03" y="459.55" width="4.5" height="1.6" class="bxs"/>
<line x1="243.83" y1="460.3" x2="246.73" y2="460.3" class="md"/>
<line x1="252.33" y1="459.8" x2="254.33" y2="459.8" class="cap"/>
<line x1="252.33" y1="460.9" x2="254.33" y2="460.9" class="cap"/>
<rect x="251.08" y="459.55" width="4.5" height="1.6" class="bxs"/>
<line x1="251.88" y1="460.3" x2="254.78" y2="460.3" class="md"/>
<line x1="260.38" y1="459.8" x2="262.38" y2="459.8" class="cap"/>
<line x1="260.38" y1="460.9" x2="262.38" y2="460.9" class="cap"/>
<rect x="259.13" y="459.55" width="4.5" height="1.6" class="bxs"/>
<line x1="259.93" y1="460.3" x2="262.83" y2="460.3" class="md"/>
</g>
<rect x="160.8" y="377.9" width="104.6" height="83.4" class="ax"/>
<line x1="164.82" y1="461.3" x2="164.82" y2="460.1" class="tk"/>
<line x1="164.82" y1="377.9" x2="164.82" y2="379.1" class="tk"/>
<line x1="172.87" y1="461.3" x2="172.87" y2="460.1" class="tk"/>
<line x1="172.87" y1="377.9" x2="172.87" y2="379.1" class="tk"/>
<line x1="180.92" y1="461.3" x2="180.92" y2="460.1" class="tk"/>
<line x1="180.92" y1="377.9" x2="180.92" y2="379.1" class="tk"/>
<line x1="188.96" y1="461.3" x2="188.96" y2="460.1" class="tk"/>
<line x1="188.96" y1="377.9" x2="188.96" y2="379.1" class="tk"/>
<line x1="197.01" y1="461.3" x2="197.01" y2="460.1" class="tk"/>
<line x1="197.01" y1="377.9" x2="197.01" y2="379.1" class="tk"/>
<line x1="205.05" y1="461.3" x2="205.05" y2="460.1" class="tk"/>
<line x1="205.05" y1="377.9" x2="205.05" y2="379.1" class="tk"/>
<line x1="213.1" y1="461.3" x2="213.1" y2="460.1" class="tk"/>
<line x1="213.1" y1="377.9" x2="213.1" y2="379.1" class="tk"/>
<line x1="221.15" y1="461.3" x2="221.15" y2="460.1" class="tk"/>
<line x1="221.15" y1="377.9" x2="221.15" y2="379.1" class="tk"/>
<line x1="229.19" y1="461.3" x2="229.19" y2="460.1" class="tk"/>
<line x1="229.19" y1="377.9" x2="229.19" y2="379.1" class="tk"/>
<line x1="237.24" y1="461.3" x2="237.24" y2="460.1" class="tk"/>
<line x1="237.24" y1="377.9" x2="237.24" y2="379.1" class="tk"/>
<line x1="245.28" y1="461.3" x2="245.28" y2="460.1" class="tk"/>
<line x1="245.28" y1="377.9" x2="245.28" y2="379.1" class="tk"/>
<line x1="253.33" y1="461.3" x2="253.33" y2="460.1" class="tk"/>
<line x1="253.33" y1="377.9" x2="253.33" y2="379.1" class="tk"/>
<line x1="261.38" y1="461.3" x2="261.38" y2="460.1" class="tk"/>
<line x1="261.38" y1="377.9" x2="261.38" y2="379.1" class="tk"/>
<line x1="160.8" y1="422.3" x2="162" y2="422.3" class="tk"/>
<line x1="265.4" y1="422.3" x2="264.2" y2="422.3" class="tk"/>
<text transform="translate(159.3,425.2)" font-size="6.35" text-anchor="end" class="tl">10<tspan font-size="4.8" dy="-3.0">5</tspan></text>
<line x1="160.8" y1="386.3" x2="161.6" y2="386.3" class="mt"/>
<line x1="265.4" y1="386.3" x2="264.6" y2="386.3" class="mt"/>
<line x1="160.8" y1="398.3" x2="161.6" y2="398.3" class="mt"/>
<line x1="265.4" y1="398.3" x2="264.6" y2="398.3" class="mt"/>
<line x1="160.8" y1="410.3" x2="161.6" y2="410.3" class="mt"/>
<line x1="265.4" y1="410.3" x2="264.6" y2="410.3" class="mt"/>
<line x1="160.8" y1="434.3" x2="161.6" y2="434.3" class="mt"/>
<line x1="265.4" y1="434.3" x2="264.6" y2="434.3" class="mt"/>
<line x1="160.8" y1="446.3" x2="161.6" y2="446.3" class="mt"/>
<line x1="265.4" y1="446.3" x2="264.6" y2="446.3" class="mt"/>
<line x1="160.8" y1="458.3" x2="161.6" y2="458.3" class="mt"/>
<line x1="265.4" y1="458.3" x2="264.6" y2="458.3" class="mt"/>
<text transform="translate(167.47,463.1) rotate(-90) scale(1,1.15)" font-size="6.35" text-anchor="end" class="tl">GAO</text>
<text transform="translate(175.52,463.1) rotate(-90) scale(1,1.15)" font-size="6.35" text-anchor="end" class="tl">WSO</text>
<text transform="translate(183.57,463.1) rotate(-90) scale(1,1.15)" font-size="6.35" text-anchor="end" class="tl">AVOA</text>
<text transform="translate(191.61,463.1) rotate(-90) scale(1,1.15)" font-size="6.35" text-anchor="end" class="tl">RSA</text>
<text transform="translate(199.66,463.1) rotate(-90) scale(1,1.15)" font-size="6.35" text-anchor="end" class="tl">MPA</text>
<text transform="translate(207.7,463.1) rotate(-90) scale(1,1.15)" font-size="6.35" text-anchor="end" class="tl">TSA</text>
<text transform="translate(215.75,463.1) rotate(-90) scale(1,1.15)" font-size="6.35" text-anchor="end" class="tl">WOA</text>
<text transform="translate(223.8,463.1) rotate(-90) scale(1,1.15)" font-size="6.35" text-anchor="end" class="tl">MVO</text>
<text transform="translate(231.84,463.1) rotate(-90) scale(1,1.15)" font-size="6.35" text-anchor="end" class="tl">GWO</text>
<text transform="translate(239.89,463.1) rotate(-90) scale(1,1.15)" font-size="6.35" text-anchor="end" class="tl">TLBO</text>
<text transform="translate(247.93,463.1) rotate(-90) scale(1,1.15)" font-size="6.35" text-anchor="end" class="tl">GSA</text>
<text transform="translate(255.98,463.1) rotate(-90) scale(1,1.15)" font-size="6.35" text-anchor="end" class="tl">PSO</text>
<text transform="translate(264.03,463.1) rotate(-90) scale(1,1.15)" font-size="6.35" text-anchor="end" class="tl">GA</text>
<text transform="translate(213.1,488.3)" font-size="7.1" text-anchor="middle">algorithm</text>
<text transform="translate(148.4,419.6) rotate(-90) scale(1,1.15)" font-size="7.02" text-anchor="middle">objective function</text>
<text transform="translate(213.1,375.9)" font-size="7.1" text-anchor="middle" font-weight="bold" class="tt">C11-F14</text>
<g>
<line x1="303.26" y1="461.2" x2="307.76" y2="461.2" class="fl"/>
<line x1="313.53" y1="431.8" x2="313.53" y2="432.4" class="wh"/>
<line x1="312.53" y1="415.7" x2="314.53" y2="415.7" class="cap"/>
<line x1="312.53" y1="432.4" x2="314.53" y2="432.4" class="cap"/>
<rect x="311.68" y="415.7" width="3.7" height="16.1" rx="0.3" class="bx"/>
<line x1="312.08" y1="428.6" x2="314.98" y2="428.6" class="md"/>
<path d="M312.68 410.5L314.38 410.5L313.53 408.5Z" class="ol"/>
<line x1="320.56" y1="441.3" x2="322.56" y2="441.3" class="cap"/>
<line x1="320.56" y1="458.4" x2="322.56" y2="458.4" class="cap"/>
<rect x="319.71" y="441.3" width="3.7" height="17.1" rx="0.3" class="bx"/>
<line x1="320.11" y1="448" x2="323.01" y2="448" class="md"/>
<line x1="328.58" y1="406.2" x2="330.58" y2="406.2" class="cap"/>
<line x1="328.58" y1="423.3" x2="330.58" y2="423.3" class="cap"/>
<rect x="327.73" y="406.2" width="3.7" height="17.1" rx="0.3" class="bx"/>
<line x1="328.13" y1="421.4" x2="331.03" y2="421.4" class="md"/>
<path d="M328.73 401.8L330.43 401.8L329.58 399.8Z" class="ol"/>
<line x1="335.35" y1="461.2" x2="339.85" y2="461.2" class="fl"/>
<line x1="344.63" y1="451.4" x2="346.63" y2="451.4" class="cap"/>
<line x1="344.63" y1="460.9" x2="346.63" y2="460.9" class="cap"/>
<rect x="343.78" y="451.4" width="3.7" height="9.5" rx="0.3" class="bx"/>
<line x1="344.18" y1="460.9" x2="347.08" y2="460.9" class="md"/>
<path d="M344.78 447.5L346.48 447.5L345.63 445.5Z" class="ol"/>
<line x1="353.65" y1="444.2" x2="353.65" y2="460.9" class="wh"/>
<line x1="352.65" y1="434.7" x2="354.65" y2="434.7" class="cap"/>
<line x1="352.65" y1="460.9" x2="354.65" y2="460.9" class="cap"/>
<rect x="351.8" y="434.7" width="3.7" height="9.5" rx="0.3" class="bx"/>
<line x1="352.2" y1="436.6" x2="355.1" y2="436.6" class="md"/>
<line x1="359.42" y1="461.2" x2="363.92" y2="461.2" class="fl"/>
<line x1="367.45" y1="461.2" x2="371.95" y2="461.2" class="fl"/>
<line x1="377.72" y1="392.9" x2="377.72" y2="403.5" class="wh"/>
<line x1="376.72" y1="381.1" x2="378.72" y2="381.1" class="cap"/>
<line x1="376.72" y1="403.5" x2="378.72" y2="403.5" class="cap"/>
<rect x="375.87" y="381.1" width="3.7" height="11.8" rx="0.3" class="bx"/>
<line x1="376.27" y1="384.3" x2="379.17" y2="384.3" class="md"/>
<path d="M376.87 406.7L378.57 406.7L377.72 404.7Z" class="ol"/>
<line x1="384.74" y1="434.3" x2="386.74" y2="434.3" class="cap"/>
<line x1="384.74" y1="436.2" x2="386.74" y2="436.2" class="cap"/>
<rect x="383.89" y="434.3" width="3.7" height="1.9" rx="0.3" class="bx"/>
<line x1="384.29" y1="435.2" x2="387.19" y2="435.2" class="md"/>
<line x1="391.52" y1="461.2" x2="396.02" y2="461.2" class="fl"/>
<line x1="401.79" y1="389.5" x2="401.79" y2="387.2" class="wh"/>
<line x1="401.79" y1="402.4" x2="401.79" y2="404.3" class="wh"/>
<line x1="400.79" y1="387.2" x2="402.79" y2="387.2" class="cap"/>
<line x1="400.79" y1="404.3" x2="402.79" y2="404.3" class="cap"/>
<rect x="399.94" y="389.5" width="3.7" height="12.9" rx="0.3" class="bx"/>
<line x1="400.34" y1="395.2" x2="403.24" y2="395.2" class="md"/>
</g>
<rect x="301.5" y="377.9" width="104.3" height="83.4" class="ax"/>
<line x1="305.51" y1="461.3" x2="305.51" y2="460.1" class="tk"/>
<line x1="305.51" y1="377.9" x2="305.51" y2="379.1" class="tk"/>
<line x1="313.53" y1="461.3" x2="313.53" y2="460.1" class="tk"/>
<line x1="313.53" y1="377.9" x2="313.53" y2="379.1" class="tk"/>
<line x1="321.56" y1="461.3" x2="321.56" y2="460.1" class="tk"/>
<line x1="321.56" y1="377.9" x2="321.56" y2="379.1" class="tk"/>
<line x1="329.58" y1="461.3" x2="329.58" y2="460.1" class="tk"/>
<line x1="329.58" y1="377.9" x2="329.58" y2="379.1" class="tk"/>
<line x1="337.6" y1="461.3" x2="337.6" y2="460.1" class="tk"/>
<line x1="337.6" y1="377.9" x2="337.6" y2="379.1" class="tk"/>
<line x1="345.63" y1="461.3" x2="345.63" y2="460.1" class="tk"/>
<line x1="345.63" y1="377.9" x2="345.63" y2="379.1" class="tk"/>
<line x1="353.65" y1="461.3" x2="353.65" y2="460.1" class="tk"/>
<line x1="353.65" y1="377.9" x2="353.65" y2="379.1" class="tk"/>
<line x1="361.67" y1="461.3" x2="361.67" y2="460.1" class="tk"/>
<line x1="361.67" y1="377.9" x2="361.67" y2="379.1" class="tk"/>
<line x1="369.7" y1="461.3" x2="369.7" y2="460.1" class="tk"/>
<line x1="369.7" y1="377.9" x2="369.7" y2="379.1" class="tk"/>
<line x1="377.72" y1="461.3" x2="377.72" y2="460.1" class="tk"/>
<line x1="377.72" y1="377.9" x2="377.72" y2="379.1" class="tk"/>
<line x1="385.74" y1="461.3" x2="385.74" y2="460.1" class="tk"/>
<line x1="385.74" y1="377.9" x2="385.74" y2="379.1" class="tk"/>
<line x1="393.77" y1="461.3" x2="393.77" y2="460.1" class="tk"/>
<line x1="393.77" y1="377.9" x2="393.77" y2="379.1" class="tk"/>
<line x1="401.79" y1="461.3" x2="401.79" y2="460.1" class="tk"/>
<line x1="401.79" y1="377.9" x2="401.79" y2="379.1" class="tk"/>
<line x1="301.5" y1="391" x2="302.7" y2="391" class="tk"/>
<line x1="405.8" y1="391" x2="404.6" y2="391" class="tk"/>
<text transform="translate(300,393.9)" font-size="6.35" text-anchor="end" class="tl">10<tspan font-size="4.8" dy="-3.0">7</tspan></text>
<line x1="301.5" y1="419.4" x2="302.7" y2="419.4" class="tk"/>
<line x1="405.8" y1="419.4" x2="404.6" y2="419.4" class="tk"/>
<text transform="translate(300,422.3)" font-size="6.35" text-anchor="end" class="tl">10<tspan font-size="4.8" dy="-3.0">6</tspan></text>
<line x1="301.5" y1="447.8" x2="302.7" y2="447.8" class="tk"/>
<line x1="405.8" y1="447.8" x2="404.6" y2="447.8" class="tk"/>
<text transform="translate(300,450.7)" font-size="6.35" text-anchor="end" class="tl">10<tspan font-size="4.8" dy="-3.0">5</tspan></text>
<line x1="301.5" y1="459.1" x2="302.3" y2="459.1" class="mt"/>
<line x1="405.8" y1="459.1" x2="405" y2="459.1" class="mt"/>
<line x1="301.5" y1="456.35" x2="302.3" y2="456.35" class="mt"/>
<line x1="405.8" y1="456.35" x2="405" y2="456.35" class="mt"/>
<line x1="301.5" y1="454.1" x2="302.3" y2="454.1" class="mt"/>
<line x1="405.8" y1="454.1" x2="405" y2="454.1" class="mt"/>
<line x1="301.5" y1="452.2" x2="302.3" y2="452.2" class="mt"/>
<line x1="405.8" y1="452.2" x2="405" y2="452.2" class="mt"/>
<line x1="301.5" y1="450.55" x2="302.3" y2="450.55" class="mt"/>
<line x1="405.8" y1="450.55" x2="405" y2="450.55" class="mt"/>
<line x1="301.5" y1="449.1" x2="302.3" y2="449.1" class="mt"/>
<line x1="405.8" y1="449.1" x2="405" y2="449.1" class="mt"/>
<line x1="301.5" y1="447.8" x2="302.3" y2="447.8" class="mt"/>
<line x1="405.8" y1="447.8" x2="405" y2="447.8" class="mt"/>
<line x1="301.5" y1="439.25" x2="302.3" y2="439.25" class="mt"/>
<line x1="405.8" y1="439.25" x2="405" y2="439.25" class="mt"/>
<line x1="301.5" y1="434.25" x2="302.3" y2="434.25" class="mt"/>
<line x1="405.8" y1="434.25" x2="405" y2="434.25" class="mt"/>
<line x1="301.5" y1="430.7" x2="302.3" y2="430.7" class="mt"/>
<line x1="405.8" y1="430.7" x2="405" y2="430.7" class="mt"/>
<line x1="301.5" y1="427.95" x2="302.3" y2="427.95" class="mt"/>
<line x1="405.8" y1="427.95" x2="405" y2="427.95" class="mt"/>
<line x1="301.5" y1="425.7" x2="302.3" y2="425.7" class="mt"/>
<line x1="405.8" y1="425.7" x2="405" y2="425.7" class="mt"/>
<line x1="301.5" y1="423.8" x2="302.3" y2="423.8" class="mt"/>
<line x1="405.8" y1="423.8" x2="405" y2="423.8" class="mt"/>
<line x1="301.5" y1="422.15" x2="302.3" y2="422.15" class="mt"/>
<line x1="405.8" y1="422.15" x2="405" y2="422.15" class="mt"/>
<line x1="301.5" y1="420.7" x2="302.3" y2="420.7" class="mt"/>
<line x1="405.8" y1="420.7" x2="405" y2="420.7" class="mt"/>
<line x1="301.5" y1="419.4" x2="302.3" y2="419.4" class="mt"/>
<line x1="405.8" y1="419.4" x2="405" y2="419.4" class="mt"/>
<line x1="301.5" y1="410.85" x2="302.3" y2="410.85" class="mt"/>
<line x1="405.8" y1="410.85" x2="405" y2="410.85" class="mt"/>
<line x1="301.5" y1="405.85" x2="302.3" y2="405.85" class="mt"/>
<line x1="405.8" y1="405.85" x2="405" y2="405.85" class="mt"/>
<line x1="301.5" y1="402.3" x2="302.3" y2="402.3" class="mt"/>
<line x1="405.8" y1="402.3" x2="405" y2="402.3" class="mt"/>
<line x1="301.5" y1="399.55" x2="302.3" y2="399.55" class="mt"/>
<line x1="405.8" y1="399.55" x2="405" y2="399.55" class="mt"/>
<line x1="301.5" y1="397.3" x2="302.3" y2="397.3" class="mt"/>
<line x1="405.8" y1="397.3" x2="405" y2="397.3" class="mt"/>
<line x1="301.5" y1="395.4" x2="302.3" y2="395.4" class="mt"/>
<line x1="405.8" y1="395.4" x2="405" y2="395.4" class="mt"/>
<line x1="301.5" y1="393.75" x2="302.3" y2="393.75" class="mt"/>
<line x1="405.8" y1="393.75" x2="405" y2="393.75" class="mt"/>
<line x1="301.5" y1="392.3" x2="302.3" y2="392.3" class="mt"/>
<line x1="405.8" y1="392.3" x2="405" y2="392.3" class="mt"/>
<line x1="301.5" y1="391" x2="302.3" y2="391" class="mt"/>
<line x1="405.8" y1="391" x2="405" y2="391" class="mt"/>
<line x1="301.5" y1="382.45" x2="302.3" y2="382.45" class="mt"/>
<line x1="405.8" y1="382.45" x2="405" y2="382.45" class="mt"/>
<text transform="translate(308.16,463.1) rotate(-90) scale(1,1.15)" font-size="6.35" text-anchor="end" class="tl">GAO</text>
<text transform="translate(316.18,463.1) rotate(-90) scale(1,1.15)" font-size="6.35" text-anchor="end" class="tl">WSO</text>
<text transform="translate(324.21,463.1) rotate(-90) scale(1,1.15)" font-size="6.35" text-anchor="end" class="tl">AVOA</text>
<text transform="translate(332.23,463.1) rotate(-90) scale(1,1.15)" font-size="6.35" text-anchor="end" class="tl">RSA</text>
<text transform="translate(340.25,463.1) rotate(-90) scale(1,1.15)" font-size="6.35" text-anchor="end" class="tl">MPA</text>
<text transform="translate(348.28,463.1) rotate(-90) scale(1,1.15)" font-size="6.35" text-anchor="end" class="tl">TSA</text>
<text transform="translate(356.3,463.1) rotate(-90) scale(1,1.15)" font-size="6.35" text-anchor="end" class="tl">WOA</text>
<text transform="translate(364.32,463.1) rotate(-90) scale(1,1.15)" font-size="6.35" text-anchor="end" class="tl">MVO</text>
<text transform="translate(372.35,463.1) rotate(-90) scale(1,1.15)" font-size="6.35" text-anchor="end" class="tl">GWO</text>
<text transform="translate(380.37,463.1) rotate(-90) scale(1,1.15)" font-size="6.35" text-anchor="end" class="tl">TLBO</text>
<text transform="translate(388.39,463.1) rotate(-90) scale(1,1.15)" font-size="6.35" text-anchor="end" class="tl">GSA</text>
<text transform="translate(396.42,463.1) rotate(-90) scale(1,1.15)" font-size="6.35" text-anchor="end" class="tl">PSO</text>
<text transform="translate(404.44,463.1) rotate(-90) scale(1,1.15)" font-size="6.35" text-anchor="end" class="tl">GA</text>
<text transform="translate(353.65,488.3)" font-size="7.1" text-anchor="middle">algorithm</text>
<text transform="translate(288.4,419.6) rotate(-90) scale(1,1.15)" font-size="7.02" text-anchor="middle">objective function</text>
<text transform="translate(353.65,375.9)" font-size="7.1" text-anchor="middle" font-weight="bold" class="tt">C11-F15</text>
<g>
<line x1="444.69" y1="459.8" x2="446.69" y2="459.8" class="cap"/>
<line x1="444.69" y1="460.9" x2="446.69" y2="460.9" class="cap"/>
<rect x="443.44" y="459.55" width="4.5" height="1.6" class="bxs"/>
<line x1="444.24" y1="460.3" x2="447.14" y2="460.3" class="md"/>
<line x1="452.68" y1="432.4" x2="454.68" y2="432.4" class="cap"/>
<line x1="452.68" y1="447.6" x2="454.68" y2="447.6" class="cap"/>
<rect x="451.83" y="432.4" width="3.7" height="15.2" rx="0.3" class="bx"/>
<line x1="452.23" y1="442.3" x2="455.13" y2="442.3" class="md"/>
<path d="M452.83 428L454.53 428L453.68 426Z" class="ol"/>
<path d="M452.83 452.7L454.53 452.7L453.68 450.7Z" class="ol"/>
<line x1="460.66" y1="459.8" x2="462.66" y2="459.8" class="cap"/>
<line x1="460.66" y1="460.9" x2="462.66" y2="460.9" class="cap"/>
<rect x="459.41" y="459.55" width="4.5" height="1.6" class="bxs"/>
<line x1="460.21" y1="460.3" x2="463.11" y2="460.3" class="md"/>
<line x1="468.65" y1="422.3" x2="470.65" y2="422.3" class="cap"/>
<line x1="468.65" y1="439.4" x2="470.65" y2="439.4" class="cap"/>
<rect x="467.8" y="422.3" width="3.7" height="17.1" rx="0.3" class="bx"/>
<line x1="468.2" y1="433.7" x2="471.1" y2="433.7" class="md"/>
<path d="M468.8 418.1L470.5 418.1L469.65 416.1Z" class="ol"/>
<path d="M468.8 446L470.5 446L469.65 444Z" class="ol"/>
<line x1="476.63" y1="459.8" x2="478.63" y2="459.8" class="cap"/>
<line x1="476.63" y1="460.9" x2="478.63" y2="460.9" class="cap"/>
<rect x="475.38" y="459.55" width="4.5" height="1.6" class="bxs"/>
<line x1="476.18" y1="460.3" x2="479.08" y2="460.3" class="md"/>
<line x1="484.62" y1="459.6" x2="486.62" y2="459.6" class="cap"/>
<line x1="484.62" y1="460.9" x2="486.62" y2="460.9" class="cap"/>
<rect x="483.77" y="459.6" width="3.7" height="1.3" rx="0.3" class="bx"/>
<line x1="484.17" y1="460.2" x2="487.07" y2="460.2" class="md"/>
<line x1="492.6" y1="459.6" x2="494.6" y2="459.6" class="cap"/>
<line x1="492.6" y1="460.9" x2="494.6" y2="460.9" class="cap"/>
<rect x="491.75" y="459.6" width="3.7" height="1.3" rx="0.3" class="bx"/>
<line x1="492.15" y1="460.2" x2="495.05" y2="460.2" class="md"/>
<line x1="500.58" y1="459.6" x2="502.58" y2="459.6" class="cap"/>
<line x1="500.58" y1="460.9" x2="502.58" y2="460.9" class="cap"/>
<rect x="499.73" y="459.6" width="3.7" height="1.3" rx="0.3" class="bx"/>
<line x1="500.13" y1="460.2" x2="503.03" y2="460.2" class="md"/>
<line x1="508.57" y1="459.2" x2="510.57" y2="459.2" class="cap"/>
<line x1="508.57" y1="460.6" x2="510.57" y2="460.6" class="cap"/>
<rect x="507.72" y="459.2" width="3.7" height="1.4" rx="0.3" class="bx"/>
<line x1="508.12" y1="459.9" x2="511.02" y2="459.9" class="md"/>
<line x1="516.55" y1="379" x2="518.55" y2="379" class="cap"/>
<line x1="516.55" y1="380.3" x2="518.55" y2="380.3" class="cap"/>
<rect x="515.7" y="379" width="3.7" height="1.3" rx="0.3" class="bx"/>
<line x1="516.1" y1="379.6" x2="519" y2="379.6" class="md"/>
<line x1="525.54" y1="404.7" x2="525.54" y2="407.1" class="wh"/>
<line x1="524.54" y1="395.7" x2="526.54" y2="395.7" class="cap"/>
<line x1="524.54" y1="407.1" x2="526.54" y2="407.1" class="cap"/>
<rect x="523.69" y="395.7" width="3.7" height="9" rx="0.3" class="bx"/>
<line x1="524.09" y1="401.4" x2="526.99" y2="401.4" class="md"/>
<path d="M524.69 392.9L526.39 392.9L525.54 390.9Z" class="ol"/>
<line x1="533.52" y1="380" x2="533.52" y2="378.6" class="wh"/>
<line x1="533.52" y1="383" x2="533.52" y2="383.8" class="wh"/>
<line x1="532.52" y1="378.6" x2="534.52" y2="378.6" class="cap"/>
<line x1="532.52" y1="383.8" x2="534.52" y2="383.8" class="cap"/>
<rect x="531.67" y="380" width="3.7" height="3" rx="0.3" class="bx"/>
<line x1="532.07" y1="381.1" x2="534.97" y2="381.1" class="md"/>
<line x1="541.51" y1="380" x2="541.51" y2="378.6" class="wh"/>
<line x1="541.51" y1="383.4" x2="541.51" y2="384" class="wh"/>
<line x1="540.51" y1="378.6" x2="542.51" y2="378.6" class="cap"/>
<line x1="540.51" y1="384" x2="542.51" y2="384" class="cap"/>
<rect x="539.66" y="380" width="3.7" height="3.4" rx="0.3" class="bx"/>
<line x1="540.06" y1="381.5" x2="542.96" y2="381.5" class="md"/>
</g>
<rect x="441.7" y="377.9" width="103.8" height="83.4" class="ax"/>
<line x1="445.69" y1="461.3" x2="445.69" y2="460.1" class="tk"/>
<line x1="445.69" y1="377.9" x2="445.69" y2="379.1" class="tk"/>
<line x1="453.68" y1="461.3" x2="453.68" y2="460.1" class="tk"/>
<line x1="453.68" y1="377.9" x2="453.68" y2="379.1" class="tk"/>
<line x1="461.66" y1="461.3" x2="461.66" y2="460.1" class="tk"/>
<line x1="461.66" y1="377.9" x2="461.66" y2="379.1" class="tk"/>
<line x1="469.65" y1="461.3" x2="469.65" y2="460.1" class="tk"/>
<line x1="469.65" y1="377.9" x2="469.65" y2="379.1" class="tk"/>
<line x1="477.63" y1="461.3" x2="477.63" y2="460.1" class="tk"/>
<line x1="477.63" y1="377.9" x2="477.63" y2="379.1" class="tk"/>
<line x1="485.62" y1="461.3" x2="485.62" y2="460.1" class="tk"/>
<line x1="485.62" y1="377.9" x2="485.62" y2="379.1" class="tk"/>
<line x1="493.6" y1="461.3" x2="493.6" y2="460.1" class="tk"/>
<line x1="493.6" y1="377.9" x2="493.6" y2="379.1" class="tk"/>
<line x1="501.58" y1="461.3" x2="501.58" y2="460.1" class="tk"/>
<line x1="501.58" y1="377.9" x2="501.58" y2="379.1" class="tk"/>
<line x1="509.57" y1="461.3" x2="509.57" y2="460.1" class="tk"/>
<line x1="509.57" y1="377.9" x2="509.57" y2="379.1" class="tk"/>
<line x1="517.55" y1="461.3" x2="517.55" y2="460.1" class="tk"/>
<line x1="517.55" y1="377.9" x2="517.55" y2="379.1" class="tk"/>
<line x1="525.54" y1="461.3" x2="525.54" y2="460.1" class="tk"/>
<line x1="525.54" y1="377.9" x2="525.54" y2="379.1" class="tk"/>
<line x1="533.52" y1="461.3" x2="533.52" y2="460.1" class="tk"/>
<line x1="533.52" y1="377.9" x2="533.52" y2="379.1" class="tk"/>
<line x1="541.51" y1="461.3" x2="541.51" y2="460.1" class="tk"/>
<line x1="541.51" y1="377.9" x2="541.51" y2="379.1" class="tk"/>
<line x1="441.7" y1="407.1" x2="442.9" y2="407.1" class="tk"/>
<line x1="545.5" y1="407.1" x2="544.3" y2="407.1" class="tk"/>
<text transform="translate(440.2,410)" font-size="6.35" text-anchor="end" class="tl">10<tspan font-size="4.8" dy="-3.0">7</tspan></text>
<line x1="441.7" y1="436.2" x2="442.9" y2="436.2" class="tk"/>
<line x1="545.5" y1="436.2" x2="544.3" y2="436.2" class="tk"/>
<text transform="translate(440.2,439.1)" font-size="6.35" text-anchor="end" class="tl">10<tspan font-size="4.8" dy="-3.0">6</tspan></text>
<line x1="441.7" y1="456.54" x2="442.5" y2="456.54" class="mt"/>
<line x1="545.5" y1="456.54" x2="544.7" y2="456.54" class="mt"/>
<line x1="441.7" y1="451.42" x2="442.5" y2="451.42" class="mt"/>
<line x1="545.5" y1="451.42" x2="544.7" y2="451.42" class="mt"/>
<line x1="441.7" y1="447.78" x2="442.5" y2="447.78" class="mt"/>
<line x1="545.5" y1="447.78" x2="544.7" y2="447.78" class="mt"/>
<line x1="441.7" y1="444.96" x2="442.5" y2="444.96" class="mt"/>
<line x1="545.5" y1="444.96" x2="544.7" y2="444.96" class="mt"/>
<line x1="441.7" y1="442.66" x2="442.5" y2="442.66" class="mt"/>
<line x1="545.5" y1="442.66" x2="544.7" y2="442.66" class="mt"/>
<line x1="441.7" y1="440.71" x2="442.5" y2="440.71" class="mt"/>
<line x1="545.5" y1="440.71" x2="544.7" y2="440.71" class="mt"/>
<line x1="441.7" y1="439.02" x2="442.5" y2="439.02" class="mt"/>
<line x1="545.5" y1="439.02" x2="544.7" y2="439.02" class="mt"/>
<line x1="441.7" y1="437.53" x2="442.5" y2="437.53" class="mt"/>
<line x1="545.5" y1="437.53" x2="544.7" y2="437.53" class="mt"/>
<line x1="441.7" y1="436.2" x2="442.5" y2="436.2" class="mt"/>
<line x1="545.5" y1="436.2" x2="544.7" y2="436.2" class="mt"/>
<line x1="441.7" y1="427.44" x2="442.5" y2="427.44" class="mt"/>
<line x1="545.5" y1="427.44" x2="544.7" y2="427.44" class="mt"/>
<line x1="441.7" y1="422.32" x2="442.5" y2="422.32" class="mt"/>
<line x1="545.5" y1="422.32" x2="544.7" y2="422.32" class="mt"/>
<line x1="441.7" y1="418.68" x2="442.5" y2="418.68" class="mt"/>
<line x1="545.5" y1="418.68" x2="544.7" y2="418.68" class="mt"/>
<line x1="441.7" y1="415.86" x2="442.5" y2="415.86" class="mt"/>
<line x1="545.5" y1="415.86" x2="544.7" y2="415.86" class="mt"/>
<line x1="441.7" y1="413.56" x2="442.5" y2="413.56" class="mt"/>
<line x1="545.5" y1="413.56" x2="544.7" y2="413.56" class="mt"/>
<line x1="441.7" y1="411.61" x2="442.5" y2="411.61" class="mt"/>
<line x1="545.5" y1="411.61" x2="544.7" y2="411.61" class="mt"/>
<line x1="441.7" y1="409.92" x2="442.5" y2="409.92" class="mt"/>
<line x1="545.5" y1="409.92" x2="544.7" y2="409.92" class="mt"/>
<line x1="441.7" y1="408.43" x2="442.5" y2="408.43" class="mt"/>
<line x1="545.5" y1="408.43" x2="544.7" y2="408.43" class="mt"/>
<line x1="441.7" y1="407.1" x2="442.5" y2="407.1" class="mt"/>
<line x1="545.5" y1="407.1" x2="544.7" y2="407.1" class="mt"/>
<line x1="441.7" y1="398.34" x2="442.5" y2="398.34" class="mt"/>
<line x1="545.5" y1="398.34" x2="544.7" y2="398.34" class="mt"/>
<line x1="441.7" y1="393.22" x2="442.5" y2="393.22" class="mt"/>
<line x1="545.5" y1="393.22" x2="544.7" y2="393.22" class="mt"/>
<line x1="441.7" y1="389.58" x2="442.5" y2="389.58" class="mt"/>
<line x1="545.5" y1="389.58" x2="544.7" y2="389.58" class="mt"/>
<line x1="441.7" y1="386.76" x2="442.5" y2="386.76" class="mt"/>
<line x1="545.5" y1="386.76" x2="544.7" y2="386.76" class="mt"/>
<line x1="441.7" y1="384.46" x2="442.5" y2="384.46" class="mt"/>
<line x1="545.5" y1="384.46" x2="544.7" y2="384.46" class="mt"/>
<line x1="441.7" y1="382.51" x2="442.5" y2="382.51" class="mt"/>
<line x1="545.5" y1="382.51" x2="544.7" y2="382.51" class="mt"/>
<line x1="441.7" y1="380.82" x2="442.5" y2="380.82" class="mt"/>
<line x1="545.5" y1="380.82" x2="544.7" y2="380.82" class="mt"/>
<line x1="441.7" y1="379.33" x2="442.5" y2="379.33" class="mt"/>
<line x1="545.5" y1="379.33" x2="544.7" y2="379.33" class="mt"/>
<text transform="translate(448.34,463.1) rotate(-90) scale(1,1.15)" font-size="6.35" text-anchor="end" class="tl">GAO</text>
<text transform="translate(456.33,463.1) rotate(-90) scale(1,1.15)" font-size="6.35" text-anchor="end" class="tl">WSO</text>
<text transform="translate(464.31,463.1) rotate(-90) scale(1,1.15)" font-size="6.35" text-anchor="end" class="tl">AVOA</text>
<text transform="translate(472.3,463.1) rotate(-90) scale(1,1.15)" font-size="6.35" text-anchor="end" class="tl">RSA</text>
<text transform="translate(480.28,463.1) rotate(-90) scale(1,1.15)" font-size="6.35" text-anchor="end" class="tl">MPA</text>
<text transform="translate(488.27,463.1) rotate(-90) scale(1,1.15)" font-size="6.35" text-anchor="end" class="tl">TSA</text>
<text transform="translate(496.25,463.1) rotate(-90) scale(1,1.15)" font-size="6.35" text-anchor="end" class="tl">WOA</text>
<text transform="translate(504.23,463.1) rotate(-90) scale(1,1.15)" font-size="6.35" text-anchor="end" class="tl">MVO</text>
<text transform="translate(512.22,463.1) rotate(-90) scale(1,1.15)" font-size="6.35" text-anchor="end" class="tl">GWO</text>
<text transform="translate(520.2,463.1) rotate(-90) scale(1,1.15)" font-size="6.35" text-anchor="end" class="tl">TLBO</text>
<text transform="translate(528.19,463.1) rotate(-90) scale(1,1.15)" font-size="6.35" text-anchor="end" class="tl">GSA</text>
<text transform="translate(536.17,463.1) rotate(-90) scale(1,1.15)" font-size="6.35" text-anchor="end" class="tl">PSO</text>
<text transform="translate(544.16,463.1) rotate(-90) scale(1,1.15)" font-size="6.35" text-anchor="end" class="tl">GA</text>
<text transform="translate(493.6,488.3)" font-size="7.1" text-anchor="middle">algorithm</text>
<text transform="translate(428.4,419.25) rotate(-90) scale(1,1.15)" font-size="6.93" text-anchor="middle">objective function</text>
<text transform="translate(493.6,375.9)" font-size="7.1" text-anchor="middle" font-weight="bold" class="tt">C11-F16</text>
</svg>
</body></html>
